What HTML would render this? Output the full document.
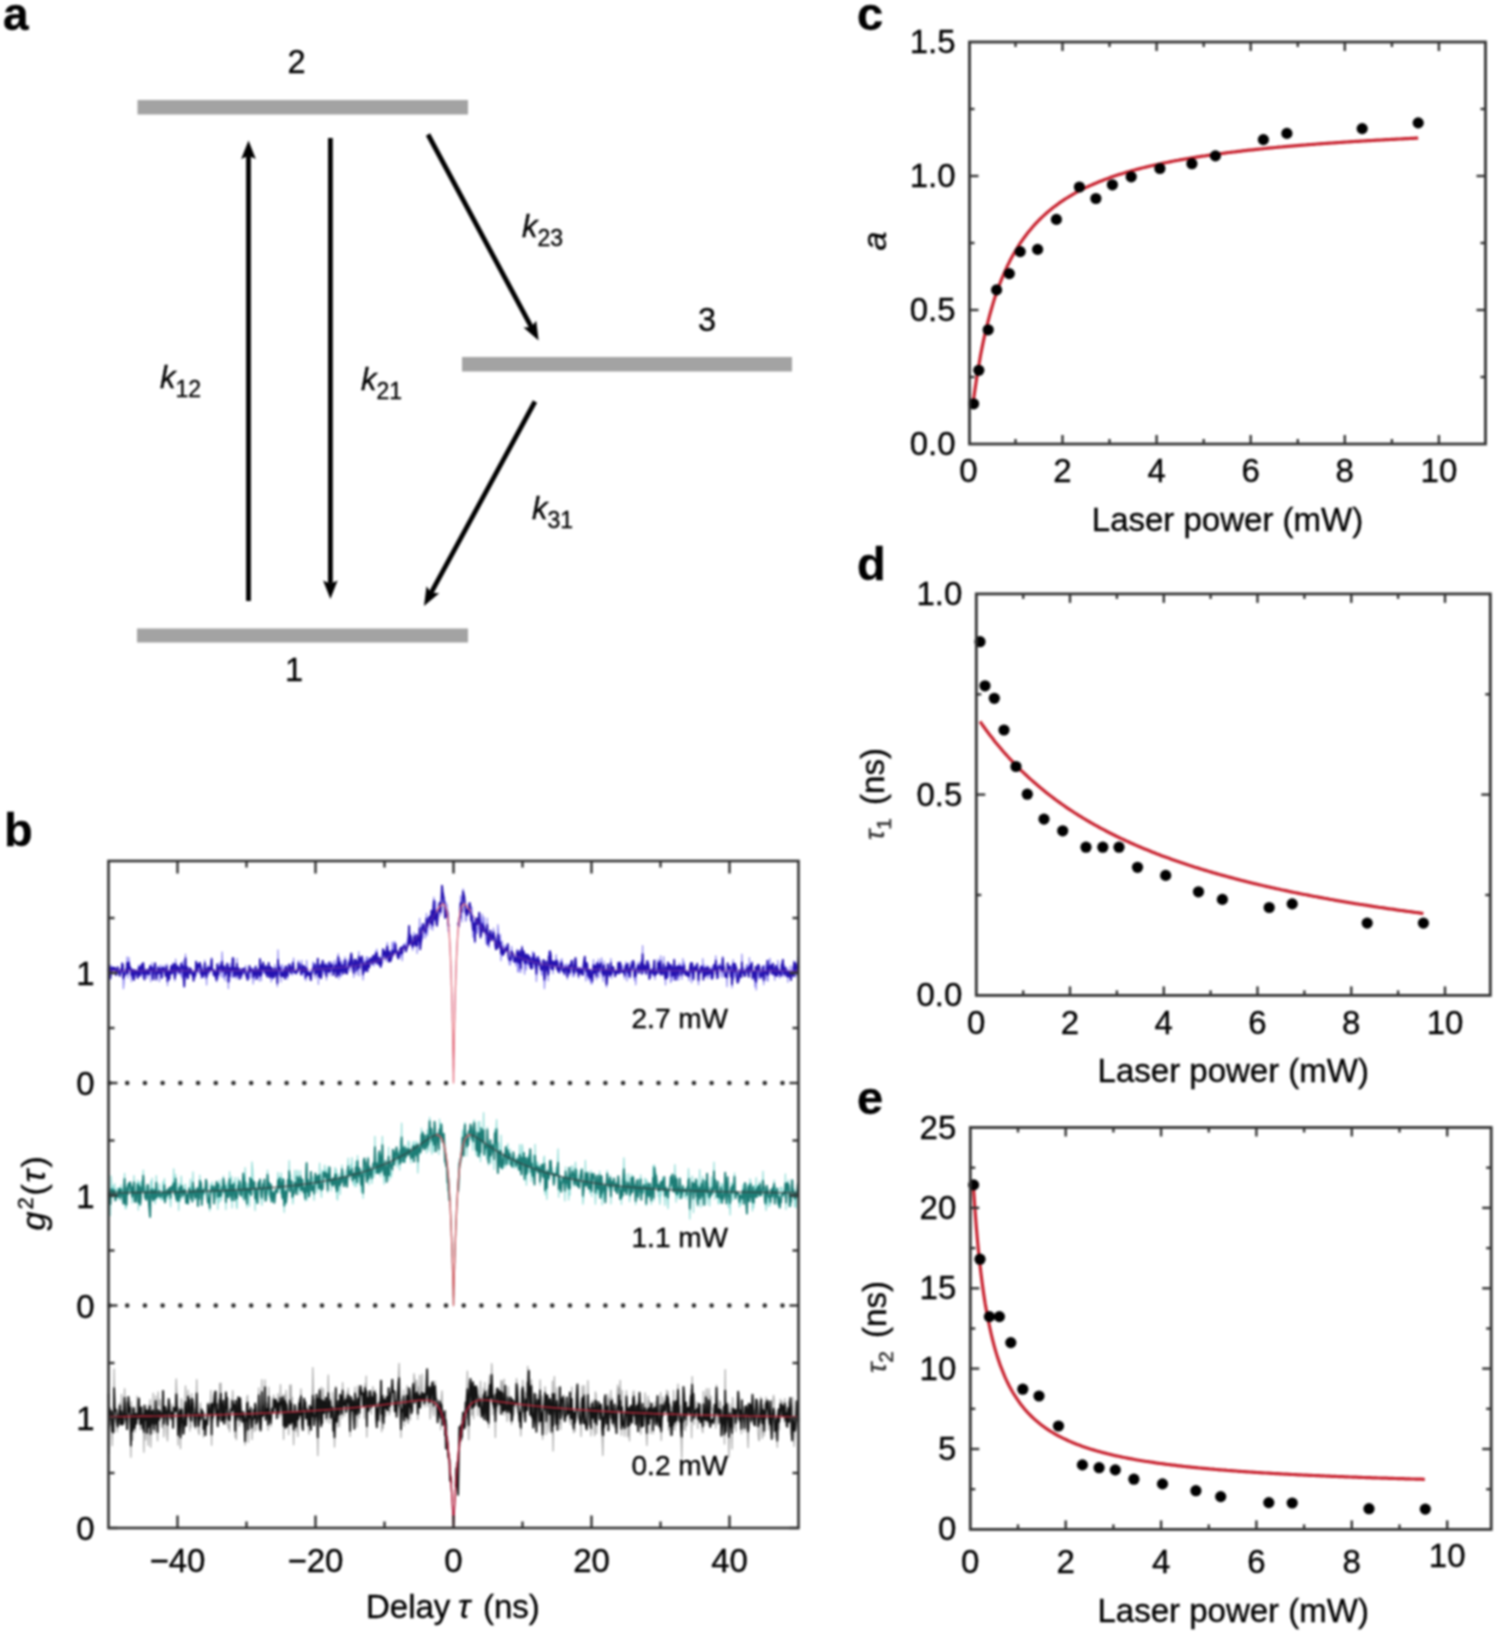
<!DOCTYPE html>
<html><head><meta charset="utf-8"><title>Figure</title>
<style>html,body{margin:0;padding:0;background:#fff;} text{stroke:#000;stroke-width:0.35px;} svg{display:block;} #w{filter:blur(1px);width:1500px;height:1634px;}</style></head>
<body><div id="w"><svg width="1500" height="1634" viewBox="0 0 1500 1634" font-family="'Liberation Sans', Arial, Helvetica, sans-serif">
<rect width="1500" height="1634" fill="#fff"/>
<text x="3" y="29.5" font-size="46" font-weight="bold" fill="#000">a</text>
<rect x="137.5" y="100" width="330.5" height="14.5" fill="#a3a3a3"/>
<rect x="462" y="357" width="330" height="14.5" fill="#a3a3a3"/>
<rect x="137" y="628.5" width="331" height="14" fill="#a3a3a3"/>
<text x="296.5" y="72.5" font-size="32.5" text-anchor="middle" fill="#000">2</text>
<text x="707" y="330.5" font-size="32.5" text-anchor="middle" fill="#000">3</text>
<text x="294" y="681" font-size="32.5" text-anchor="middle" fill="#000">1</text>
<line x1="248.5" y1="601.0" x2="248.5" y2="155.7" stroke="#000" stroke-width="4.8"/>
<polygon points="248.5,140.5 255.8,159.0 248.5,155.7 241.2,159.0" fill="#000"/>
<line x1="330.4" y1="138.0" x2="330.4" y2="583.8" stroke="#000" stroke-width="4.8"/>
<polygon points="330.4,599.0 323.1,580.5 330.4,583.8 337.6,580.5" fill="#000"/>
<line x1="428.0" y1="134.5" x2="531.4" y2="327.1" stroke="#000" stroke-width="4.8"/>
<polygon points="538.6,340.5 523.5,327.6 531.4,327.1 536.2,320.8" fill="#000"/>
<line x1="535.0" y1="401.5" x2="431.2" y2="592.7" stroke="#000" stroke-width="4.8"/>
<polygon points="424.0,606.0 426.5,586.3 431.2,592.7 439.2,593.2" fill="#000"/>
<text x="160" y="388" font-size="31" fill="#000"><tspan font-style="italic">k</tspan><tspan font-size="23" dy="9">12</tspan></text>
<text x="361" y="390" font-size="31" fill="#000"><tspan font-style="italic">k</tspan><tspan font-size="23" dy="9">21</tspan></text>
<text x="522" y="237" font-size="31" fill="#000"><tspan font-style="italic">k</tspan><tspan font-size="23" dy="9">23</tspan></text>
<text x="532" y="519" font-size="31" fill="#000"><tspan font-style="italic">k</tspan><tspan font-size="23" dy="9">31</tspan></text>
<text x="4" y="845.5" font-size="47" font-weight="bold" fill="#000">b</text>
<polyline points="108.5,968.5 109.1,965.4 109.7,968.6 110.4,979.4 111.0,964.8 111.6,967.9 112.2,974.3 112.8,967.0 113.5,968.4 114.1,968.9 114.7,970.6 115.3,967.2 116.0,975.7 116.6,971.9 117.2,974.0 117.8,966.8 118.4,970.5 119.1,972.7 119.7,976.0 120.3,972.5 120.9,970.7 121.5,972.6 122.2,962.3 122.8,964.2 123.4,988.7 124.0,983.3 124.6,971.9 125.3,973.6 125.9,969.4 126.5,969.4 127.1,956.8 127.8,978.1 128.4,973.3 129.0,957.3 129.6,966.5 130.2,966.4 130.9,974.2 131.5,981.7 132.1,969.7 132.7,970.1 133.3,978.9 134.0,975.3 134.6,971.3 135.2,977.0 135.8,971.4 136.4,970.2 137.1,970.6 137.7,974.1 138.3,966.9 138.9,964.9 139.6,968.7 140.2,976.2 140.8,966.0 141.4,974.1 142.0,965.0 142.7,977.9 143.3,964.8 143.9,970.9 144.5,979.0 145.1,972.9 145.8,970.4 146.4,969.0 147.0,977.3 147.6,978.1 148.2,969.5 148.9,973.9 149.5,969.2 150.1,965.8 150.7,981.7 151.3,969.1 152.0,962.7 152.6,972.8 153.2,976.1 153.8,965.8 154.5,969.1 155.1,964.9 155.7,973.1 156.3,980.6 156.9,971.5 157.6,973.7 158.2,965.7 158.8,969.5 159.4,981.6 160.0,978.7 160.7,965.0 161.3,966.3 161.9,975.0 162.5,970.8 163.1,967.8 163.8,967.7 164.4,965.0 165.0,969.1 165.6,971.4 166.3,972.5 166.9,963.8 167.5,985.6 168.1,971.7 168.7,970.6 169.4,980.2 170.0,968.6 170.6,975.1 171.2,965.1 171.8,971.6 172.5,966.4 173.1,962.7 173.7,968.3 174.3,976.6 174.9,980.8 175.6,959.2 176.2,971.5 176.8,975.3 177.4,969.8 178.1,972.0 178.7,965.2 179.3,970.6 179.9,970.7 180.5,975.5 181.2,967.7 181.8,977.6 182.4,966.4 183.0,960.7 183.6,980.8 184.3,987.1 184.9,966.7 185.5,954.0 186.1,977.4 186.7,979.0 187.4,966.9 188.0,976.3 188.6,974.1 189.2,973.1 189.9,967.3 190.5,973.4 191.1,968.9 191.7,971.9 192.3,976.3 193.0,972.9 193.6,977.0 194.2,970.7 194.8,978.2 195.4,978.0 196.1,961.1 196.7,971.1 197.3,971.1 197.9,967.4 198.5,973.5 199.2,972.3 199.8,967.9 200.4,968.9 201.0,978.4 201.7,965.3 202.3,974.7 202.9,977.7 203.5,976.7 204.1,973.3 204.8,960.0 205.4,978.5 206.0,969.7 206.6,984.9 207.2,970.8 207.9,964.8 208.5,972.3 209.1,974.9 209.7,969.2 210.3,966.1 211.0,966.4 211.6,957.7 212.2,969.4 212.8,974.6 213.4,971.6 214.1,971.2 214.7,970.0 215.3,970.9 215.9,969.6 216.6,981.8 217.2,965.2 217.8,974.5 218.4,978.5 219.0,966.5 219.7,962.0 220.3,967.5 220.9,969.7 221.5,976.9 222.1,951.8 222.8,964.9 223.4,978.2 224.0,975.9 224.6,970.1 225.2,981.0 225.9,969.6 226.5,973.7 227.1,962.6 227.7,964.3 228.4,988.6 229.0,970.4 229.6,981.4 230.2,963.4 230.8,969.6 231.5,967.1 232.1,977.7 232.7,958.6 233.3,957.3 233.9,977.7 234.6,968.2 235.2,975.1 235.8,970.8 236.4,979.0 237.0,958.3 237.7,977.1 238.3,972.6 238.9,967.3 239.5,974.9 240.2,972.2 240.8,974.4 241.4,971.5 242.0,978.4 242.6,973.5 243.3,972.0 243.9,972.8 244.5,970.3 245.1,972.6 245.7,965.6 246.4,972.8 247.0,971.5 247.6,975.0 248.2,974.1 248.8,979.0 249.5,967.2 250.1,978.1 250.7,975.5 251.3,968.2 252.0,967.9 252.6,973.2 253.2,983.9 253.8,967.8 254.4,968.9 255.1,979.9 255.7,965.5 256.3,975.2 256.9,978.0 257.5,969.9 258.2,971.7 258.8,969.2 259.4,981.1 260.0,958.5 260.6,974.5 261.3,980.7 261.9,966.4 262.5,972.8 263.1,968.3 263.8,972.7 264.4,970.9 265.0,968.9 265.6,975.4 266.2,966.0 266.9,973.6 267.5,976.2 268.1,969.9 268.7,967.5 269.3,971.9 270.0,976.1 270.6,966.3 271.2,982.0 271.8,977.2 272.4,970.1 273.1,979.4 273.7,970.2 274.3,970.7 274.9,964.4 275.5,976.4 276.2,974.5 276.8,968.1 277.4,986.6 278.0,949.8 278.7,974.9 279.3,975.1 279.9,964.6 280.5,970.5 281.1,982.0 281.8,966.1 282.4,964.6 283.0,973.2 283.6,972.1 284.2,967.0 284.9,976.2 285.5,967.3 286.1,968.9 286.7,974.6 287.3,979.4 288.0,971.6 288.6,975.9 289.2,963.5 289.8,969.2 290.5,964.9 291.1,969.2 291.7,968.3 292.3,975.2 292.9,965.6 293.6,958.2 294.2,972.1 294.8,973.9 295.4,971.0 296.0,973.2 296.7,974.6 297.3,969.0 297.9,971.8 298.5,960.4 299.1,969.9 299.8,967.7 300.4,963.5 301.0,971.8 301.6,960.3 302.3,974.0 302.9,975.1 303.5,972.2 304.1,970.5 304.7,979.0 305.4,969.9 306.0,980.7 306.6,960.4 307.2,970.2 307.8,973.9 308.5,975.6 309.1,972.1 309.7,971.0 310.3,976.5 310.9,975.6 311.6,970.7 312.2,972.9 312.8,963.2 313.4,961.8 314.1,969.3 314.7,966.2 315.3,978.2 315.9,965.0 316.5,969.5 317.2,966.0 317.8,958.6 318.4,984.3 319.0,967.4 319.6,976.4 320.3,965.1 320.9,977.8 321.5,972.3 322.1,967.6 322.7,964.8 323.4,968.4 324.0,974.1 324.6,972.5 325.2,962.9 325.9,968.8 326.5,979.9 327.1,963.0 327.7,965.8 328.3,962.8 329.0,970.8 329.6,963.0 330.2,975.5 330.8,964.6 331.4,971.6 332.1,963.8 332.7,961.6 333.3,973.1 333.9,968.5 334.5,967.9 335.2,960.1 335.8,963.3 336.4,976.1 337.0,964.8 337.6,962.9 338.3,953.6 338.9,979.0 339.5,971.3 340.1,958.7 340.8,976.6 341.4,975.5 342.0,964.0 342.6,960.5 343.2,971.8 343.9,963.6 344.5,966.4 345.1,956.9 345.7,967.0 346.3,960.3 347.0,972.9 347.6,968.0 348.2,967.4 348.8,959.0 349.4,962.7 350.1,971.5 350.7,961.8 351.3,961.1 351.9,967.0 352.6,967.9 353.2,967.4 353.8,977.4 354.4,964.6 355.0,964.2 355.7,971.5 356.3,960.6 356.9,974.8 357.5,969.1 358.1,968.5 358.8,951.7 359.4,975.9 360.0,961.2 360.6,958.5 361.2,962.2 361.9,956.6 362.5,971.3 363.1,979.9 363.7,959.1 364.4,972.3 365.0,966.2 365.6,971.9 366.2,956.6 366.8,957.7 367.5,968.4 368.1,957.2 368.7,962.4 369.3,964.0 369.9,962.5 370.6,964.1 371.2,958.4 371.8,960.3 372.4,964.7 373.0,955.2 373.7,966.1 374.3,959.8 374.9,958.7 375.5,951.3 376.2,964.7 376.8,949.1 377.4,959.7 378.0,962.0 378.6,965.1 379.3,956.2 379.9,959.8 380.5,967.5 381.1,967.5 381.7,963.3 382.4,963.9 383.0,951.5 383.6,949.3 384.2,952.5 384.8,955.8 385.5,961.1 386.1,957.5 386.7,951.4 387.3,942.5 388.0,950.7 388.6,958.8 389.2,956.3 389.8,959.7 390.4,961.5 391.1,957.0 391.7,954.1 392.3,942.2 392.9,954.5 393.5,945.0 394.2,941.7 394.8,953.4 395.4,942.2 396.0,948.2 396.6,955.9 397.3,950.7 397.9,952.1 398.5,953.6 399.1,953.0 399.7,950.1 400.4,947.7 401.0,956.8 401.6,950.1 402.2,960.6 402.9,947.3 403.5,944.3 404.1,947.2 404.7,945.9 405.3,943.2 406.0,951.9 406.6,948.4 407.2,942.4 407.8,938.4 408.4,942.3 409.1,926.0 409.7,944.9 410.3,936.4 410.9,933.9 411.5,943.6 412.2,948.2 412.8,950.3 413.4,939.8 414.0,932.2 414.7,937.8 415.3,938.0 415.9,941.5 416.5,933.8 417.1,953.5 417.8,935.0 418.4,935.9 419.0,945.8 419.6,918.3 420.2,944.7 420.9,941.6 421.5,941.9 422.1,923.5 422.7,938.0 423.3,925.3 424.0,925.2 424.6,926.9 425.2,938.3 425.8,932.1 426.5,913.4 427.1,935.7 427.7,931.3 428.3,925.2 428.9,916.7 429.6,920.1 430.2,915.3 430.8,928.8 431.4,911.8 432.0,913.8 432.7,930.2 433.3,904.1 433.9,897.0 434.5,920.7 435.1,913.0 435.8,901.1 436.4,923.6 437.0,926.8 437.6,920.2 438.3,913.3 438.9,912.6 439.5,901.9 440.1,904.0 440.7,915.8 441.4,900.2 442.0,888.9 442.6,894.3 443.2,896.0 443.8,904.3 444.5,897.0 445.1,914.2 445.7,901.6 446.3,910.8 446.9,904.0 447.6,913.6 448.2,931.4 448.8,928.8" fill="none" stroke="#8f88f0" stroke-width="1.2" stroke-linejoin="round"/>
<polyline points="458.1,923.5 458.7,927.7 459.4,917.3 460.0,915.0 460.6,895.7 461.2,906.5 461.8,921.9 462.5,901.9 463.1,888.9 463.7,898.5 464.3,896.9 465.0,904.2 465.6,921.3 466.2,920.5 466.8,916.4 467.4,907.9 468.1,905.1 468.7,902.9 469.3,912.3 469.9,902.6 470.5,913.7 471.2,918.1 471.8,906.5 472.4,921.8 473.0,937.4 473.6,924.9 474.3,916.6 474.9,942.9 475.5,922.1 476.1,922.8 476.8,932.4 477.4,933.7 478.0,926.6 478.6,928.1 479.2,914.8 479.9,922.6 480.5,938.7 481.1,933.9 481.7,922.6 482.3,914.2 483.0,926.6 483.6,928.0 484.2,916.9 484.8,932.1 485.4,935.0 486.1,944.1 486.7,937.9 487.3,918.2 487.9,946.2 488.6,936.0 489.2,947.3 489.8,936.4 490.4,931.3 491.0,940.4 491.7,933.7 492.3,934.4 492.9,937.1 493.5,928.2 494.1,935.7 494.8,944.3 495.4,947.6 496.0,949.4 496.6,940.1 497.2,946.5 497.9,924.7 498.5,931.7 499.1,947.2 499.7,948.5 500.4,934.3 501.0,960.7 501.6,950.7 502.2,941.0 502.8,954.9 503.5,952.2 504.1,951.7 504.7,944.8 505.3,949.0 505.9,947.5 506.6,946.5 507.2,950.9 507.8,943.6 508.4,957.1 509.0,962.4 509.7,965.2 510.3,964.4 510.9,957.1 511.5,946.3 512.2,952.7 512.8,958.4 513.4,962.1 514.0,958.6 514.6,958.0 515.3,959.4 515.9,965.8 516.5,959.3 517.1,949.1 517.7,971.8 518.4,958.5 519.0,971.9 519.6,956.1 520.2,962.8 520.8,972.4 521.5,957.4 522.1,945.7 522.7,957.8 523.3,950.7 523.9,959.5 524.6,974.2 525.2,956.0 525.8,962.5 526.4,970.0 527.1,954.6 527.7,958.3 528.3,964.1 528.9,954.7 529.5,966.9 530.2,956.6 530.8,967.7 531.4,957.7 532.0,969.1 532.6,951.5 533.3,960.2 533.9,952.3 534.5,967.9 535.1,965.7 535.7,956.8 536.4,981.5 537.0,970.2 537.6,956.0 538.2,960.0 538.9,956.6 539.5,965.6 540.1,959.8 540.7,968.7 541.3,973.2 542.0,975.5 542.6,967.9 543.2,968.0 543.8,968.6 544.4,988.6 545.1,978.2 545.7,968.3 546.3,962.9 546.9,968.9 547.5,971.0 548.2,980.8 548.8,951.6 549.4,972.8 550.0,954.1 550.7,955.0 551.3,963.8 551.9,969.6 552.5,965.0 553.1,973.7 553.8,964.3 554.4,966.1 555.0,962.6 555.6,959.9 556.2,954.7 556.9,969.1 557.5,959.5 558.1,972.0 558.7,972.7 559.3,970.9 560.0,973.5 560.6,960.4 561.2,960.8 561.8,958.6 562.5,967.3 563.1,965.4 563.7,971.2 564.3,975.1 564.9,964.4 565.6,965.7 566.2,975.0 566.8,963.7 567.4,979.3 568.0,968.9 568.7,972.0 569.3,971.4 569.9,975.1 570.5,961.6 571.1,964.2 571.8,960.2 572.4,967.2 573.0,976.8 573.6,970.7 574.3,976.2 574.9,965.3 575.5,960.4 576.1,966.3 576.7,972.5 577.4,971.0 578.0,967.3 578.6,978.3 579.2,967.7 579.8,967.4 580.5,972.4 581.1,971.6 581.7,967.8 582.3,974.4 582.9,974.4 583.6,963.8 584.2,967.6 584.8,957.9 585.4,975.7 586.0,981.0 586.7,962.9 587.3,962.9 587.9,974.2 588.5,979.1 589.2,969.7 589.8,981.0 590.4,971.7 591.0,984.0 591.6,971.1 592.3,983.6 592.9,971.1 593.5,959.5 594.1,971.4 594.7,964.6 595.4,974.0 596.0,975.7 596.6,979.7 597.2,962.9 597.8,970.2 598.5,959.1 599.1,977.7 599.7,971.4 600.3,969.4 601.0,960.6 601.6,957.9 602.2,974.3 602.8,977.6 603.4,981.6 604.1,961.2 604.7,970.7 605.3,974.4 605.9,970.5 606.5,987.1 607.2,981.6 607.8,964.0 608.4,967.6 609.0,969.3 609.6,976.9 610.3,966.4 610.9,958.5 611.5,978.4 612.1,970.3 612.8,973.2 613.4,968.0 614.0,970.3 614.6,971.4 615.2,976.3 615.9,970.5 616.5,974.5 617.1,971.4 617.7,970.9 618.3,966.2 619.0,974.4 619.6,972.7 620.2,963.4 620.8,972.0 621.4,972.3 622.1,964.8 622.7,968.8 623.3,970.0 623.9,969.1 624.6,978.8 625.2,967.6 625.8,961.8 626.4,966.8 627.0,980.9 627.7,968.7 628.3,976.6 628.9,972.1 629.5,969.8 630.1,978.5 630.8,961.8 631.4,971.1 632.0,965.4 632.6,966.4 633.2,961.8 633.9,962.8 634.5,980.4 635.1,970.4 635.7,984.8 636.4,973.6 637.0,965.9 637.6,964.6 638.2,962.2 638.8,973.2 639.5,968.6 640.1,970.0 640.7,962.3 641.3,960.2 641.9,973.1 642.6,945.7 643.2,970.7 643.8,973.1 644.4,966.7 645.0,965.7 645.7,967.1 646.3,975.0 646.9,961.0 647.5,970.4 648.1,960.6 648.8,961.5 649.4,979.1 650.0,977.2 650.6,977.3 651.3,969.1 651.9,970.3 652.5,968.9 653.1,976.1 653.7,967.9 654.4,961.4 655.0,979.5 655.6,972.0 656.2,969.1 656.8,971.6 657.5,972.0 658.1,959.0 658.7,962.2 659.3,965.1 659.9,975.7 660.6,955.9 661.2,968.3 661.8,974.5 662.4,973.0 663.1,974.0 663.7,956.7 664.3,969.4 664.9,970.3 665.5,985.0 666.2,965.9 666.8,977.7 667.4,978.2 668.0,966.7 668.6,976.4 669.3,965.2 669.9,963.3 670.5,982.6 671.1,971.7 671.7,981.1 672.4,971.2 673.0,964.7 673.6,979.8 674.2,958.9 674.9,972.8 675.5,978.6 676.1,971.6 676.7,965.6 677.3,979.9 678.0,970.8 678.6,979.9 679.2,962.9 679.8,969.8 680.4,973.6 681.1,964.0 681.7,979.3 682.3,973.4 682.9,958.6 683.5,971.7 684.2,961.9 684.8,969.6 685.4,975.5 686.0,972.5 686.7,970.3 687.3,973.6 687.9,976.3 688.5,976.0 689.1,980.7 689.8,970.1 690.4,968.3 691.0,965.9 691.6,982.8 692.2,965.6 692.9,971.0 693.5,980.3 694.1,970.2 694.7,965.5 695.3,967.4 696.0,966.1 696.6,964.6 697.2,965.0 697.8,971.1 698.5,984.6 699.1,975.9 699.7,968.5 700.3,974.0 700.9,966.4 701.6,965.6 702.2,970.6 702.8,958.5 703.4,977.3 704.0,964.7 704.7,974.0 705.3,976.0 705.9,967.0 706.5,975.0 707.1,965.2 707.8,978.6 708.4,970.7 709.0,976.5 709.6,972.4 710.2,973.3 710.9,978.3 711.5,966.6 712.1,979.1 712.7,977.4 713.4,965.0 714.0,964.5 714.6,966.5 715.2,968.6 715.8,955.8 716.5,978.9 717.1,975.8 717.7,977.4 718.3,965.0 718.9,969.0 719.6,963.5 720.2,964.5 720.8,972.4 721.4,976.3 722.0,977.4 722.7,956.3 723.3,964.5 723.9,967.0 724.5,973.1 725.2,972.2 725.8,973.1 726.4,973.0 727.0,986.7 727.6,971.3 728.3,973.4 728.9,969.0 729.5,969.5 730.1,965.2 730.7,971.0 731.4,965.6 732.0,987.8 732.6,978.1 733.2,959.5 733.8,978.9 734.5,972.7 735.1,966.2 735.7,976.7 736.3,966.1 737.0,980.3 737.6,983.5 738.2,979.7 738.8,981.8 739.4,971.0 740.1,973.0 740.7,968.7 741.3,977.7 741.9,954.1 742.5,971.5 743.2,971.2 743.8,967.9 744.4,972.5 745.0,975.0 745.6,970.3 746.3,964.8 746.9,966.5 747.5,964.7 748.1,974.6 748.8,976.0 749.4,957.6 750.0,972.5 750.6,967.7 751.2,966.0 751.9,961.5 752.5,979.8 753.1,974.0 753.7,973.7 754.3,972.9 755.0,986.8 755.6,971.5 756.2,990.0 756.8,968.9 757.4,967.3 758.1,966.9 758.7,978.8 759.3,964.6 759.9,976.6 760.6,979.0 761.2,977.3 761.8,976.4 762.4,969.7 763.0,965.4 763.7,984.7 764.3,974.4 764.9,964.9 765.5,969.5 766.1,967.5 766.8,980.7 767.4,964.5 768.0,981.1 768.6,969.5 769.2,961.8 769.9,958.4 770.5,967.4 771.1,965.0 771.7,974.8 772.3,974.0 773.0,963.1 773.6,970.8 774.2,971.6 774.8,980.1 775.5,969.8 776.1,966.5 776.7,976.0 777.3,974.1 777.9,960.4 778.6,969.6 779.2,972.7 779.8,978.3 780.4,974.9 781.0,972.4 781.7,961.8 782.3,974.8 782.9,959.0 783.5,976.9 784.1,973.2 784.8,965.2 785.4,972.4 786.0,976.3 786.6,971.7 787.3,967.8 787.9,982.1 788.5,972.4 789.1,971.5 789.7,973.5 790.4,965.9 791.0,974.5 791.6,973.2 792.2,970.5 792.8,966.0 793.5,972.3 794.1,960.8 794.7,976.8 795.3,962.3 795.9,976.5 796.6,971.9 797.2,968.4 797.8,957.2 798.4,964.9" fill="none" stroke="#8f88f0" stroke-width="1.2" stroke-linejoin="round"/>
<polyline points="108.5,971.0 109.1,965.8 109.7,967.4 110.4,977.9 111.0,967.9 111.6,968.0 112.2,970.9 112.8,967.7 113.5,969.7 114.1,967.7 114.7,968.9 115.3,968.2 116.0,975.1 116.6,971.0 117.2,970.7 117.8,967.2 118.4,970.4 119.1,972.6 119.7,975.9 120.3,973.6 120.9,969.1 121.5,970.2 122.2,963.8 122.8,964.6 123.4,978.3 124.0,976.0 124.6,975.0 125.3,974.8 125.9,969.4 126.5,972.1 127.1,963.0 127.8,973.4 128.4,970.9 129.0,962.5 129.6,968.5 130.2,967.3 130.9,968.9 131.5,975.2 132.1,971.5 132.7,969.7 133.3,978.3 134.0,979.9 134.6,970.0 135.2,973.8 135.8,973.5 136.4,970.9 137.1,973.8 137.7,978.1 138.3,974.0 138.9,967.5 139.6,970.7 140.2,975.6 140.8,966.1 141.4,968.3 142.0,964.3 142.7,973.5 143.3,963.0 143.9,969.7 144.5,979.5 145.1,972.3 145.8,970.3 146.4,973.2 147.0,973.9 147.6,971.3 148.2,969.5 148.9,974.3 149.5,970.4 150.1,966.0 150.7,970.2 151.3,968.5 152.0,967.7 152.6,975.7 153.2,979.5 153.8,969.9 154.5,968.1 155.1,963.1 155.7,973.3 156.3,979.0 156.9,973.3 157.6,973.3 158.2,967.7 158.8,969.1 159.4,973.0 160.0,971.2 160.7,968.3 161.3,973.6 161.9,977.9 162.5,970.2 163.1,967.6 163.8,970.9 164.4,968.3 165.0,972.2 165.6,976.1 166.3,973.0 166.9,966.2 167.5,981.2 168.1,971.6 168.7,971.2 169.4,978.9 170.0,971.7 170.6,973.1 171.2,966.1 171.8,973.5 172.5,971.0 173.1,965.3 173.7,964.4 174.3,972.8 174.9,978.3 175.6,963.7 176.2,970.1 176.8,971.1 177.4,966.5 178.1,967.7 178.7,967.5 179.3,972.7 179.9,971.0 180.5,972.1 181.2,963.5 181.8,967.0 182.4,967.2 183.0,966.3 183.6,978.7 184.3,986.3 184.9,970.1 185.5,958.2 186.1,975.7 186.7,974.6 187.4,967.2 188.0,978.2 188.6,973.8 189.2,970.5 189.9,968.5 190.5,972.8 191.1,969.4 191.7,971.3 192.3,974.7 193.0,976.0 193.6,980.8 194.2,972.1 194.8,975.4 195.4,975.4 196.1,961.6 196.7,969.3 197.3,971.1 197.9,964.2 198.5,967.1 199.2,966.8 199.8,962.6 200.4,965.2 201.0,974.1 201.7,969.3 202.3,976.9 202.9,976.1 203.5,972.5 204.1,971.7 204.8,963.0 205.4,974.9 206.0,969.1 206.6,977.0 207.2,970.7 207.9,967.3 208.5,971.9 209.1,968.6 209.7,968.1 210.3,970.7 211.0,965.4 211.6,959.1 212.2,969.1 212.8,970.3 213.4,969.9 214.1,975.6 214.7,971.7 215.3,972.6 215.9,977.4 216.6,980.2 217.2,964.3 217.8,970.1 218.4,974.9 219.0,968.8 219.7,967.0 220.3,967.3 220.9,965.2 221.5,971.5 222.1,961.7 222.8,969.4 223.4,970.8 224.0,968.6 224.6,966.5 225.2,975.3 225.9,970.7 226.5,972.0 227.1,963.9 227.7,965.7 228.4,981.6 229.0,967.9 229.6,976.1 230.2,968.6 230.8,971.2 231.5,967.6 232.1,970.2 232.7,958.3 233.3,958.8 233.9,976.1 234.6,967.9 235.2,968.3 235.8,970.0 236.4,975.8 237.0,963.9 237.7,974.3 238.3,970.4 238.9,968.8 239.5,978.9 240.2,976.6 240.8,972.0 241.4,969.2 242.0,974.6 242.6,971.8 243.3,968.6 243.9,970.9 244.5,968.5 245.1,972.7 245.7,973.8 246.4,976.1 247.0,977.6 247.6,979.9 248.2,972.2 248.8,970.8 249.5,966.0 250.1,971.6 250.7,969.8 251.3,969.7 252.0,969.5 252.6,972.0 253.2,977.4 253.8,970.4 254.4,970.5 255.1,975.1 255.7,966.7 256.3,974.7 256.9,978.8 257.5,970.8 258.2,969.4 258.8,970.3 259.4,976.0 260.0,959.2 260.6,973.0 261.3,975.3 261.9,965.5 262.5,969.5 263.1,962.5 263.8,965.9 264.4,970.3 265.0,971.3 265.6,973.1 266.2,966.1 266.9,973.4 267.5,976.8 268.1,970.1 268.7,962.9 269.3,971.9 270.0,977.5 270.6,967.0 271.2,976.3 271.8,971.3 272.4,968.5 273.1,977.6 273.7,974.9 274.3,976.9 274.9,968.1 275.5,972.0 276.2,974.3 276.8,970.6 277.4,983.2 278.0,960.0 278.7,970.0 279.3,968.5 279.9,967.7 280.5,970.8 281.1,976.2 281.8,972.9 282.4,972.9 283.0,976.3 283.6,973.2 284.2,970.3 284.9,978.7 285.5,971.9 286.1,966.2 286.7,970.5 287.3,976.2 288.0,970.0 288.6,968.3 289.2,964.7 289.8,971.1 290.5,967.4 291.1,973.2 291.7,970.4 292.3,967.2 292.9,962.7 293.6,968.1 294.2,972.4 294.8,971.5 295.4,972.7 296.0,972.4 296.7,972.6 297.3,969.5 297.9,970.9 298.5,962.9 299.1,967.5 299.8,967.8 300.4,968.3 301.0,974.5 301.6,965.0 302.3,971.3 302.9,972.0 303.5,969.1 304.1,965.9 304.7,971.6 305.4,968.0 306.0,977.2 306.6,968.5 307.2,972.6 307.8,975.1 308.5,974.2 309.1,972.3 309.7,972.9 310.3,978.3 310.9,980.1 311.6,973.0 312.2,972.7 312.8,969.6 313.4,968.1 314.1,967.2 314.7,964.3 315.3,974.6 315.9,969.2 316.5,972.8 317.2,968.4 317.8,958.8 318.4,976.5 319.0,972.4 319.6,976.4 320.3,964.9 320.9,978.2 321.5,976.0 322.1,963.7 322.7,960.7 323.4,965.9 324.0,970.2 324.6,968.2 325.2,965.0 325.9,972.2 326.5,976.3 327.1,965.8 327.7,967.8 328.3,968.3 329.0,972.1 329.6,962.1 330.2,971.0 330.8,965.7 331.4,966.8 332.1,964.6 332.7,968.1 333.3,975.1 333.9,971.3 334.5,970.8 335.2,965.2 335.8,966.4 336.4,976.9 337.0,971.9 337.6,965.5 338.3,957.0 338.9,975.1 339.5,970.2 340.1,962.4 340.8,971.7 341.4,969.7 342.0,965.4 342.6,966.0 343.2,973.7 343.9,969.6 344.5,966.4 345.1,960.0 345.7,972.8 346.3,968.6 347.0,973.7 347.6,968.4 348.2,968.2 348.8,962.7 349.4,962.4 350.1,966.3 350.7,956.9 351.3,953.4 351.9,958.4 352.6,966.8 353.2,969.9 353.8,973.1 354.4,960.6 355.0,959.4 355.7,965.5 356.3,960.6 356.9,970.2 357.5,965.0 358.1,966.7 358.8,956.5 359.4,967.9 360.0,960.9 360.6,959.3 361.2,957.9 361.9,956.4 362.5,968.4 363.1,974.3 363.7,963.0 364.4,969.9 365.0,965.8 365.6,970.1 366.2,961.6 366.8,964.7 367.5,971.3 368.1,960.8 368.7,964.4 369.3,967.3 369.9,960.7 370.6,958.1 371.2,959.2 371.8,961.3 372.4,963.8 373.0,956.0 373.7,962.4 374.3,961.6 374.9,956.9 375.5,954.2 376.2,962.4 376.8,952.9 377.4,961.3 378.0,961.6 378.6,964.0 379.3,957.7 379.9,959.7 380.5,966.7 381.1,964.7 381.7,958.6 382.4,958.0 383.0,949.1 383.6,953.0 384.2,955.1 384.8,951.6 385.5,958.3 386.1,956.6 386.7,948.8 387.3,946.5 388.0,957.2 388.6,961.6 389.2,951.4 389.8,952.1 390.4,961.3 391.1,959.5 391.7,957.2 392.3,950.3 392.9,955.3 393.5,953.9 394.2,951.3 394.8,949.9 395.4,944.2 396.0,951.4 396.6,953.2 397.3,951.8 397.9,957.4 398.5,958.4 399.1,955.6 399.7,950.1 400.4,948.3 401.0,953.3 401.6,947.2 402.2,953.4 402.9,948.7 403.5,948.4 404.1,945.6 404.7,946.3 405.3,947.7 406.0,951.4 406.6,948.9 407.2,946.6 407.8,946.5 408.4,940.9 409.1,926.0 409.7,944.1 410.3,940.9 410.9,936.3 411.5,942.5 412.2,945.2 412.8,946.8 413.4,942.4 414.0,936.4 414.7,939.8 415.3,944.8 415.9,945.7 416.5,934.9 417.1,945.4 417.8,936.9 418.4,937.4 419.0,940.5 419.6,928.3 420.2,949.2 420.9,942.2 421.5,939.3 422.1,926.8 422.7,928.3 423.3,923.9 424.0,929.8 424.6,929.3 425.2,932.7 425.8,931.2 426.5,918.4 427.1,926.6 427.7,924.9 428.3,924.4 428.9,918.3 429.6,916.8 430.2,918.5 430.8,923.3 431.4,910.7 432.0,915.5 432.7,925.5 433.3,909.4 433.9,900.7 434.5,917.4 435.1,919.1 435.8,910.7 436.4,923.0 437.0,925.3 437.6,918.1 438.3,911.9 438.9,907.7 439.5,903.3 440.1,906.4 440.7,912.1 441.4,900.0 442.0,885.7 442.6,891.4 443.2,894.5 443.8,901.6 444.5,905.4 445.1,917.9 445.7,910.9 446.3,916.6 446.9,910.5 447.6,913.0 448.2,923.7 448.8,926.6" fill="none" stroke="#2512b0" stroke-width="1.9" stroke-linejoin="round"/>
<polyline points="458.1,922.3 458.7,926.1 459.4,919.1 460.0,917.5 460.6,903.3 461.2,903.7 461.8,911.6 462.5,900.0 463.1,891.5 463.7,894.2 464.3,896.5 465.0,905.4 465.6,912.6 466.2,909.7 466.8,915.1 467.4,914.6 468.1,907.9 468.7,908.1 469.3,911.6 469.9,903.2 470.5,913.2 471.2,920.7 471.8,916.2 472.4,924.3 473.0,929.8 473.6,923.3 474.3,924.6 474.9,941.3 475.5,925.7 476.1,919.3 476.8,918.2 477.4,924.4 478.0,924.1 478.6,921.0 479.2,912.6 479.9,921.1 480.5,937.0 481.1,935.3 481.7,930.1 482.3,923.7 483.0,925.5 483.6,931.5 484.2,926.9 484.8,931.5 485.4,930.6 486.1,934.0 486.7,931.5 487.3,924.6 487.9,944.2 488.6,934.2 489.2,941.8 489.8,938.2 490.4,930.7 491.0,936.0 491.7,938.6 492.3,940.2 492.9,937.6 493.5,932.3 494.1,935.9 494.8,938.1 495.4,944.3 496.0,949.3 496.6,942.9 497.2,948.4 497.9,934.4 498.5,936.6 499.1,945.3 499.7,947.1 500.4,942.3 501.0,953.2 501.6,947.4 502.2,946.9 502.8,955.1 503.5,953.0 504.1,953.3 504.7,948.7 505.3,951.0 505.9,951.0 506.6,948.3 507.2,948.8 507.8,944.3 508.4,955.5 509.0,959.1 509.7,959.6 510.3,960.3 510.9,959.4 511.5,951.4 512.2,952.1 512.8,953.5 513.4,954.2 514.0,958.0 514.6,961.9 515.3,958.3 515.9,961.2 516.5,958.4 517.1,951.2 517.7,962.0 518.4,953.4 519.0,962.7 519.6,950.8 520.2,958.9 520.8,968.2 521.5,955.3 522.1,947.7 522.7,959.8 523.3,953.2 523.9,951.6 524.6,963.0 525.2,954.6 525.8,958.8 526.4,963.4 527.1,954.5 527.7,956.8 528.3,958.7 528.9,956.2 529.5,964.2 530.2,958.8 530.8,968.3 531.4,963.4 532.0,968.2 532.6,957.7 533.3,961.9 533.9,954.0 534.5,963.4 535.1,964.2 535.7,959.8 536.4,973.7 537.0,964.4 537.6,957.5 538.2,963.4 538.9,960.3 539.5,965.2 540.1,962.8 540.7,969.2 541.3,968.4 542.0,969.9 542.6,965.5 543.2,960.4 543.8,960.1 544.4,979.7 545.1,974.5 545.7,964.1 546.3,961.4 546.9,969.2 547.5,970.1 548.2,974.9 548.8,956.4 549.4,964.9 550.0,951.2 550.7,954.7 551.3,968.1 551.9,968.8 552.5,961.3 553.1,969.4 553.8,962.8 554.4,961.8 555.0,965.0 555.6,965.4 556.2,960.7 556.9,968.9 557.5,961.9 558.1,970.6 558.7,971.8 559.3,968.3 560.0,969.6 560.6,963.4 561.2,964.2 561.8,962.5 562.5,971.0 563.1,969.3 563.7,971.1 564.3,973.6 564.9,968.1 565.6,967.2 566.2,969.5 566.8,967.2 567.4,976.6 568.0,969.2 568.7,968.0 569.3,965.3 569.9,972.6 570.5,965.0 571.1,965.1 571.8,960.8 572.4,964.3 573.0,971.4 573.6,970.7 574.3,973.4 574.9,960.6 575.5,958.0 576.1,965.7 576.7,970.4 577.4,971.3 578.0,969.0 578.6,975.9 579.2,969.9 579.8,968.3 580.5,973.0 581.1,970.7 581.7,969.7 582.3,974.9 582.9,974.6 583.6,964.6 584.2,960.5 584.8,956.6 585.4,967.4 586.0,971.1 586.7,962.9 587.3,964.9 587.9,974.5 588.5,976.3 589.2,970.0 589.8,977.9 590.4,969.9 591.0,976.7 591.6,973.4 592.3,981.1 592.9,972.1 593.5,965.3 594.1,973.1 594.7,966.1 595.4,965.9 596.0,971.4 596.6,976.3 597.2,962.9 597.8,970.6 598.5,964.9 599.1,971.3 599.7,966.1 600.3,964.5 601.0,963.1 601.6,966.1 602.2,973.1 602.8,972.9 603.4,975.9 604.1,965.1 604.7,971.7 605.3,974.3 605.9,970.3 606.5,984.5 607.2,979.0 607.8,964.1 608.4,972.1 609.0,971.0 609.6,975.6 610.3,969.6 610.9,963.0 611.5,974.5 612.1,967.3 612.8,967.8 613.4,967.1 614.0,971.6 614.6,971.3 615.2,976.4 615.9,971.8 616.5,971.2 617.1,973.1 617.7,970.7 618.3,962.6 619.0,972.4 619.6,973.0 620.2,962.5 620.8,967.1 621.4,971.6 622.1,971.4 622.7,972.1 623.3,971.1 623.9,970.4 624.6,975.5 625.2,967.7 625.8,965.2 626.4,969.5 627.0,971.1 627.7,963.8 628.3,972.8 628.9,969.3 629.5,968.9 630.1,976.5 630.8,965.9 631.4,969.8 632.0,965.8 632.6,962.4 633.2,960.8 633.9,963.9 634.5,976.8 635.1,972.0 635.7,975.7 636.4,969.4 637.0,969.0 637.6,967.7 638.2,965.3 638.8,972.8 639.5,970.4 640.1,967.0 640.7,963.3 641.3,966.7 641.9,973.8 642.6,954.2 643.2,968.7 643.8,970.0 644.4,965.3 645.0,967.3 645.7,971.2 646.3,973.6 646.9,961.3 647.5,968.5 648.1,963.9 648.8,966.1 649.4,978.9 650.0,975.1 650.6,972.2 651.3,969.7 651.9,972.3 652.5,970.5 653.1,973.7 653.7,965.9 654.4,960.4 655.0,975.5 655.6,974.6 656.2,972.2 656.8,973.3 657.5,973.0 658.1,962.6 658.7,963.5 659.3,965.2 659.9,973.2 660.6,960.9 661.2,969.7 661.8,974.7 662.4,970.5 663.1,970.4 663.7,964.1 664.3,974.4 664.9,975.7 665.5,978.8 666.2,967.2 666.8,978.0 667.4,971.8 668.0,962.5 668.6,969.4 669.3,965.7 669.9,965.7 670.5,970.4 671.1,965.3 671.7,976.1 672.4,970.7 673.0,967.6 673.6,975.3 674.2,960.1 674.9,970.9 675.5,979.8 676.1,973.8 676.7,967.0 677.3,973.0 678.0,966.5 678.6,975.9 679.2,966.0 679.8,966.8 680.4,969.6 681.1,966.6 681.7,975.1 682.3,971.6 682.9,967.6 683.5,972.2 684.2,965.2 684.8,973.0 685.4,974.7 686.0,972.9 686.7,971.6 687.3,975.6 687.9,975.7 688.5,972.7 689.1,976.4 689.8,968.1 690.4,965.0 691.0,963.0 691.6,971.7 692.2,963.1 692.9,972.9 693.5,978.9 694.1,969.9 694.7,967.3 695.3,969.7 696.0,970.7 696.6,967.2 697.2,963.8 697.8,971.1 698.5,980.1 699.1,973.0 699.7,970.4 700.3,972.0 700.9,966.8 701.6,968.7 702.2,971.5 702.8,967.0 703.4,979.6 704.0,969.0 704.7,976.1 705.3,976.2 705.9,967.6 706.5,973.8 707.1,968.8 707.8,974.4 708.4,967.3 709.0,973.5 709.6,972.5 710.2,969.6 710.9,973.3 711.5,969.7 712.1,978.7 712.7,976.8 713.4,969.9 714.0,965.1 714.6,965.4 715.2,969.8 715.8,960.7 716.5,974.0 717.1,973.3 717.7,978.0 718.3,966.6 718.9,966.7 719.6,966.4 720.2,966.4 720.8,968.9 721.4,970.2 722.0,971.0 722.7,958.2 723.3,965.1 723.9,967.7 724.5,973.1 725.2,976.8 725.8,976.4 726.4,974.6 727.0,977.4 727.6,963.1 728.3,967.1 728.9,968.5 729.5,967.1 730.1,966.8 730.7,976.5 731.4,971.5 732.0,984.3 732.6,976.8 733.2,963.4 733.8,971.6 734.5,966.3 735.1,963.8 735.7,971.2 736.3,967.4 737.0,978.1 737.6,982.6 738.2,980.7 738.8,979.8 739.4,970.2 740.1,973.9 740.7,975.4 741.3,977.1 741.9,962.4 742.5,972.6 743.2,971.2 743.8,971.3 744.4,975.8 745.0,976.1 745.6,972.1 746.3,969.8 746.9,970.6 747.5,968.0 748.1,972.4 748.8,976.9 749.4,966.5 750.0,971.3 750.6,966.2 751.2,964.4 751.9,963.3 752.5,978.0 753.1,976.4 753.7,972.3 754.3,971.6 755.0,979.8 755.6,966.8 756.2,981.9 756.8,970.8 757.4,968.1 758.1,964.8 758.7,970.1 759.3,966.4 759.9,974.5 760.6,976.7 761.2,976.8 761.8,974.1 762.4,969.5 763.0,966.7 763.7,980.3 764.3,978.3 764.9,971.5 765.5,972.4 766.1,971.9 766.8,974.0 767.4,960.7 768.0,975.1 768.6,973.1 769.2,970.7 769.9,965.2 770.5,966.0 771.1,965.8 771.7,973.5 772.3,971.9 773.0,963.6 773.6,972.4 774.2,974.6 774.8,975.3 775.5,967.6 776.1,965.6 776.7,975.3 777.3,976.0 777.9,968.6 778.6,972.7 779.2,971.2 779.8,973.9 780.4,974.1 781.0,975.8 781.7,964.6 782.3,969.9 782.9,960.0 783.5,970.3 784.1,974.2 784.8,968.7 785.4,967.8 786.0,972.6 786.6,975.9 787.3,971.4 787.9,976.6 788.5,971.5 789.1,975.9 789.7,976.7 790.4,972.3 791.0,980.0 791.6,972.2 792.2,972.5 792.8,975.0 793.5,976.1 794.1,962.5 794.7,968.1 795.3,963.8 795.9,973.4 796.6,968.4 797.2,967.7 797.8,961.5 798.4,968.0" fill="none" stroke="#2512b0" stroke-width="1.9" stroke-linejoin="round"/>
<polyline points="108.5,970.8 109.4,970.8 110.2,970.8 111.1,970.8 111.9,970.8 112.8,970.8 113.7,970.8 114.5,970.8 115.4,970.8 116.3,970.8 117.1,970.8 118.0,970.8 118.8,970.8 119.7,970.8 120.6,970.8 121.4,970.8 122.3,970.8 123.2,970.8 124.0,970.8 124.9,970.8 125.8,970.8 126.6,970.8 127.5,970.8 128.3,970.8 129.2,970.8 130.1,970.8 130.9,970.8 131.8,970.8 132.6,970.8 133.5,970.8 134.4,970.8 135.2,970.8 136.1,970.8 137.0,970.8 137.8,970.8 138.7,970.8 139.6,970.8 140.4,970.8 141.3,970.8 142.1,970.8 143.0,970.8 143.9,970.8 144.7,970.8 145.6,970.8 146.4,970.8 147.3,970.8 148.2,970.8 149.0,970.8 149.9,970.8 150.8,970.8 151.6,970.8 152.5,970.8 153.3,970.8 154.2,970.8 155.1,970.8 155.9,970.8 156.8,970.8 157.7,970.8 158.5,970.8 159.4,970.8 160.2,970.8 161.1,970.8 162.0,970.8 162.8,970.8 163.7,970.8 164.6,970.8 165.4,970.8 166.3,970.8 167.1,970.8 168.0,970.8 168.9,970.8 169.7,970.8 170.6,970.8 171.5,970.8 172.3,970.8 173.2,970.8 174.1,970.8 174.9,970.8 175.8,970.8 176.6,970.8 177.5,970.8 178.4,970.8 179.2,970.8 180.1,970.8 180.9,970.8 181.8,970.8 182.7,970.8 183.5,970.8 184.4,970.8 185.3,970.8 186.1,970.8 187.0,970.8 187.8,970.8 188.7,970.8 189.6,970.8 190.4,970.8 191.3,970.8 192.2,970.8 193.0,970.8 193.9,970.8 194.8,970.8 195.6,970.8 196.5,970.8 197.3,970.8 198.2,970.8 199.1,970.8 199.9,970.8 200.8,970.8 201.6,970.8 202.5,970.8 203.4,970.8 204.2,970.7 205.1,970.7 206.0,970.7 206.8,970.7 207.7,970.7 208.5,970.7 209.4,970.7 210.3,970.7 211.1,970.7 212.0,970.7 212.9,970.7 213.7,970.7 214.6,970.7 215.4,970.7 216.3,970.7 217.2,970.7 218.0,970.7 218.9,970.7 219.8,970.7 220.6,970.7 221.5,970.7 222.3,970.7 223.2,970.7 224.1,970.7 224.9,970.7 225.8,970.7 226.7,970.7 227.5,970.7 228.4,970.7 229.2,970.7 230.1,970.7 231.0,970.7 231.8,970.7 232.7,970.7 233.6,970.7 234.4,970.7 235.3,970.7 236.1,970.7 237.0,970.7 237.9,970.7 238.7,970.7 239.6,970.7 240.5,970.6 241.3,970.6 242.2,970.6 243.0,970.6 243.9,970.6 244.8,970.6 245.6,970.6 246.5,970.6 247.4,970.6 248.2,970.6 249.1,970.6 249.9,970.6 250.8,970.6 251.7,970.6 252.5,970.6 253.4,970.6 254.3,970.6 255.1,970.6 256.0,970.6 256.9,970.5 257.7,970.5 258.6,970.5 259.4,970.5 260.3,970.5 261.2,970.5 262.0,970.5 262.9,970.5 263.8,970.5 264.6,970.5 265.5,970.5 266.3,970.5 267.2,970.5 268.1,970.4 268.9,970.4 269.8,970.4 270.6,970.4 271.5,970.4 272.4,970.4 273.2,970.4 274.1,970.4 275.0,970.4 275.8,970.4 276.7,970.3 277.5,970.3 278.4,970.3 279.3,970.3 280.1,970.3 281.0,970.3 281.9,970.3 282.7,970.2 283.6,970.2 284.4,970.2 285.3,970.2 286.2,970.2 287.0,970.2 287.9,970.2 288.8,970.1 289.6,970.1 290.5,970.1 291.4,970.1 292.2,970.1 293.1,970.0 293.9,970.0 294.8,970.0 295.7,970.0 296.5,970.0 297.4,969.9 298.2,969.9 299.1,969.9 300.0,969.9 300.8,969.8 301.7,969.8 302.6,969.8 303.4,969.8 304.3,969.7 305.1,969.7 306.0,969.7 306.9,969.6 307.7,969.6 308.6,969.6 309.5,969.6 310.3,969.5 311.2,969.5 312.0,969.4 312.9,969.4 313.8,969.4 314.6,969.3 315.5,969.3 316.4,969.3 317.2,969.2 318.1,969.2 318.9,969.1 319.8,969.1 320.7,969.0 321.5,969.0 322.4,968.9 323.3,968.9 324.1,968.8 325.0,968.8 325.9,968.7 326.7,968.7 327.6,968.6 328.4,968.6 329.3,968.5 330.2,968.5 331.0,968.4 331.9,968.3 332.8,968.3 333.6,968.2 334.5,968.1 335.3,968.0 336.2,968.0 337.1,967.9 337.9,967.8 338.8,967.7 339.6,967.7 340.5,967.6 341.4,967.5 342.2,967.4 343.1,967.3 344.0,967.2 344.8,967.1 345.7,967.0 346.6,966.9 347.4,966.8 348.3,966.7 349.1,966.6 350.0,966.5 350.9,966.4 351.7,966.3 352.6,966.1 353.4,966.0 354.3,965.9 355.2,965.8 356.0,965.6 356.9,965.5 357.8,965.3 358.6,965.2 359.5,965.1 360.4,964.9 361.2,964.7 362.1,964.6 362.9,964.4 363.8,964.2 364.7,964.1 365.5,963.9 366.4,963.7 367.2,963.5 368.1,963.3 369.0,963.1 369.8,962.9 370.7,962.7 371.6,962.5 372.4,962.3 373.3,962.0 374.1,961.8 375.0,961.6 375.9,961.3 376.7,961.1 377.6,960.8 378.5,960.5 379.3,960.3 380.2,960.0 381.1,959.7 381.9,959.4 382.8,959.1 383.6,958.8 384.5,958.5 385.4,958.1 386.2,957.8 387.1,957.5 387.9,957.1 388.8,956.7 389.7,956.4 390.5,956.0 391.4,955.6 392.3,955.2 393.1,954.8 394.0,954.3 394.9,953.9 395.7,953.4 396.6,953.0 397.4,952.5 398.3,952.0 399.2,951.5 400.0,951.0 400.9,950.5 401.8,949.9 402.6,949.4 403.5,948.8 404.3,948.2 405.2,947.6 406.1,947.0 406.9,946.4 407.8,945.7 408.6,945.0 409.5,944.4 410.4,943.7 411.2,942.9 412.1,942.2 413.0,941.4 413.8,940.6 414.7,939.8 415.6,939.0 416.4,938.2 417.3,937.3 418.1,936.4 419.0,935.5 419.9,934.5 420.7,933.6 421.6,932.6 422.4,931.6 423.3,930.5 424.2,929.5 425.0,928.4 425.9,927.2 426.8,926.1 427.6,924.9 428.5,923.7 429.4,922.4 430.2,921.2 431.1,919.9 431.9,918.6 432.8,917.2 432.9,917.1 432.9,917.0 433.0,916.9 433.1,916.8 433.1,916.7 433.2,916.6 433.3,916.5 433.4,916.4 433.4,916.2 433.5,916.1 433.6,916.0 433.6,915.9 433.7,915.9 433.7,915.8 433.8,915.7 433.8,915.6 433.9,915.5 434.0,915.4 434.0,915.3 434.1,915.2 434.2,915.0 434.2,914.9 434.3,914.8 434.4,914.7 434.5,914.6 434.5,914.5 434.6,914.4 434.7,914.3 434.7,914.2 434.8,914.1 434.9,913.9 434.9,913.8 435.0,913.7 435.1,913.6 435.1,913.5 435.2,913.4 435.3,913.3 435.4,913.2 435.4,913.1 435.4,913.1 435.5,912.9 435.6,912.8 435.6,912.7 435.7,912.6 435.8,912.5 435.8,912.4 435.9,912.3 436.0,912.2 436.0,912.1 436.1,912.0 436.2,911.8 436.2,911.7 436.3,911.6 436.4,911.5 436.5,911.4 436.5,911.3 436.6,911.2 436.7,911.1 436.7,911.0 436.8,910.9 436.9,910.8 436.9,910.7 437.0,910.5 437.1,910.4 437.1,910.4 437.1,910.3 437.2,910.2 437.3,910.1 437.4,910.0 437.4,909.9 437.5,909.8 437.6,909.7 437.6,909.6 437.7,909.5 437.8,909.4 437.8,909.3 437.9,909.2 438.0,909.1 438.0,909.0 438.1,908.9 438.2,908.8 438.3,908.7 438.3,908.6 438.4,908.5 438.5,908.4 438.5,908.3 438.6,908.2 438.7,908.1 438.7,908.0 438.8,907.9 438.8,907.8 438.9,907.8 438.9,907.7 439.0,907.6 439.1,907.5 439.1,907.4 439.2,907.3 439.3,907.2 439.4,907.1 439.4,907.0 439.5,906.9 439.6,906.8 439.6,906.7 439.7,906.6 439.8,906.6 439.8,906.5 439.9,906.4 440.0,906.3 440.0,906.2 440.1,906.1 440.2,906.0 440.3,906.0 440.3,905.9 440.4,905.8 440.5,905.7 440.5,905.7 440.6,905.6 440.6,905.6 440.7,905.5 440.7,905.4 440.8,905.4 440.9,905.3 440.9,905.2 441.0,905.2 441.1,905.1 441.1,905.0 441.2,905.0 441.3,904.9 441.4,904.8 441.4,904.8 441.5,904.7 441.6,904.7 441.6,904.6 441.7,904.6 441.8,904.5 441.8,904.5 441.9,904.4 442.0,904.4 442.0,904.4 442.1,904.3 442.2,904.3 442.3,904.2 442.3,904.2 442.3,904.2 442.4,904.2 442.5,904.2 442.5,904.1 442.6,904.1 442.7,904.1 442.7,904.1 442.8,904.1 442.9,904.1 442.9,904.1 443.0,904.1 443.1,904.1 443.1,904.1 443.2,904.1 443.3,904.1 443.4,904.1 443.4,904.1 443.5,904.1 443.6,904.2 443.6,904.2 443.7,904.2 443.8,904.3 443.8,904.3 443.9,904.3 444.0,904.4 444.0,904.4 444.0,904.4 444.1,904.5 444.2,904.6 444.3,904.6 444.3,904.7 444.4,904.8 444.5,904.9 444.5,904.9 444.6,905.0 444.7,905.1 444.7,905.2 444.8,905.4 444.9,905.5 444.9,905.6 445.0,905.7 445.1,905.9 445.2,906.0 445.2,906.1 445.3,906.3 445.4,906.5 445.4,906.6 445.5,906.8 445.6,907.0 445.6,907.2 445.7,907.4 445.7,907.5 445.8,907.6 445.8,907.8 445.9,908.0 446.0,908.3 446.0,908.5 446.1,908.8 446.2,909.0 446.3,909.3 446.3,909.6 446.4,909.9 446.5,910.2 446.5,910.5 446.6,910.8 446.7,911.1 446.7,911.5 446.8,911.8 446.9,912.2 446.9,912.6 447.0,913.0 447.1,913.4 447.2,913.8 447.2,914.2 447.3,914.7 447.4,915.1 447.4,915.6 447.5,915.8 447.5,916.1 447.6,916.6 447.6,917.1 447.7,917.6 447.8,918.2 447.8,918.7 447.9,919.3 448.0,919.9 448.0,920.5 448.1,921.2 448.2,921.8 448.3,922.5 448.3,923.2 448.4,923.9 448.5,924.6 448.5,925.4 448.6,926.2 448.7,926.9 448.7,927.8 448.8,928.6 448.9,929.5 448.9,930.3 449.0,931.3 449.1,932.2 449.2,933.1 449.2,933.6 449.2,934.1 449.3,935.1 449.4,936.2 449.4,937.2 449.5,938.3 449.6,939.5 449.6,940.6 449.7,941.8 449.8,943.0 449.8,944.3 449.9,945.5 450.0,946.9 450.1,948.2 450.1,949.6 450.2,951.0 450.3,952.5 450.3,954.0 450.4,955.5 450.5,957.1 450.5,958.7 450.6,960.3 450.7,962.0 450.7,963.7 450.8,965.5 450.9,967.4 450.9,968.3 450.9,969.2 451.0,971.1 451.1,973.1 451.2,975.1 451.2,977.2 451.3,979.3 451.4,981.5 451.4,983.7 451.5,986.0 451.6,988.3 451.6,990.7 451.7,993.2 451.8,995.7 451.8,998.3 451.9,1000.9 452.0,1003.6 452.1,1006.4 452.1,1009.2 452.2,1012.1 452.3,1015.1 452.3,1018.2 452.4,1021.3 452.5,1024.5 452.5,1027.8 452.6,1031.1 452.6,1032.9 452.7,1034.6 452.7,1038.1 452.8,1041.7 452.9,1045.4 452.9,1049.2 453.0,1053.1 453.1,1057.1 453.2,1061.1 453.2,1065.3 453.3,1069.6 453.4,1073.9 453.4,1078.4 453.5,1083.0 453.6,1078.4 453.6,1073.9 453.7,1069.6 453.8,1065.3 453.8,1061.1 453.9,1057.1 454.0,1053.1 454.1,1049.2 454.1,1045.4 454.2,1041.7 454.3,1038.1 454.3,1034.6 454.4,1032.9 454.4,1031.1 454.5,1027.8 454.5,1024.5 454.6,1021.3 454.7,1018.2 454.7,1015.1 454.8,1012.1 454.9,1009.2 454.9,1006.4 455.0,1003.6 455.1,1000.9 455.2,998.3 455.2,995.7 455.3,993.2 455.4,990.7 455.4,988.3 455.5,986.0 455.6,983.7 455.6,981.5 455.7,979.3 455.8,977.2 455.8,975.1 455.9,973.1 456.0,971.1 456.1,969.2 456.1,968.3 456.1,967.4 456.2,965.5 456.3,963.7 456.3,962.0 456.4,960.3 456.5,958.7 456.5,957.1 456.6,955.5 456.7,954.0 456.7,952.5 456.8,951.0 456.9,949.6 456.9,948.2 457.0,946.9 457.1,945.5 457.2,944.3 457.2,943.0 457.3,941.8 457.4,940.6 457.4,939.5 457.5,938.3 457.6,937.2 457.6,936.2 457.7,935.1 457.8,934.1 457.8,933.6 457.8,933.1 457.9,932.2 458.0,931.3 458.1,930.3 458.1,929.5 458.2,928.6 458.3,927.8 458.3,926.9 458.4,926.2 458.5,925.4 458.5,924.6 458.6,923.9 458.7,923.2 458.7,922.5 458.8,921.8 458.9,921.2 459.0,920.5 459.0,919.9 459.1,919.3 459.2,918.7 459.2,918.2 459.3,917.6 459.4,917.1 459.4,916.6 459.5,916.1 459.5,915.8 459.6,915.6 459.6,915.1 459.7,914.7 459.8,914.2 459.8,913.8 459.9,913.4 460.0,913.0 460.1,912.6 460.1,912.2 460.2,911.8 460.3,911.5 460.3,911.1 460.4,910.8 460.5,910.5 460.5,910.2 460.6,909.9 460.7,909.6 460.7,909.3 460.8,909.0 460.9,908.8 461.0,908.5 461.0,908.3 461.1,908.0 461.2,907.8 461.2,907.6 461.3,907.5 461.3,907.4 461.4,907.2 461.4,907.0 461.5,906.8 461.6,906.6 461.6,906.5 461.7,906.3 461.8,906.1 461.8,906.0 461.9,905.9 462.0,905.7 462.1,905.6 462.1,905.5 462.2,905.4 462.3,905.2 462.3,905.1 462.4,905.0 462.5,904.9 462.5,904.9 462.6,904.8 462.7,904.7 462.7,904.6 462.8,904.6 462.9,904.5 463.0,904.4 463.0,904.4 463.0,904.4 463.1,904.3 463.2,904.3 463.2,904.3 463.3,904.2 463.4,904.2 463.4,904.2 463.5,904.1 463.6,904.1 463.6,904.1 463.7,904.1 463.8,904.1 463.9,904.1 463.9,904.1 464.0,904.1 464.1,904.1 464.1,904.1 464.2,904.1 464.3,904.1 464.3,904.1 464.4,904.1 464.5,904.1 464.5,904.2 464.6,904.2 464.7,904.2 464.7,904.2 464.7,904.2 464.8,904.3 464.9,904.3 465.0,904.4 465.0,904.4 465.1,904.4 465.2,904.5 465.2,904.5 465.3,904.6 465.4,904.6 465.4,904.7 465.5,904.7 465.6,904.8 465.6,904.8 465.7,904.9 465.8,905.0 465.9,905.0 465.9,905.1 466.0,905.2 466.1,905.2 466.1,905.3 466.2,905.4 466.3,905.4 466.3,905.5 466.4,905.6 466.4,905.6 466.5,905.7 466.5,905.7 466.6,905.8 466.7,905.9 466.7,906.0 466.8,906.0 466.9,906.1 467.0,906.2 467.0,906.3 467.1,906.4 467.2,906.5 467.2,906.6 467.3,906.6 467.4,906.7 467.4,906.8 467.5,906.9 467.6,907.0 467.6,907.1 467.7,907.2 467.8,907.3 467.9,907.4 467.9,907.5 468.0,907.6 468.1,907.7 468.1,907.8 468.2,907.8 468.2,907.9 468.3,908.0 468.3,908.1 468.4,908.2 468.5,908.3 468.5,908.4 468.6,908.5 468.7,908.6 468.7,908.7 468.8,908.8 468.9,908.9 469.0,909.0 469.0,909.1 469.1,909.2 469.2,909.3 469.2,909.4 469.3,909.5 469.4,909.6 469.4,909.7 469.5,909.8 469.6,909.9 469.6,910.0 469.7,910.1 469.8,910.2 469.9,910.3 469.9,910.4 469.9,910.4 470.0,910.5 470.1,910.7 470.1,910.8 470.2,910.9 470.3,911.0 470.3,911.1 470.4,911.2 470.5,911.3 470.5,911.4 470.6,911.5 470.7,911.6 470.8,911.7 470.8,911.8 470.9,912.0 471.0,912.1 471.0,912.2 471.1,912.3 471.2,912.4 471.2,912.5 471.3,912.6 471.4,912.7 471.4,912.8 471.5,912.9 471.6,913.1 471.6,913.1 471.6,913.2 471.7,913.3 471.8,913.4 471.9,913.5 471.9,913.6 472.0,913.7 472.1,913.8 472.1,913.9 472.2,914.1 472.3,914.2 472.3,914.3 472.4,914.4 472.5,914.5 472.5,914.6 472.6,914.7 472.7,914.8 472.8,914.9 472.8,915.0 472.9,915.2 473.0,915.3 473.0,915.4 473.1,915.5 473.2,915.6 473.2,915.7 473.3,915.8 473.3,915.9 473.4,915.9 473.4,916.0 473.5,916.1 473.6,916.2 473.6,916.4 473.7,916.5 473.8,916.6 473.9,916.7 473.9,916.8 474.0,916.9 474.1,917.0 474.1,917.1 474.2,917.2 475.1,918.6 475.9,919.9 476.8,921.2 477.6,922.4 478.5,923.7 479.4,924.9 480.2,926.1 481.1,927.2 482.0,928.4 482.8,929.5 483.7,930.5 484.6,931.6 485.4,932.6 486.3,933.6 487.1,934.5 488.0,935.5 488.9,936.4 489.7,937.3 490.6,938.2 491.4,939.0 492.3,939.8 493.2,940.6 494.0,941.4 494.9,942.2 495.8,942.9 496.6,943.7 497.5,944.4 498.4,945.0 499.2,945.7 500.1,946.4 500.9,947.0 501.8,947.6 502.7,948.2 503.5,948.8 504.4,949.4 505.2,949.9 506.1,950.5 507.0,951.0 507.8,951.5 508.7,952.0 509.6,952.5 510.4,953.0 511.3,953.4 512.1,953.9 513.0,954.3 513.9,954.8 514.7,955.2 515.6,955.6 516.5,956.0 517.3,956.4 518.2,956.7 519.0,957.1 519.9,957.5 520.8,957.8 521.6,958.1 522.5,958.5 523.4,958.8 524.2,959.1 525.1,959.4 526.0,959.7 526.8,960.0 527.7,960.3 528.5,960.5 529.4,960.8 530.3,961.1 531.1,961.3 532.0,961.6 532.9,961.8 533.7,962.0 534.6,962.3 535.4,962.5 536.3,962.7 537.2,962.9 538.0,963.1 538.9,963.3 539.8,963.5 540.6,963.7 541.5,963.9 542.3,964.1 543.2,964.2 544.1,964.4 544.9,964.6 545.8,964.7 546.6,964.9 547.5,965.1 548.4,965.2 549.2,965.3 550.1,965.5 551.0,965.6 551.8,965.8 552.7,965.9 553.5,966.0 554.4,966.1 555.3,966.3 556.1,966.4 557.0,966.5 557.9,966.6 558.7,966.7 559.6,966.8 560.5,966.9 561.3,967.0 562.2,967.1 563.0,967.2 563.9,967.3 564.8,967.4 565.6,967.5 566.5,967.6 567.4,967.7 568.2,967.7 569.1,967.8 569.9,967.9 570.8,968.0 571.7,968.0 572.5,968.1 573.4,968.2 574.2,968.3 575.1,968.3 576.0,968.4 576.8,968.5 577.7,968.5 578.6,968.6 579.4,968.6 580.3,968.7 581.1,968.7 582.0,968.8 582.9,968.8 583.7,968.9 584.6,968.9 585.5,969.0 586.3,969.0 587.2,969.1 588.0,969.1 588.9,969.2 589.8,969.2 590.6,969.3 591.5,969.3 592.4,969.3 593.2,969.4 594.1,969.4 595.0,969.4 595.8,969.5 596.7,969.5 597.5,969.6 598.4,969.6 599.3,969.6 600.1,969.6 601.0,969.7 601.9,969.7 602.7,969.7 603.6,969.8 604.4,969.8 605.3,969.8 606.2,969.8 607.0,969.9 607.9,969.9 608.8,969.9 609.6,969.9 610.5,970.0 611.3,970.0 612.2,970.0 613.1,970.0 613.9,970.0 614.8,970.1 615.6,970.1 616.5,970.1 617.4,970.1 618.2,970.1 619.1,970.2 620.0,970.2 620.8,970.2 621.7,970.2 622.5,970.2 623.4,970.2 624.3,970.2 625.1,970.3 626.0,970.3 626.9,970.3 627.7,970.3 628.6,970.3 629.5,970.3 630.3,970.3 631.2,970.4 632.0,970.4 632.9,970.4 633.8,970.4 634.6,970.4 635.5,970.4 636.4,970.4 637.2,970.4 638.1,970.4 638.9,970.4 639.8,970.5 640.7,970.5 641.5,970.5 642.4,970.5 643.2,970.5 644.1,970.5 645.0,970.5 645.8,970.5 646.7,970.5 647.6,970.5 648.4,970.5 649.3,970.5 650.1,970.5 651.0,970.6 651.9,970.6 652.7,970.6 653.6,970.6 654.5,970.6 655.3,970.6 656.2,970.6 657.0,970.6 657.9,970.6 658.8,970.6 659.6,970.6 660.5,970.6 661.4,970.6 662.2,970.6 663.1,970.6 664.0,970.6 664.8,970.6 665.7,970.6 666.5,970.6 667.4,970.7 668.3,970.7 669.1,970.7 670.0,970.7 670.9,970.7 671.7,970.7 672.6,970.7 673.4,970.7 674.3,970.7 675.2,970.7 676.0,970.7 676.9,970.7 677.8,970.7 678.6,970.7 679.5,970.7 680.3,970.7 681.2,970.7 682.1,970.7 682.9,970.7 683.8,970.7 684.6,970.7 685.5,970.7 686.4,970.7 687.2,970.7 688.1,970.7 689.0,970.7 689.8,970.7 690.7,970.7 691.5,970.7 692.4,970.7 693.3,970.7 694.1,970.7 695.0,970.7 695.9,970.7 696.7,970.7 697.6,970.7 698.5,970.7 699.3,970.7 700.2,970.7 701.0,970.7 701.9,970.7 702.8,970.7 703.6,970.8 704.5,970.8 705.4,970.8 706.2,970.8 707.1,970.8 707.9,970.8 708.8,970.8 709.7,970.8 710.5,970.8 711.4,970.8 712.2,970.8 713.1,970.8 714.0,970.8 714.8,970.8 715.7,970.8 716.6,970.8 717.4,970.8 718.3,970.8 719.2,970.8 720.0,970.8 720.9,970.8 721.7,970.8 722.6,970.8 723.5,970.8 724.3,970.8 725.2,970.8 726.0,970.8 726.9,970.8 727.8,970.8 728.6,970.8 729.5,970.8 730.4,970.8 731.2,970.8 732.1,970.8 733.0,970.8 733.8,970.8 734.7,970.8 735.5,970.8 736.4,970.8 737.3,970.8 738.1,970.8 739.0,970.8 739.9,970.8 740.7,970.8 741.6,970.8 742.4,970.8 743.3,970.8 744.2,970.8 745.0,970.8 745.9,970.8 746.8,970.8 747.6,970.8 748.5,970.8 749.3,970.8 750.2,970.8 751.1,970.8 751.9,970.8 752.8,970.8 753.7,970.8 754.5,970.8 755.4,970.8 756.2,970.8 757.1,970.8 758.0,970.8 758.8,970.8 759.7,970.8 760.5,970.8 761.4,970.8 762.3,970.8 763.1,970.8 764.0,970.8 764.9,970.8 765.7,970.8 766.6,970.8 767.5,970.8 768.3,970.8 769.2,970.8 770.0,970.8 770.9,970.8 771.8,970.8 772.6,970.8 773.5,970.8 774.4,970.8 775.2,970.8 776.1,970.8 776.9,970.8 777.8,970.8 778.7,970.8 779.5,970.8 780.4,970.8 781.2,970.8 782.1,970.8 783.0,970.8 783.8,970.8 784.7,970.8 785.6,970.8 786.4,970.8 787.3,970.8 788.2,970.8 789.0,970.8 789.9,970.8 790.7,970.8 791.6,970.8 792.5,970.8 793.3,970.8 794.2,970.8 795.0,970.8 795.9,970.8 796.8,970.8 797.6,970.8 798.5,970.8" fill="none" stroke="#b050a0" stroke-width="1.0" stroke-opacity="0.6" stroke-linejoin="round"/>
<polyline points="436.3,911.6 436.4,911.5 436.5,911.4 436.5,911.3 436.6,911.2 436.7,911.1 436.7,911.0 436.8,910.9 436.9,910.8 436.9,910.7 437.0,910.5 437.1,910.4 437.1,910.4 437.1,910.3 437.2,910.2 437.3,910.1 437.4,910.0 437.4,909.9 437.5,909.8 437.6,909.7 437.6,909.6 437.7,909.5 437.8,909.4 437.8,909.3 437.9,909.2 438.0,909.1 438.0,909.0 438.1,908.9 438.2,908.8 438.3,908.7 438.3,908.6 438.4,908.5 438.5,908.4 438.5,908.3 438.6,908.2 438.7,908.1 438.7,908.0 438.8,907.9 438.8,907.8 438.9,907.8 438.9,907.7 439.0,907.6 439.1,907.5 439.1,907.4 439.2,907.3 439.3,907.2 439.4,907.1 439.4,907.0 439.5,906.9 439.6,906.8 439.6,906.7 439.7,906.6 439.8,906.6 439.8,906.5 439.9,906.4 440.0,906.3 440.0,906.2 440.1,906.1 440.2,906.0 440.3,906.0 440.3,905.9 440.4,905.8 440.5,905.7 440.5,905.7 440.6,905.6 440.6,905.6 440.7,905.5 440.7,905.4 440.8,905.4 440.9,905.3 440.9,905.2 441.0,905.2 441.1,905.1 441.1,905.0 441.2,905.0 441.3,904.9 441.4,904.8 441.4,904.8 441.5,904.7 441.6,904.7 441.6,904.6 441.7,904.6 441.8,904.5 441.8,904.5 441.9,904.4 442.0,904.4 442.0,904.4 442.1,904.3 442.2,904.3 442.3,904.2 442.3,904.2 442.3,904.2 442.4,904.2 442.5,904.2 442.5,904.1 442.6,904.1 442.7,904.1 442.7,904.1 442.8,904.1 442.9,904.1 442.9,904.1 443.0,904.1 443.1,904.1 443.1,904.1 443.2,904.1 443.3,904.1 443.4,904.1 443.4,904.1 443.5,904.1 443.6,904.2 443.6,904.2 443.7,904.2 443.8,904.3 443.8,904.3 443.9,904.3 444.0,904.4 444.0,904.4 444.0,904.4 444.1,904.5 444.2,904.6 444.3,904.6 444.3,904.7 444.4,904.8 444.5,904.9 444.5,904.9 444.6,905.0 444.7,905.1 444.7,905.2 444.8,905.4 444.9,905.5 444.9,905.6 445.0,905.7 445.1,905.9 445.2,906.0 445.2,906.1 445.3,906.3 445.4,906.5 445.4,906.6 445.5,906.8 445.6,907.0 445.6,907.2 445.7,907.4 445.7,907.5 445.8,907.6 445.8,907.8 445.9,908.0 446.0,908.3 446.0,908.5 446.1,908.8 446.2,909.0 446.3,909.3 446.3,909.6 446.4,909.9 446.5,910.2 446.5,910.5 446.6,910.8 446.7,911.1 446.7,911.5 446.8,911.8 446.9,912.2 446.9,912.6 447.0,913.0 447.1,913.4 447.2,913.8 447.2,914.2 447.3,914.7 447.4,915.1 447.4,915.6 447.5,915.8 447.5,916.1 447.6,916.6 447.6,917.1 447.7,917.6 447.8,918.2 447.8,918.7 447.9,919.3 448.0,919.9 448.0,920.5 448.1,921.2 448.2,921.8 448.3,922.5 448.3,923.2 448.4,923.9 448.5,924.6 448.5,925.4 448.6,926.2 448.7,926.9 448.7,927.8 448.8,928.6 448.9,929.5 448.9,930.3 449.0,931.3 449.1,932.2 449.2,933.1 449.2,933.6 449.2,934.1 449.3,935.1 449.4,936.2 449.4,937.2 449.5,938.3 449.6,939.5 449.6,940.6 449.7,941.8 449.8,943.0 449.8,944.3 449.9,945.5 450.0,946.9 450.1,948.2 450.1,949.6 450.2,951.0 450.3,952.5 450.3,954.0 450.4,955.5 450.5,957.1 450.5,958.7 450.6,960.3 450.7,962.0 450.7,963.7 450.8,965.5 450.9,967.4 450.9,968.3 450.9,969.2 451.0,971.1 451.1,973.1 451.2,975.1 451.2,977.2 451.3,979.3 451.4,981.5 451.4,983.7 451.5,986.0 451.6,988.3 451.6,990.7 451.7,993.2 451.8,995.7 451.8,998.3 451.9,1000.9 452.0,1003.6 452.1,1006.4 452.1,1009.2 452.2,1012.1 452.3,1015.1 452.3,1018.2 452.4,1021.3 452.5,1024.5 452.5,1027.8 452.6,1031.1 452.6,1032.9 452.7,1034.6 452.7,1038.1 452.8,1041.7 452.9,1045.4 452.9,1049.2 453.0,1053.1 453.1,1057.1 453.2,1061.1 453.2,1065.3 453.3,1069.6 453.4,1073.9 453.4,1078.4 453.5,1083.0 453.6,1078.4 453.6,1073.9 453.7,1069.6 453.8,1065.3 453.8,1061.1 453.9,1057.1 454.0,1053.1 454.1,1049.2 454.1,1045.4 454.2,1041.7 454.3,1038.1 454.3,1034.6 454.4,1032.9 454.4,1031.1 454.5,1027.8 454.5,1024.5 454.6,1021.3 454.7,1018.2 454.7,1015.1 454.8,1012.1 454.9,1009.2 454.9,1006.4 455.0,1003.6 455.1,1000.9 455.2,998.3 455.2,995.7 455.3,993.2 455.4,990.7 455.4,988.3 455.5,986.0 455.6,983.7 455.6,981.5 455.7,979.3 455.8,977.2 455.8,975.1 455.9,973.1 456.0,971.1 456.1,969.2 456.1,968.3 456.1,967.4 456.2,965.5 456.3,963.7 456.3,962.0 456.4,960.3 456.5,958.7 456.5,957.1 456.6,955.5 456.7,954.0 456.7,952.5 456.8,951.0 456.9,949.6 456.9,948.2 457.0,946.9 457.1,945.5 457.2,944.3 457.2,943.0 457.3,941.8 457.4,940.6 457.4,939.5 457.5,938.3 457.6,937.2 457.6,936.2 457.7,935.1 457.8,934.1 457.8,933.6 457.8,933.1 457.9,932.2 458.0,931.3 458.1,930.3 458.1,929.5 458.2,928.6 458.3,927.8 458.3,926.9 458.4,926.2 458.5,925.4 458.5,924.6 458.6,923.9 458.7,923.2 458.7,922.5 458.8,921.8 458.9,921.2 459.0,920.5 459.0,919.9 459.1,919.3 459.2,918.7 459.2,918.2 459.3,917.6 459.4,917.1 459.4,916.6 459.5,916.1 459.5,915.8 459.6,915.6 459.6,915.1 459.7,914.7 459.8,914.2 459.8,913.8 459.9,913.4 460.0,913.0 460.1,912.6 460.1,912.2 460.2,911.8 460.3,911.5 460.3,911.1 460.4,910.8 460.5,910.5 460.5,910.2 460.6,909.9 460.7,909.6 460.7,909.3 460.8,909.0 460.9,908.8 461.0,908.5 461.0,908.3 461.1,908.0 461.2,907.8 461.2,907.6 461.3,907.5 461.3,907.4 461.4,907.2 461.4,907.0 461.5,906.8 461.6,906.6 461.6,906.5 461.7,906.3 461.8,906.1 461.8,906.0 461.9,905.9 462.0,905.7 462.1,905.6 462.1,905.5 462.2,905.4 462.3,905.2 462.3,905.1 462.4,905.0 462.5,904.9 462.5,904.9 462.6,904.8 462.7,904.7 462.7,904.6 462.8,904.6 462.9,904.5 463.0,904.4 463.0,904.4 463.0,904.4 463.1,904.3 463.2,904.3 463.2,904.3 463.3,904.2 463.4,904.2 463.4,904.2 463.5,904.1 463.6,904.1 463.6,904.1 463.7,904.1 463.8,904.1 463.9,904.1 463.9,904.1 464.0,904.1 464.1,904.1 464.1,904.1 464.2,904.1 464.3,904.1 464.3,904.1 464.4,904.1 464.5,904.1 464.5,904.2 464.6,904.2 464.7,904.2 464.7,904.2 464.7,904.2 464.8,904.3 464.9,904.3 465.0,904.4 465.0,904.4 465.1,904.4 465.2,904.5 465.2,904.5 465.3,904.6 465.4,904.6 465.4,904.7 465.5,904.7 465.6,904.8 465.6,904.8 465.7,904.9 465.8,905.0 465.9,905.0 465.9,905.1 466.0,905.2 466.1,905.2 466.1,905.3 466.2,905.4 466.3,905.4 466.3,905.5 466.4,905.6 466.4,905.6 466.5,905.7 466.5,905.7 466.6,905.8 466.7,905.9 466.7,906.0 466.8,906.0 466.9,906.1 467.0,906.2 467.0,906.3 467.1,906.4 467.2,906.5 467.2,906.6 467.3,906.6 467.4,906.7 467.4,906.8 467.5,906.9 467.6,907.0 467.6,907.1 467.7,907.2 467.8,907.3 467.9,907.4 467.9,907.5 468.0,907.6 468.1,907.7 468.1,907.8 468.2,907.8 468.2,907.9 468.3,908.0 468.3,908.1 468.4,908.2 468.5,908.3 468.5,908.4 468.6,908.5 468.7,908.6 468.7,908.7 468.8,908.8 468.9,908.9 469.0,909.0 469.0,909.1 469.1,909.2 469.2,909.3 469.2,909.4 469.3,909.5 469.4,909.6 469.4,909.7 469.5,909.8 469.6,909.9 469.6,910.0 469.7,910.1 469.8,910.2 469.9,910.3 469.9,910.4 469.9,910.4 470.0,910.5 470.1,910.7 470.1,910.8 470.2,910.9 470.3,911.0 470.3,911.1 470.4,911.2 470.5,911.3 470.5,911.4 470.6,911.5 470.7,911.6" fill="none" stroke="#e87884" stroke-width="1.3" stroke-linejoin="round"/>
<polyline points="108.5,1191.0 109.1,1197.7 109.7,1196.6 110.4,1215.6 111.0,1175.9 111.6,1182.0 112.2,1195.8 112.8,1185.5 113.5,1190.1 114.1,1197.9 114.7,1183.6 115.3,1195.6 116.0,1195.8 116.6,1200.1 117.2,1188.4 117.8,1193.6 118.4,1187.6 119.1,1198.4 119.7,1191.5 120.3,1201.0 120.9,1184.8 121.5,1190.9 122.2,1189.5 122.8,1188.8 123.4,1202.1 124.0,1185.3 124.6,1173.3 125.3,1208.0 125.9,1208.8 126.5,1206.7 127.1,1184.7 127.8,1191.4 128.4,1182.5 129.0,1185.8 129.6,1190.6 130.2,1189.9 130.9,1194.2 131.5,1184.4 132.1,1203.1 132.7,1196.5 133.3,1190.3 134.0,1175.6 134.6,1199.7 135.2,1202.6 135.8,1197.8 136.4,1183.4 137.1,1194.7 137.7,1180.1 138.3,1210.1 138.9,1181.9 139.6,1182.8 140.2,1205.8 140.8,1191.0 141.4,1181.0 142.0,1191.6 142.7,1183.0 143.3,1170.1 143.9,1189.8 144.5,1195.0 145.1,1199.6 145.8,1186.3 146.4,1194.2 147.0,1194.0 147.6,1193.3 148.2,1186.2 148.9,1202.4 149.5,1206.7 150.1,1215.2 150.7,1181.1 151.3,1191.6 152.0,1178.1 152.6,1192.4 153.2,1199.3 153.8,1187.8 154.5,1193.0 155.1,1204.0 155.7,1200.6 156.3,1175.6 156.9,1188.9 157.6,1188.3 158.2,1194.8 158.8,1198.7 159.4,1183.8 160.0,1193.2 160.7,1199.3 161.3,1193.4 161.9,1200.7 162.5,1190.3 163.1,1181.5 163.8,1200.0 164.4,1178.7 165.0,1198.4 165.6,1190.6 166.3,1199.9 166.9,1194.1 167.5,1191.6 168.1,1196.1 168.7,1198.6 169.4,1198.4 170.0,1199.7 170.6,1206.8 171.2,1194.4 171.8,1188.2 172.5,1183.4 173.1,1185.9 173.7,1168.8 174.3,1188.9 174.9,1196.2 175.6,1174.3 176.2,1201.7 176.8,1182.8 177.4,1200.8 178.1,1188.5 178.7,1210.3 179.3,1183.3 179.9,1193.3 180.5,1200.9 181.2,1176.0 181.8,1184.6 182.4,1191.3 183.0,1198.7 183.6,1192.1 184.3,1193.2 184.9,1184.9 185.5,1184.2 186.1,1197.9 186.7,1196.8 187.4,1196.6 188.0,1204.3 188.6,1197.2 189.2,1192.5 189.9,1185.1 190.5,1179.1 191.1,1199.2 191.7,1186.3 192.3,1195.7 193.0,1171.9 193.6,1191.9 194.2,1186.7 194.8,1200.3 195.4,1199.1 196.1,1189.5 196.7,1195.0 197.3,1188.0 197.9,1206.1 198.5,1185.1 199.2,1199.8 199.8,1175.0 200.4,1194.0 201.0,1180.9 201.7,1204.4 202.3,1187.2 202.9,1199.6 203.5,1195.8 204.1,1190.9 204.8,1194.1 205.4,1188.6 206.0,1184.0 206.6,1184.9 207.2,1191.9 207.9,1203.9 208.5,1198.6 209.1,1192.9 209.7,1211.0 210.3,1183.9 211.0,1193.2 211.6,1193.3 212.2,1181.9 212.8,1184.6 213.4,1188.8 214.1,1200.3 214.7,1187.9 215.3,1187.5 215.9,1199.1 216.6,1180.9 217.2,1185.9 217.8,1209.3 218.4,1189.5 219.0,1202.6 219.7,1179.9 220.3,1183.0 220.9,1201.0 221.5,1198.9 222.1,1189.6 222.8,1192.8 223.4,1176.0 224.0,1183.4 224.6,1193.1 225.2,1184.9 225.9,1209.6 226.5,1187.4 227.1,1182.1 227.7,1192.0 228.4,1197.0 229.0,1184.9 229.6,1171.7 230.2,1188.2 230.8,1200.8 231.5,1176.4 232.1,1207.9 232.7,1185.3 233.3,1195.6 233.9,1181.2 234.6,1198.0 235.2,1177.4 235.8,1187.1 236.4,1206.3 237.0,1208.6 237.7,1192.8 238.3,1177.5 238.9,1188.6 239.5,1189.1 240.2,1191.9 240.8,1182.7 241.4,1186.1 242.0,1186.9 242.6,1198.9 243.3,1178.2 243.9,1176.5 244.5,1201.8 245.1,1167.5 245.7,1182.5 246.4,1194.0 247.0,1207.4 247.6,1183.0 248.2,1184.0 248.8,1194.9 249.5,1206.2 250.1,1178.4 250.7,1194.7 251.3,1193.6 252.0,1161.9 252.6,1168.7 253.2,1179.9 253.8,1193.3 254.4,1182.7 255.1,1210.6 255.7,1187.8 256.3,1196.0 256.9,1201.0 257.5,1203.8 258.2,1183.6 258.8,1187.7 259.4,1187.0 260.0,1180.5 260.6,1196.5 261.3,1200.2 261.9,1205.3 262.5,1191.5 263.1,1181.0 263.8,1189.7 264.4,1182.1 265.0,1199.4 265.6,1192.6 266.2,1195.4 266.9,1199.9 267.5,1170.2 268.1,1179.8 268.7,1195.2 269.3,1195.1 270.0,1188.3 270.6,1201.5 271.2,1183.5 271.8,1200.0 272.4,1191.1 273.1,1197.3 273.7,1192.1 274.3,1200.2 274.9,1202.4 275.5,1196.6 276.2,1193.8 276.8,1190.0 277.4,1186.5 278.0,1172.4 278.7,1179.2 279.3,1189.4 279.9,1179.9 280.5,1193.5 281.1,1172.9 281.8,1181.4 282.4,1199.7 283.0,1179.3 283.6,1178.7 284.2,1212.3 284.9,1193.6 285.5,1190.9 286.1,1204.9 286.7,1196.5 287.3,1195.3 288.0,1181.2 288.6,1183.1 289.2,1160.6 289.8,1189.7 290.5,1174.7 291.1,1185.0 291.7,1183.1 292.3,1196.8 292.9,1204.0 293.6,1192.9 294.2,1178.1 294.8,1170.0 295.4,1179.4 296.0,1180.4 296.7,1193.3 297.3,1170.2 297.9,1172.0 298.5,1190.1 299.1,1185.3 299.8,1194.4 300.4,1170.5 301.0,1180.7 301.6,1185.5 302.3,1180.5 302.9,1180.1 303.5,1188.3 304.1,1196.3 304.7,1196.6 305.4,1201.0 306.0,1179.5 306.6,1162.3 307.2,1200.3 307.8,1182.4 308.5,1179.6 309.1,1193.1 309.7,1181.5 310.3,1194.1 310.9,1171.5 311.6,1189.0 312.2,1182.1 312.8,1176.3 313.4,1187.1 314.1,1200.3 314.7,1187.9 315.3,1175.1 315.9,1183.3 316.5,1180.2 317.2,1192.9 317.8,1180.8 318.4,1175.0 319.0,1181.7 319.6,1163.2 320.3,1183.9 320.9,1191.9 321.5,1197.5 322.1,1170.2 322.7,1182.0 323.4,1171.3 324.0,1176.7 324.6,1165.1 325.2,1168.5 325.9,1184.6 326.5,1178.0 327.1,1169.9 327.7,1192.7 328.3,1166.1 329.0,1168.3 329.6,1170.4 330.2,1182.0 330.8,1176.9 331.4,1190.9 332.1,1179.1 332.7,1185.4 333.3,1178.6 333.9,1184.2 334.5,1176.4 335.2,1167.3 335.8,1191.9 336.4,1169.6 337.0,1198.5 337.6,1200.0 338.3,1179.6 338.9,1178.2 339.5,1173.7 340.1,1194.4 340.8,1178.4 341.4,1176.4 342.0,1165.0 342.6,1178.5 343.2,1172.0 343.9,1186.9 344.5,1178.9 345.1,1181.3 345.7,1169.6 346.3,1186.5 347.0,1184.8 347.6,1170.5 348.2,1158.1 348.8,1172.1 349.4,1172.7 350.1,1179.1 350.7,1164.5 351.3,1169.8 351.9,1157.7 352.6,1171.6 353.2,1184.4 353.8,1180.4 354.4,1184.4 355.0,1186.9 355.7,1161.3 356.3,1165.8 356.9,1186.3 357.5,1155.5 358.1,1170.9 358.8,1182.9 359.4,1169.1 360.0,1173.6 360.6,1180.5 361.2,1192.3 361.9,1171.9 362.5,1169.1 363.1,1198.2 363.7,1166.1 364.4,1165.2 365.0,1176.1 365.6,1170.0 366.2,1173.8 366.8,1179.3 367.5,1174.2 368.1,1156.5 368.7,1185.0 369.3,1167.5 369.9,1167.8 370.6,1176.8 371.2,1173.8 371.8,1183.5 372.4,1177.6 373.0,1168.5 373.7,1165.0 374.3,1177.5 374.9,1136.3 375.5,1173.6 376.2,1166.2 376.8,1169.6 377.4,1171.2 378.0,1153.2 378.6,1171.5 379.3,1152.4 379.9,1154.1 380.5,1176.7 381.1,1154.7 381.7,1172.1 382.4,1136.4 383.0,1168.8 383.6,1174.4 384.2,1184.3 384.8,1177.6 385.5,1169.9 386.1,1174.0 386.7,1176.2 387.3,1170.3 388.0,1164.8 388.6,1147.1 389.2,1180.1 389.8,1167.7 390.4,1171.6 391.1,1177.3 391.7,1174.4 392.3,1170.3 392.9,1152.8 393.5,1162.1 394.2,1165.5 394.8,1153.0 395.4,1156.2 396.0,1161.3 396.6,1154.4 397.3,1167.1 397.9,1151.2 398.5,1152.6 399.1,1161.7 399.7,1170.1 400.4,1140.3 401.0,1155.3 401.6,1123.0 402.2,1162.7 402.9,1146.1 403.5,1159.6 404.1,1151.8 404.7,1145.2 405.3,1162.6 406.0,1154.6 406.6,1151.4 407.2,1151.6 407.8,1145.9 408.4,1140.9 409.1,1142.6 409.7,1148.4 410.3,1154.8 410.9,1163.0 411.5,1158.3 412.2,1155.6 412.8,1141.9 413.4,1153.0 414.0,1162.3 414.7,1141.3 415.3,1156.7 415.9,1155.9 416.5,1149.5 417.1,1141.3 417.8,1173.0 418.4,1158.3 419.0,1143.4 419.6,1149.0 420.2,1154.2 420.9,1150.1 421.5,1128.0 422.1,1148.3 422.7,1134.7 423.3,1133.4 424.0,1147.0 424.6,1136.4 425.2,1146.1 425.8,1147.5 426.5,1152.9 427.1,1129.8 427.7,1143.8 428.3,1145.2 428.9,1151.3 429.6,1117.4 430.2,1129.2 430.8,1138.8 431.4,1144.9 432.0,1154.1 432.7,1132.9 433.3,1132.6 433.9,1151.9 434.5,1122.1 435.1,1126.4 435.8,1146.2 436.4,1141.5 437.0,1140.0 437.6,1133.3 438.3,1137.1 438.9,1154.5 439.5,1119.2 440.1,1133.1 440.7,1123.0 441.4,1124.1 442.0,1142.0 442.6,1137.2 443.2,1134.6 443.8,1136.4 444.5,1149.5 445.1,1157.5 445.7,1154.0 446.3,1167.3 446.9,1169.7 447.6,1190.7 448.2,1176.0 448.8,1195.1 449.4,1199.9" fill="none" stroke="#90dcd6" stroke-width="1.2" stroke-linejoin="round"/>
<polyline points="458.1,1192.6 458.7,1177.9 459.4,1158.3 460.0,1167.5 460.6,1163.2 461.2,1148.6 461.8,1145.2 462.5,1130.2 463.1,1138.8 463.7,1143.3 464.3,1126.1 465.0,1122.4 465.6,1143.9 466.2,1135.7 466.8,1156.0 467.4,1140.3 468.1,1145.9 468.7,1137.9 469.3,1140.8 469.9,1137.0 470.5,1136.3 471.2,1129.5 471.8,1132.6 472.4,1141.9 473.0,1150.5 473.6,1121.7 474.3,1119.9 474.9,1141.7 475.5,1130.4 476.1,1154.7 476.8,1155.5 477.4,1141.1 478.0,1121.6 478.6,1150.7 479.2,1148.7 479.9,1121.4 480.5,1161.6 481.1,1133.2 481.7,1135.4 482.3,1143.7 483.0,1139.7 483.6,1112.7 484.2,1155.4 484.8,1146.7 485.4,1146.2 486.1,1151.7 486.7,1159.5 487.3,1127.0 487.9,1142.8 488.6,1165.3 489.2,1153.9 489.8,1142.0 490.4,1142.5 491.0,1163.3 491.7,1148.8 492.3,1145.3 492.9,1144.2 493.5,1144.6 494.1,1169.5 494.8,1129.4 495.4,1147.8 496.0,1130.7 496.6,1119.5 497.2,1153.0 497.9,1165.2 498.5,1142.6 499.1,1154.4 499.7,1157.7 500.4,1164.4 501.0,1135.1 501.6,1158.7 502.2,1169.4 502.8,1159.4 503.5,1167.4 504.1,1153.5 504.7,1160.1 505.3,1167.3 505.9,1149.8 506.6,1163.5 507.2,1149.1 507.8,1143.7 508.4,1161.5 509.0,1164.8 509.7,1156.1 510.3,1149.0 510.9,1158.9 511.5,1157.6 512.2,1159.7 512.8,1156.4 513.4,1153.4 514.0,1167.9 514.6,1165.8 515.3,1160.5 515.9,1168.3 516.5,1160.1 517.1,1156.1 517.7,1162.3 518.4,1168.7 519.0,1170.8 519.6,1144.5 520.2,1153.9 520.8,1175.2 521.5,1172.6 522.1,1144.3 522.7,1148.4 523.3,1163.2 523.9,1152.6 524.6,1180.6 525.2,1165.3 525.8,1157.8 526.4,1185.2 527.1,1174.2 527.7,1158.1 528.3,1154.7 528.9,1172.9 529.5,1164.0 530.2,1150.6 530.8,1171.4 531.4,1181.5 532.0,1168.6 532.6,1172.2 533.3,1154.9 533.9,1166.9 534.5,1177.1 535.1,1144.3 535.7,1174.4 536.4,1164.6 537.0,1162.7 537.6,1161.8 538.2,1168.3 538.9,1164.3 539.5,1171.2 540.1,1185.3 540.7,1173.2 541.3,1173.2 542.0,1173.1 542.6,1170.1 543.2,1178.1 543.8,1158.4 544.4,1156.1 545.1,1194.7 545.7,1172.4 546.3,1179.9 546.9,1199.3 547.5,1168.9 548.2,1179.5 548.8,1177.2 549.4,1180.2 550.0,1162.7 550.7,1161.4 551.3,1171.3 551.9,1167.3 552.5,1175.6 553.1,1173.2 553.8,1182.3 554.4,1174.6 555.0,1182.3 555.6,1171.5 556.2,1167.1 556.9,1172.5 557.5,1163.8 558.1,1148.9 558.7,1197.2 559.3,1176.1 560.0,1182.1 560.6,1181.1 561.2,1190.3 561.8,1176.3 562.5,1179.6 563.1,1183.4 563.7,1179.8 564.3,1183.3 564.9,1200.9 565.6,1166.9 566.2,1180.9 566.8,1187.4 567.4,1175.1 568.0,1184.8 568.7,1200.0 569.3,1169.7 569.9,1195.3 570.5,1180.9 571.1,1177.7 571.8,1165.6 572.4,1167.4 573.0,1177.6 573.6,1187.0 574.3,1183.7 574.9,1168.9 575.5,1162.1 576.1,1174.5 576.7,1186.4 577.4,1170.0 578.0,1184.0 578.6,1184.4 579.2,1183.2 579.8,1174.8 580.5,1178.0 581.1,1171.0 581.7,1168.2 582.3,1176.0 582.9,1204.1 583.6,1198.0 584.2,1179.8 584.8,1182.1 585.4,1160.4 586.0,1182.0 586.7,1183.3 587.3,1172.6 587.9,1171.6 588.5,1184.4 589.2,1177.6 589.8,1193.4 590.4,1191.6 591.0,1170.4 591.6,1196.4 592.3,1173.7 592.9,1176.2 593.5,1175.4 594.1,1174.1 594.7,1177.6 595.4,1204.1 596.0,1193.1 596.6,1189.2 597.2,1174.5 597.8,1194.5 598.5,1190.5 599.1,1187.2 599.7,1171.0 600.3,1197.9 601.0,1197.1 601.6,1177.9 602.2,1204.8 602.8,1181.0 603.4,1188.7 604.1,1199.7 604.7,1188.5 605.3,1194.3 605.9,1183.0 606.5,1181.1 607.2,1170.3 607.8,1185.0 608.4,1183.9 609.0,1190.6 609.6,1185.3 610.3,1175.0 610.9,1203.8 611.5,1178.9 612.1,1190.5 612.8,1184.7 613.4,1182.3 614.0,1177.3 614.6,1183.3 615.2,1189.5 615.9,1182.8 616.5,1185.7 617.1,1187.9 617.7,1184.0 618.3,1177.6 619.0,1184.8 619.6,1184.7 620.2,1198.6 620.8,1187.5 621.4,1204.3 622.1,1179.5 622.7,1195.5 623.3,1174.1 623.9,1157.8 624.6,1190.5 625.2,1173.9 625.8,1182.9 626.4,1192.2 627.0,1195.0 627.7,1181.6 628.3,1173.6 628.9,1183.7 629.5,1201.6 630.1,1197.2 630.8,1189.4 631.4,1174.3 632.0,1184.6 632.6,1184.3 633.2,1175.8 633.9,1189.5 634.5,1188.4 635.1,1189.3 635.7,1204.7 636.4,1183.2 637.0,1183.8 637.6,1178.5 638.2,1199.2 638.8,1195.7 639.5,1179.0 640.1,1184.9 640.7,1174.9 641.3,1196.3 641.9,1186.2 642.6,1194.6 643.2,1185.3 643.8,1192.9 644.4,1183.2 645.0,1178.0 645.7,1182.0 646.3,1205.7 646.9,1179.5 647.5,1184.3 648.1,1198.5 648.8,1197.1 649.4,1188.6 650.0,1183.2 650.6,1193.0 651.3,1204.3 651.9,1186.1 652.5,1187.3 653.1,1165.6 653.7,1201.2 654.4,1164.9 655.0,1172.4 655.6,1186.2 656.2,1173.3 656.8,1188.2 657.5,1179.9 658.1,1196.2 658.7,1188.5 659.3,1198.9 659.9,1204.3 660.6,1191.9 661.2,1195.7 661.8,1184.0 662.4,1177.4 663.1,1191.1 663.7,1189.0 664.3,1187.8 664.9,1205.5 665.5,1187.1 666.2,1189.6 666.8,1190.1 667.4,1200.2 668.0,1208.6 668.6,1192.2 669.3,1186.8 669.9,1177.1 670.5,1179.2 671.1,1176.1 671.7,1186.4 672.4,1179.0 673.0,1192.0 673.6,1184.1 674.2,1181.2 674.9,1164.6 675.5,1187.8 676.1,1202.2 676.7,1177.1 677.3,1197.7 678.0,1190.8 678.6,1193.1 679.2,1198.9 679.8,1177.7 680.4,1184.7 681.1,1196.2 681.7,1189.7 682.3,1194.5 682.9,1184.6 683.5,1194.1 684.2,1197.8 684.8,1196.6 685.4,1194.7 686.0,1187.8 686.7,1199.3 687.3,1191.5 687.9,1186.5 688.5,1168.6 689.1,1182.6 689.8,1218.9 690.4,1195.6 691.0,1194.5 691.6,1187.8 692.2,1176.0 692.9,1183.8 693.5,1212.6 694.1,1188.0 694.7,1189.9 695.3,1187.0 696.0,1178.1 696.6,1201.3 697.2,1180.6 697.8,1206.6 698.5,1190.5 699.1,1187.5 699.7,1169.5 700.3,1197.7 700.9,1207.1 701.6,1184.6 702.2,1197.4 702.8,1176.4 703.4,1197.9 704.0,1199.5 704.7,1179.5 705.3,1190.4 705.9,1181.8 706.5,1204.8 707.1,1175.7 707.8,1196.9 708.4,1183.6 709.0,1200.8 709.6,1206.0 710.2,1193.8 710.9,1189.8 711.5,1176.6 712.1,1188.1 712.7,1184.7 713.4,1185.3 714.0,1162.2 714.6,1199.2 715.2,1179.7 715.8,1192.9 716.5,1189.1 717.1,1196.7 717.7,1180.6 718.3,1203.4 718.9,1204.1 719.6,1193.6 720.2,1202.5 720.8,1185.0 721.4,1183.0 722.0,1198.8 722.7,1184.3 723.3,1197.9 723.9,1192.1 724.5,1191.7 725.2,1174.1 725.8,1191.8 726.4,1200.4 727.0,1200.4 727.6,1180.5 728.3,1207.5 728.9,1196.3 729.5,1195.4 730.1,1214.9 730.7,1196.3 731.4,1182.5 732.0,1189.7 732.6,1200.4 733.2,1185.4 733.8,1187.1 734.5,1172.9 735.1,1198.9 735.7,1195.6 736.3,1191.6 737.0,1193.3 737.6,1191.2 738.2,1193.0 738.8,1198.6 739.4,1207.1 740.1,1197.3 740.7,1205.2 741.3,1202.0 741.9,1197.2 742.5,1187.4 743.2,1184.1 743.8,1201.9 744.4,1189.3 745.0,1184.7 745.6,1192.7 746.3,1207.7 746.9,1212.6 747.5,1184.9 748.1,1183.8 748.8,1189.8 749.4,1202.3 750.0,1178.8 750.6,1181.0 751.2,1192.9 751.9,1194.6 752.5,1210.9 753.1,1185.4 753.7,1207.7 754.3,1186.1 755.0,1185.7 755.6,1191.7 756.2,1177.7 756.8,1195.6 757.4,1187.0 758.1,1185.1 758.7,1190.3 759.3,1196.5 759.9,1181.1 760.6,1188.6 761.2,1194.4 761.8,1194.2 762.4,1191.4 763.0,1171.2 763.7,1191.7 764.3,1194.9 764.9,1202.7 765.5,1204.1 766.1,1210.5 766.8,1190.5 767.4,1192.4 768.0,1202.4 768.6,1206.7 769.2,1195.8 769.9,1197.7 770.5,1205.3 771.1,1189.9 771.7,1191.4 772.3,1193.3 773.0,1185.6 773.6,1198.9 774.2,1180.1 774.8,1202.3 775.5,1188.0 776.1,1186.9 776.7,1195.3 777.3,1189.6 777.9,1204.9 778.6,1207.0 779.2,1194.8 779.8,1199.7 780.4,1187.4 781.0,1192.6 781.7,1187.1 782.3,1189.9 782.9,1191.0 783.5,1192.1 784.1,1196.4 784.8,1197.3 785.4,1173.9 786.0,1209.5 786.6,1194.7 787.3,1183.6 787.9,1189.1 788.5,1179.8 789.1,1187.8 789.7,1204.8 790.4,1196.1 791.0,1206.2 791.6,1183.8 792.2,1179.5 792.8,1197.2 793.5,1188.0 794.1,1196.9 794.7,1206.6 795.3,1197.3 795.9,1208.0 796.6,1198.5 797.2,1191.2 797.8,1186.3 798.4,1181.0" fill="none" stroke="#90dcd6" stroke-width="1.2" stroke-linejoin="round"/>
<polyline points="108.5,1193.8 109.1,1196.2 109.7,1193.5 110.4,1204.0 111.0,1189.2 111.6,1196.6 112.2,1194.8 112.8,1189.5 113.5,1193.8 114.1,1193.1 114.7,1190.4 115.3,1200.5 116.0,1194.7 116.6,1196.8 117.2,1194.6 117.8,1196.8 118.4,1190.5 119.1,1195.7 119.7,1188.8 120.3,1198.3 120.9,1189.3 121.5,1193.3 122.2,1195.0 122.8,1197.0 123.4,1203.7 124.0,1187.0 124.6,1178.9 125.3,1202.0 125.9,1204.6 126.5,1204.7 127.1,1187.7 127.8,1194.4 128.4,1185.4 129.0,1183.5 129.6,1186.1 130.2,1182.2 130.9,1191.9 131.5,1187.3 132.1,1196.7 132.7,1193.5 133.3,1188.2 134.0,1182.3 134.6,1200.6 135.2,1202.0 135.8,1201.2 136.4,1192.1 137.1,1194.5 137.7,1184.3 138.3,1202.4 138.9,1187.3 139.6,1186.2 140.2,1204.6 140.8,1199.0 141.4,1188.3 142.0,1191.1 142.7,1183.2 143.3,1175.7 143.9,1189.3 144.5,1192.1 145.1,1197.6 145.8,1192.1 146.4,1199.9 147.0,1195.3 147.6,1184.6 148.2,1186.8 148.9,1203.2 149.5,1209.9 150.1,1216.9 150.7,1190.3 151.3,1192.8 152.0,1189.1 152.6,1198.6 153.2,1200.5 153.8,1190.9 154.5,1190.3 155.1,1198.8 155.7,1198.3 156.3,1182.8 156.9,1196.8 157.6,1196.0 158.2,1194.3 158.8,1195.0 159.4,1191.0 160.0,1196.5 160.7,1196.9 161.3,1194.7 161.9,1194.0 162.5,1192.6 163.1,1194.3 163.8,1198.5 164.4,1185.2 165.0,1202.4 165.6,1193.0 166.3,1196.5 166.9,1192.5 167.5,1189.6 168.1,1194.5 168.7,1194.1 169.4,1187.8 170.0,1191.6 170.6,1197.8 171.2,1187.0 171.8,1187.0 172.5,1186.0 173.1,1190.4 173.7,1183.1 174.3,1191.8 174.9,1194.6 175.6,1178.6 176.2,1198.5 176.8,1191.6 177.4,1200.6 178.1,1192.8 178.7,1200.9 179.3,1187.6 179.9,1194.4 180.5,1197.3 181.2,1185.6 181.8,1186.3 182.4,1190.2 183.0,1195.6 183.6,1190.5 184.3,1193.5 184.9,1189.8 185.5,1193.7 186.1,1203.0 186.7,1197.1 187.4,1194.3 188.0,1203.5 188.6,1197.0 189.2,1188.4 189.9,1190.4 190.5,1191.3 191.1,1198.3 191.7,1192.6 192.3,1201.6 193.0,1182.6 193.6,1192.9 194.2,1189.8 194.8,1196.5 195.4,1197.8 196.1,1194.5 196.7,1189.9 197.3,1188.2 197.9,1206.0 198.5,1189.2 199.2,1198.5 199.8,1180.6 200.4,1189.9 201.0,1183.3 201.7,1204.9 202.3,1193.4 202.9,1190.3 203.5,1193.4 204.1,1190.1 204.8,1189.2 205.4,1186.9 206.0,1179.8 206.6,1182.6 207.2,1194.7 207.9,1202.2 208.5,1199.7 209.1,1198.4 209.7,1207.9 210.3,1191.3 211.0,1191.6 211.6,1187.3 212.2,1186.2 212.8,1186.9 213.4,1191.6 214.1,1203.5 214.7,1191.7 215.3,1186.4 215.9,1190.9 216.6,1182.0 217.2,1183.4 217.8,1196.7 218.4,1184.6 219.0,1196.6 219.7,1191.5 220.3,1192.3 220.9,1196.1 221.5,1192.9 222.1,1187.1 222.8,1187.8 223.4,1178.8 224.0,1182.9 224.6,1192.1 225.2,1186.4 225.9,1202.0 226.5,1192.1 227.1,1190.0 227.7,1194.2 228.4,1197.6 229.0,1187.8 229.6,1179.3 230.2,1192.4 230.8,1196.6 231.5,1185.1 232.1,1200.1 232.7,1185.3 233.3,1190.8 233.9,1183.8 234.6,1200.3 235.2,1190.6 235.8,1192.6 236.4,1196.0 237.0,1198.3 237.7,1191.8 238.3,1185.8 238.9,1185.4 239.5,1181.1 240.2,1194.5 240.8,1191.8 241.4,1196.0 242.0,1191.2 242.6,1185.6 243.3,1173.5 243.9,1178.1 244.5,1199.0 245.1,1182.2 245.7,1188.1 246.4,1193.1 247.0,1203.7 247.6,1188.7 248.2,1189.1 248.8,1191.3 249.5,1192.5 250.1,1177.9 250.7,1192.3 251.3,1195.2 252.0,1179.7 252.6,1183.6 253.2,1184.3 253.8,1188.6 254.4,1182.0 255.1,1198.3 255.7,1188.4 256.3,1198.0 256.9,1200.9 257.5,1203.1 258.2,1184.3 258.8,1182.0 259.4,1188.2 260.0,1179.4 260.6,1189.0 261.3,1195.3 261.9,1197.7 262.5,1190.0 263.1,1184.2 263.8,1189.0 264.4,1179.4 265.0,1194.7 265.6,1200.9 266.2,1195.2 266.9,1191.1 267.5,1174.6 268.1,1181.6 268.7,1188.9 269.3,1182.9 270.0,1186.5 270.6,1197.7 271.2,1185.2 271.8,1201.6 272.4,1195.4 273.1,1192.9 273.7,1192.8 274.3,1202.9 274.9,1196.9 275.5,1189.6 276.2,1190.3 276.8,1191.3 277.4,1192.2 278.0,1180.2 278.7,1181.8 279.3,1187.9 279.9,1178.2 280.5,1186.2 281.1,1182.8 281.8,1190.9 282.4,1197.7 283.0,1179.3 283.6,1180.7 284.2,1205.6 284.9,1192.5 285.5,1191.8 286.1,1202.4 286.7,1196.1 287.3,1190.1 288.0,1179.6 288.6,1184.4 289.2,1171.1 289.8,1191.4 290.5,1180.7 291.1,1181.0 291.7,1181.9 292.3,1196.9 292.9,1196.2 293.6,1193.2 294.2,1193.0 294.8,1182.4 295.4,1183.1 296.0,1185.4 296.7,1194.4 297.3,1176.6 297.9,1179.2 298.5,1187.1 299.1,1179.3 299.8,1186.0 300.4,1176.5 301.0,1190.3 301.6,1188.1 302.3,1179.4 302.9,1188.7 303.5,1192.3 304.1,1187.5 304.7,1188.5 305.4,1198.7 306.0,1178.8 306.6,1163.3 307.2,1191.6 307.8,1179.6 308.5,1185.2 309.1,1196.4 309.7,1183.6 310.3,1184.3 310.9,1171.9 311.6,1190.5 312.2,1188.8 312.8,1186.0 313.4,1189.0 314.1,1193.7 314.7,1186.2 315.3,1173.5 315.9,1176.3 316.5,1178.4 317.2,1183.4 317.8,1176.1 318.4,1178.1 319.0,1188.4 319.6,1174.7 320.3,1185.0 320.9,1187.0 321.5,1190.1 322.1,1184.0 322.7,1188.7 323.4,1172.6 324.0,1176.5 324.6,1172.1 325.2,1173.0 325.9,1178.1 326.5,1173.7 327.1,1174.0 327.7,1190.3 328.3,1179.0 329.0,1174.4 329.6,1167.4 330.2,1181.2 330.8,1179.7 331.4,1184.2 332.1,1180.1 332.7,1185.7 333.3,1178.2 333.9,1184.2 334.5,1183.2 335.2,1174.4 335.8,1187.6 336.4,1174.5 337.0,1191.1 337.6,1189.8 338.3,1180.8 338.9,1181.2 339.5,1177.4 340.1,1185.5 340.8,1178.5 341.4,1182.4 342.0,1169.3 342.6,1177.4 343.2,1176.5 343.9,1186.2 344.5,1179.4 345.1,1182.6 345.7,1176.8 346.3,1183.6 347.0,1186.7 347.6,1176.9 348.2,1166.4 348.8,1174.6 349.4,1171.0 350.1,1174.6 350.7,1171.9 351.3,1175.1 351.9,1169.0 352.6,1180.6 353.2,1178.3 353.8,1173.5 354.4,1176.2 355.0,1178.2 355.7,1167.4 356.3,1172.8 356.9,1182.2 357.5,1160.9 358.1,1171.0 358.8,1176.2 359.4,1168.1 360.0,1171.0 360.6,1176.9 361.2,1184.8 361.9,1174.5 362.5,1179.2 363.1,1193.0 363.7,1160.8 364.4,1158.4 365.0,1164.1 365.6,1162.1 366.2,1174.3 366.8,1182.0 367.5,1173.6 368.1,1158.8 368.7,1178.6 369.3,1166.8 369.9,1169.1 370.6,1175.0 371.2,1171.3 371.8,1178.2 372.4,1170.0 373.0,1165.3 373.7,1162.6 374.3,1165.4 374.9,1147.2 375.5,1166.4 376.2,1163.3 376.8,1172.8 377.4,1167.5 378.0,1163.4 378.6,1173.4 379.3,1151.2 379.9,1155.7 380.5,1171.8 381.1,1157.5 381.7,1169.3 382.4,1145.1 383.0,1165.0 383.6,1171.7 384.2,1175.2 384.8,1168.3 385.5,1161.2 386.1,1170.9 386.7,1181.9 387.3,1174.1 388.0,1164.5 388.6,1156.7 389.2,1175.3 389.8,1162.3 390.4,1164.4 391.1,1164.4 391.7,1167.0 392.3,1169.6 392.9,1149.6 393.5,1153.0 394.2,1164.6 394.8,1158.4 395.4,1152.9 396.0,1149.8 396.6,1147.3 397.3,1157.7 397.9,1153.7 398.5,1158.9 399.1,1156.9 399.7,1164.0 400.4,1150.1 401.0,1161.9 401.6,1137.4 402.2,1155.5 402.9,1148.3 403.5,1160.8 404.1,1162.0 404.7,1147.2 405.3,1154.3 406.0,1157.1 406.6,1152.2 407.2,1148.6 407.8,1153.1 408.4,1154.9 409.1,1149.3 409.7,1149.4 410.3,1152.1 410.9,1158.3 411.5,1157.4 412.2,1153.5 412.8,1146.4 413.4,1156.4 414.0,1161.4 414.7,1145.8 415.3,1153.6 415.9,1154.6 416.5,1150.9 417.1,1144.4 417.8,1161.4 418.4,1151.0 419.0,1147.2 419.6,1148.4 420.2,1152.4 420.9,1151.2 421.5,1134.8 422.1,1146.7 422.7,1132.5 423.3,1139.8 424.0,1149.3 424.6,1135.5 425.2,1144.8 425.8,1145.1 426.5,1148.3 427.1,1135.1 427.7,1145.2 428.3,1143.6 428.9,1141.6 429.6,1121.2 430.2,1132.4 430.8,1134.3 431.4,1128.8 432.0,1140.8 432.7,1136.1 433.3,1136.9 433.9,1144.6 434.5,1121.7 435.1,1129.1 435.8,1151.4 436.4,1144.4 437.0,1136.7 437.6,1133.7 438.3,1134.1 438.9,1149.1 439.5,1129.6 440.1,1135.4 440.7,1128.6 441.4,1124.5 442.0,1137.0 442.6,1141.8 443.2,1136.8 443.8,1133.6 444.5,1147.2 445.1,1161.5 445.7,1163.0 446.3,1166.4 446.9,1165.4 447.6,1182.5 448.2,1176.9 448.8,1191.9 449.4,1200.9" fill="none" stroke="#1d7d76" stroke-width="1.9" stroke-linejoin="round"/>
<polyline points="458.1,1191.2 458.7,1181.5 459.4,1163.2 460.0,1164.1 460.6,1160.9 461.2,1158.0 461.8,1152.5 462.5,1137.8 463.1,1148.4 463.7,1155.6 464.3,1135.5 465.0,1124.8 465.6,1141.3 466.2,1134.4 466.8,1146.9 467.4,1144.3 468.1,1144.9 468.7,1131.5 469.3,1133.7 469.9,1129.6 470.5,1124.5 471.2,1128.3 471.8,1138.2 472.4,1138.2 473.0,1141.3 473.6,1126.4 474.3,1122.9 474.9,1134.3 475.5,1132.3 476.1,1149.1 476.8,1150.6 477.4,1143.2 478.0,1133.0 478.6,1156.6 479.2,1153.5 479.9,1132.6 480.5,1152.3 481.1,1128.2 481.7,1132.6 482.3,1141.4 483.0,1141.4 483.6,1130.0 484.2,1154.6 484.8,1147.4 485.4,1145.4 486.1,1147.5 486.7,1147.8 487.3,1129.6 487.9,1150.2 488.6,1162.7 489.2,1152.8 489.8,1145.5 490.4,1140.1 491.0,1155.6 491.7,1150.9 492.3,1145.2 492.9,1147.6 493.5,1148.9 494.1,1159.1 494.8,1133.3 495.4,1142.7 496.0,1133.5 496.6,1129.2 497.2,1155.7 497.9,1173.0 498.5,1158.2 499.1,1152.3 499.7,1150.9 500.4,1166.9 501.0,1151.2 501.6,1157.1 502.2,1168.2 502.8,1161.7 503.5,1164.4 504.1,1154.7 504.7,1155.0 505.3,1153.0 505.9,1146.9 506.6,1164.2 507.2,1156.1 507.8,1150.2 508.4,1156.0 509.0,1158.8 509.7,1153.8 510.3,1156.2 510.9,1164.6 511.5,1164.2 512.2,1166.8 512.8,1160.6 513.4,1152.3 514.0,1158.9 514.6,1159.5 515.3,1160.9 515.9,1165.7 516.5,1161.8 517.1,1160.4 517.7,1159.0 518.4,1164.2 519.0,1169.6 519.6,1154.7 520.2,1157.1 520.8,1169.6 521.5,1174.4 522.1,1157.9 522.7,1159.3 523.3,1162.4 523.9,1152.9 524.6,1178.9 525.2,1169.0 525.8,1157.9 526.4,1174.1 527.1,1170.9 527.7,1162.1 528.3,1158.2 528.9,1166.6 529.5,1161.0 530.2,1149.3 530.8,1163.6 531.4,1172.0 532.0,1163.6 532.6,1175.7 533.3,1169.0 533.9,1176.7 534.5,1184.5 535.1,1155.8 535.7,1170.7 536.4,1166.7 537.0,1166.4 537.6,1167.8 538.2,1172.3 538.9,1167.3 539.5,1169.1 540.1,1181.6 540.7,1174.1 541.3,1166.3 542.0,1164.6 542.6,1166.9 543.2,1176.8 543.8,1169.5 544.4,1163.6 545.1,1190.4 545.7,1174.0 546.3,1172.2 546.9,1188.0 547.5,1171.2 548.2,1178.3 548.8,1177.9 549.4,1174.9 550.0,1161.0 550.7,1160.7 551.3,1169.7 551.9,1173.6 552.5,1173.7 553.1,1173.4 553.8,1184.7 554.4,1174.5 555.0,1174.1 555.6,1173.7 556.2,1175.1 556.9,1174.5 557.5,1168.9 558.1,1162.6 558.7,1189.3 559.3,1175.7 560.0,1182.1 560.6,1186.6 561.2,1191.8 561.8,1182.5 562.5,1182.2 563.1,1177.4 563.7,1178.9 564.3,1182.0 564.9,1190.8 565.6,1171.4 566.2,1179.1 566.8,1183.0 567.4,1178.1 568.0,1185.9 568.7,1188.8 569.3,1167.8 569.9,1188.2 570.5,1178.1 571.1,1177.3 571.8,1173.3 572.4,1171.3 573.0,1173.4 573.6,1179.1 574.3,1184.4 574.9,1177.4 575.5,1169.1 576.1,1175.5 576.7,1185.1 577.4,1179.7 578.0,1185.9 578.6,1185.7 579.2,1187.8 579.8,1180.4 580.5,1176.7 581.1,1172.0 581.7,1169.7 582.3,1177.7 582.9,1195.8 583.6,1189.3 584.2,1183.0 584.8,1185.6 585.4,1172.6 586.0,1185.0 586.7,1185.5 587.3,1174.9 587.9,1173.2 588.5,1188.6 589.2,1184.1 589.8,1188.5 590.4,1187.8 591.0,1173.8 591.6,1191.1 592.3,1182.4 592.9,1176.7 593.5,1173.8 594.1,1176.1 594.7,1176.9 595.4,1192.7 596.0,1187.4 596.6,1187.3 597.2,1175.6 597.8,1188.5 598.5,1188.8 599.1,1183.6 599.7,1175.3 600.3,1197.8 601.0,1194.9 601.6,1176.1 602.2,1192.8 602.8,1186.3 603.4,1189.9 604.1,1186.3 604.7,1185.7 605.3,1202.4 605.9,1192.0 606.5,1183.1 607.2,1173.7 607.8,1180.4 608.4,1181.8 609.0,1186.6 609.6,1182.8 610.3,1177.8 610.9,1196.2 611.5,1182.0 612.1,1186.9 612.8,1181.9 613.4,1183.7 614.0,1178.8 614.6,1183.2 615.2,1190.6 615.9,1184.2 616.5,1190.7 617.1,1193.4 617.7,1183.5 618.3,1176.3 619.0,1186.4 619.6,1190.9 620.2,1199.0 620.8,1190.7 621.4,1197.9 622.1,1186.8 622.7,1195.4 623.3,1178.0 623.9,1169.3 624.6,1191.0 625.2,1181.4 625.8,1189.9 626.4,1194.3 627.0,1190.5 627.7,1183.4 628.3,1182.5 628.9,1184.8 629.5,1189.2 630.1,1195.2 630.8,1192.6 631.4,1177.9 632.0,1192.4 632.6,1191.1 633.2,1177.3 633.9,1184.9 634.5,1185.6 635.1,1190.0 635.7,1201.1 636.4,1185.0 637.0,1180.8 637.6,1180.3 638.2,1196.8 638.8,1191.4 639.5,1186.6 640.1,1190.8 640.7,1179.5 641.3,1199.7 641.9,1190.9 642.6,1192.4 643.2,1186.8 643.8,1185.1 644.4,1184.9 645.0,1188.8 645.7,1187.8 646.3,1203.6 646.9,1185.9 647.5,1183.4 648.1,1191.3 648.8,1196.0 649.4,1193.0 650.0,1183.6 650.6,1194.9 651.3,1200.5 651.9,1188.5 652.5,1191.1 653.1,1178.0 653.7,1197.7 654.4,1167.7 655.0,1174.1 655.6,1187.0 656.2,1175.9 656.8,1186.1 657.5,1184.5 658.1,1190.9 658.7,1185.2 659.3,1189.5 659.9,1190.6 660.6,1182.2 661.2,1187.7 661.8,1182.9 662.4,1181.1 663.1,1189.9 663.7,1181.6 664.3,1176.9 664.9,1195.8 665.5,1191.5 666.2,1187.7 666.8,1189.9 667.4,1196.4 668.0,1197.6 668.6,1190.6 669.3,1190.3 669.9,1185.7 670.5,1184.6 671.1,1176.8 671.7,1183.1 672.4,1174.5 673.0,1187.1 673.6,1191.6 674.2,1184.0 674.9,1175.6 675.5,1190.4 676.1,1193.7 676.7,1179.1 677.3,1194.3 678.0,1188.1 678.6,1187.7 679.2,1191.8 679.8,1178.7 680.4,1186.8 681.1,1198.2 681.7,1193.5 682.3,1192.9 682.9,1186.5 683.5,1190.0 684.2,1191.1 684.8,1190.3 685.4,1189.6 686.0,1190.1 686.7,1195.0 687.3,1187.0 687.9,1188.6 688.5,1180.3 689.1,1178.9 689.8,1208.8 690.4,1199.3 691.0,1189.3 691.6,1188.6 692.2,1182.5 692.9,1188.4 693.5,1198.5 694.1,1183.5 694.7,1192.0 695.3,1186.9 696.0,1179.7 696.6,1196.3 697.2,1185.7 697.8,1204.5 698.5,1191.1 699.1,1188.5 699.7,1187.4 700.3,1198.6 700.9,1195.5 701.6,1184.0 702.2,1195.2 702.8,1180.2 703.4,1194.7 704.0,1204.9 704.7,1189.5 705.3,1187.9 705.9,1181.5 706.5,1191.8 707.1,1173.8 707.8,1192.8 708.4,1187.7 709.0,1195.0 709.6,1197.7 710.2,1193.2 710.9,1195.5 711.5,1188.1 712.1,1193.7 712.7,1190.2 713.4,1186.6 714.0,1171.4 714.6,1189.1 715.2,1179.9 715.8,1188.8 716.5,1189.1 717.1,1197.2 717.7,1181.8 718.3,1190.6 718.9,1196.6 719.6,1196.4 720.2,1198.4 720.8,1187.5 721.4,1189.3 722.0,1203.0 722.7,1195.0 723.3,1198.9 723.9,1195.8 724.5,1190.4 725.2,1172.8 725.8,1193.5 726.4,1203.4 727.0,1194.6 727.6,1177.3 728.3,1194.1 728.9,1195.3 729.5,1198.9 730.1,1203.1 730.7,1190.6 731.4,1187.1 732.0,1190.4 732.6,1192.8 733.2,1184.8 733.8,1187.9 734.5,1176.8 735.1,1194.6 735.7,1198.2 736.3,1192.1 737.0,1193.9 737.6,1193.4 738.2,1193.2 738.8,1195.6 739.4,1202.0 740.1,1195.3 740.7,1195.9 741.3,1198.0 741.9,1198.3 742.5,1192.0 743.2,1190.2 743.8,1203.8 744.4,1190.7 745.0,1183.0 745.6,1187.4 746.3,1201.8 746.9,1213.5 747.5,1197.5 748.1,1189.7 748.8,1186.7 749.4,1201.1 750.0,1186.4 750.6,1183.9 751.2,1197.1 751.9,1197.1 752.5,1202.0 753.1,1187.2 753.7,1202.6 754.3,1191.4 755.0,1194.6 755.6,1196.9 756.2,1189.1 756.8,1197.1 757.4,1189.9 758.1,1186.7 758.7,1191.9 759.3,1195.4 759.9,1184.1 760.6,1195.0 761.2,1195.3 761.8,1190.2 762.4,1189.4 763.0,1180.8 763.7,1187.4 764.3,1187.0 764.9,1200.5 765.5,1203.5 766.1,1199.3 766.8,1185.7 767.4,1189.3 768.0,1190.5 768.6,1197.0 769.2,1195.1 769.9,1196.4 770.5,1202.0 771.1,1189.5 771.7,1194.1 772.3,1196.3 773.0,1187.6 773.6,1193.1 774.2,1183.8 774.8,1203.6 775.5,1192.3 776.1,1191.2 776.7,1196.8 777.3,1188.7 777.9,1200.9 778.6,1204.0 779.2,1197.1 779.8,1207.6 780.4,1201.4 781.0,1202.5 781.7,1195.1 782.3,1194.0 782.9,1195.1 783.5,1192.9 784.1,1192.2 784.8,1193.5 785.4,1183.5 786.0,1202.5 786.6,1188.1 787.3,1183.0 787.9,1189.9 788.5,1184.6 789.1,1192.3 789.7,1206.3 790.4,1199.3 791.0,1201.8 791.6,1188.9 792.2,1180.1 792.8,1190.9 793.5,1190.0 794.1,1195.4 794.7,1198.8 795.3,1193.1 795.9,1197.6 796.6,1191.8 797.2,1190.4 797.8,1184.0 798.4,1183.6" fill="none" stroke="#1d7d76" stroke-width="1.9" stroke-linejoin="round"/>
<polyline points="108.5,1192.8 109.4,1192.8 110.2,1192.8 111.1,1192.7 111.9,1192.7 112.8,1192.7 113.7,1192.7 114.5,1192.7 115.4,1192.7 116.3,1192.7 117.1,1192.7 118.0,1192.7 118.8,1192.7 119.7,1192.7 120.6,1192.7 121.4,1192.7 122.3,1192.6 123.2,1192.6 124.0,1192.6 124.9,1192.6 125.8,1192.6 126.6,1192.6 127.5,1192.6 128.3,1192.6 129.2,1192.6 130.1,1192.6 130.9,1192.6 131.8,1192.6 132.6,1192.5 133.5,1192.5 134.4,1192.5 135.2,1192.5 136.1,1192.5 137.0,1192.5 137.8,1192.5 138.7,1192.5 139.6,1192.5 140.4,1192.5 141.3,1192.4 142.1,1192.4 143.0,1192.4 143.9,1192.4 144.7,1192.4 145.6,1192.4 146.4,1192.4 147.3,1192.4 148.2,1192.4 149.0,1192.3 149.9,1192.3 150.8,1192.3 151.6,1192.3 152.5,1192.3 153.3,1192.3 154.2,1192.3 155.1,1192.3 155.9,1192.2 156.8,1192.2 157.7,1192.2 158.5,1192.2 159.4,1192.2 160.2,1192.2 161.1,1192.2 162.0,1192.1 162.8,1192.1 163.7,1192.1 164.6,1192.1 165.4,1192.1 166.3,1192.1 167.1,1192.1 168.0,1192.0 168.9,1192.0 169.7,1192.0 170.6,1192.0 171.5,1192.0 172.3,1192.0 173.2,1191.9 174.1,1191.9 174.9,1191.9 175.8,1191.9 176.6,1191.9 177.5,1191.8 178.4,1191.8 179.2,1191.8 180.1,1191.8 180.9,1191.8 181.8,1191.8 182.7,1191.7 183.5,1191.7 184.4,1191.7 185.3,1191.7 186.1,1191.7 187.0,1191.6 187.8,1191.6 188.7,1191.6 189.6,1191.6 190.4,1191.6 191.3,1191.5 192.2,1191.5 193.0,1191.5 193.9,1191.5 194.8,1191.4 195.6,1191.4 196.5,1191.4 197.3,1191.4 198.2,1191.3 199.1,1191.3 199.9,1191.3 200.8,1191.3 201.6,1191.2 202.5,1191.2 203.4,1191.2 204.2,1191.2 205.1,1191.1 206.0,1191.1 206.8,1191.1 207.7,1191.1 208.5,1191.0 209.4,1191.0 210.3,1191.0 211.1,1190.9 212.0,1190.9 212.9,1190.9 213.7,1190.8 214.6,1190.8 215.4,1190.8 216.3,1190.8 217.2,1190.7 218.0,1190.7 218.9,1190.7 219.8,1190.6 220.6,1190.6 221.5,1190.6 222.3,1190.5 223.2,1190.5 224.1,1190.5 224.9,1190.4 225.8,1190.4 226.7,1190.3 227.5,1190.3 228.4,1190.3 229.2,1190.2 230.1,1190.2 231.0,1190.2 231.8,1190.1 232.7,1190.1 233.6,1190.0 234.4,1190.0 235.3,1189.9 236.1,1189.9 237.0,1189.9 237.9,1189.8 238.7,1189.8 239.6,1189.7 240.5,1189.7 241.3,1189.6 242.2,1189.6 243.0,1189.5 243.9,1189.5 244.8,1189.5 245.6,1189.4 246.5,1189.4 247.4,1189.3 248.2,1189.3 249.1,1189.2 249.9,1189.2 250.8,1189.1 251.7,1189.0 252.5,1189.0 253.4,1188.9 254.3,1188.9 255.1,1188.8 256.0,1188.8 256.9,1188.7 257.7,1188.7 258.6,1188.6 259.4,1188.5 260.3,1188.5 261.2,1188.4 262.0,1188.4 262.9,1188.3 263.8,1188.2 264.6,1188.2 265.5,1188.1 266.3,1188.0 267.2,1188.0 268.1,1187.9 268.9,1187.8 269.8,1187.8 270.6,1187.7 271.5,1187.6 272.4,1187.6 273.2,1187.5 274.1,1187.4 275.0,1187.3 275.8,1187.3 276.7,1187.2 277.5,1187.1 278.4,1187.0 279.3,1187.0 280.1,1186.9 281.0,1186.8 281.9,1186.7 282.7,1186.6 283.6,1186.6 284.4,1186.5 285.3,1186.4 286.2,1186.3 287.0,1186.2 287.9,1186.1 288.8,1186.0 289.6,1185.9 290.5,1185.8 291.4,1185.7 292.2,1185.7 293.1,1185.6 293.9,1185.5 294.8,1185.4 295.7,1185.3 296.5,1185.2 297.4,1185.1 298.2,1185.0 299.1,1184.8 300.0,1184.7 300.8,1184.6 301.7,1184.5 302.6,1184.4 303.4,1184.3 304.3,1184.2 305.1,1184.1 306.0,1184.0 306.9,1183.8 307.7,1183.7 308.6,1183.6 309.5,1183.5 310.3,1183.4 311.2,1183.2 312.0,1183.1 312.9,1183.0 313.8,1182.8 314.6,1182.7 315.5,1182.6 316.4,1182.4 317.2,1182.3 318.1,1182.2 318.9,1182.0 319.8,1181.9 320.7,1181.7 321.5,1181.6 322.4,1181.5 323.3,1181.3 324.1,1181.2 325.0,1181.0 325.9,1180.8 326.7,1180.7 327.6,1180.5 328.4,1180.4 329.3,1180.2 330.2,1180.0 331.0,1179.9 331.9,1179.7 332.8,1179.5 333.6,1179.4 334.5,1179.2 335.3,1179.0 336.2,1178.8 337.1,1178.6 337.9,1178.5 338.8,1178.3 339.6,1178.1 340.5,1177.9 341.4,1177.7 342.2,1177.5 343.1,1177.3 344.0,1177.1 344.8,1176.9 345.7,1176.7 346.6,1176.5 347.4,1176.3 348.3,1176.1 349.1,1175.8 350.0,1175.6 350.9,1175.4 351.7,1175.2 352.6,1175.0 353.4,1174.7 354.3,1174.5 355.2,1174.3 356.0,1174.0 356.9,1173.8 357.8,1173.5 358.6,1173.3 359.5,1173.0 360.4,1172.8 361.2,1172.5 362.1,1172.2 362.9,1172.0 363.8,1171.7 364.7,1171.4 365.5,1171.2 366.4,1170.9 367.2,1170.6 368.1,1170.3 369.0,1170.0 369.8,1169.7 370.7,1169.4 371.6,1169.1 372.4,1168.8 373.3,1168.5 374.1,1168.2 375.0,1167.9 375.9,1167.6 376.7,1167.3 377.6,1166.9 378.5,1166.6 379.3,1166.3 380.2,1165.9 381.1,1165.6 381.9,1165.2 382.8,1164.9 383.6,1164.5 384.5,1164.2 385.4,1163.8 386.2,1163.4 387.1,1163.1 387.9,1162.7 388.8,1162.3 389.7,1161.9 390.5,1161.5 391.4,1161.1 392.3,1160.7 393.1,1160.3 394.0,1159.9 394.9,1159.4 395.7,1159.0 396.6,1158.6 397.4,1158.2 398.3,1157.7 399.2,1157.3 400.0,1156.8 400.9,1156.4 401.8,1155.9 402.6,1155.4 403.5,1154.9 404.3,1154.5 405.2,1154.0 406.1,1153.5 406.9,1153.0 407.8,1152.5 408.6,1152.0 409.5,1151.4 410.4,1150.9 411.2,1150.4 412.1,1149.8 413.0,1149.3 413.8,1148.8 414.7,1148.2 415.6,1147.6 416.4,1147.1 417.3,1146.5 418.1,1145.9 419.0,1145.3 419.9,1144.7 420.7,1144.1 421.6,1143.5 422.4,1142.9 423.3,1142.3 424.2,1141.7 425.0,1141.1 425.9,1140.5 426.8,1139.9 427.6,1139.3 428.5,1138.7 429.4,1138.2 430.2,1137.6 431.1,1137.1 431.9,1136.6 432.8,1136.1 432.9,1136.1 432.9,1136.1 433.0,1136.0 433.1,1136.0 433.1,1136.0 433.2,1135.9 433.3,1135.9 433.4,1135.9 433.4,1135.8 433.5,1135.8 433.6,1135.8 433.6,1135.8 433.7,1135.7 433.7,1135.7 433.8,1135.7 433.8,1135.7 433.9,1135.6 434.0,1135.6 434.0,1135.6 434.1,1135.6 434.2,1135.5 434.2,1135.5 434.3,1135.5 434.4,1135.5 434.5,1135.4 434.5,1135.4 434.6,1135.4 434.7,1135.4 434.7,1135.3 434.8,1135.3 434.9,1135.3 434.9,1135.3 435.0,1135.3 435.1,1135.2 435.1,1135.2 435.2,1135.2 435.3,1135.2 435.4,1135.2 435.4,1135.2 435.4,1135.2 435.5,1135.1 435.6,1135.1 435.6,1135.1 435.7,1135.1 435.8,1135.1 435.8,1135.1 435.9,1135.1 436.0,1135.0 436.0,1135.0 436.1,1135.0 436.2,1135.0 436.2,1135.0 436.3,1135.0 436.4,1135.0 436.5,1135.0 436.5,1135.0 436.6,1135.0 436.7,1135.0 436.7,1135.0 436.8,1135.0 436.9,1135.0 436.9,1135.0 437.0,1135.0 437.1,1135.0 437.1,1135.0 437.1,1135.0 437.2,1135.0 437.3,1135.0 437.4,1135.0 437.4,1135.0 437.5,1135.0 437.6,1135.0 437.6,1135.1 437.7,1135.1 437.8,1135.1 437.8,1135.1 437.9,1135.1 438.0,1135.1 438.0,1135.2 438.1,1135.2 438.2,1135.2 438.3,1135.2 438.3,1135.2 438.4,1135.3 438.5,1135.3 438.5,1135.3 438.6,1135.4 438.7,1135.4 438.7,1135.4 438.8,1135.5 438.8,1135.5 438.9,1135.5 438.9,1135.5 439.0,1135.6 439.1,1135.6 439.1,1135.7 439.2,1135.7 439.3,1135.7 439.4,1135.8 439.4,1135.8 439.5,1135.9 439.6,1135.9 439.6,1136.0 439.7,1136.1 439.8,1136.1 439.8,1136.2 439.9,1136.2 440.0,1136.3 440.0,1136.4 440.1,1136.4 440.2,1136.5 440.3,1136.6 440.3,1136.7 440.4,1136.7 440.5,1136.8 440.5,1136.9 440.6,1136.9 440.6,1137.0 440.7,1137.1 440.7,1137.2 440.8,1137.3 440.9,1137.3 440.9,1137.4 441.0,1137.5 441.1,1137.6 441.1,1137.7 441.2,1137.9 441.3,1138.0 441.4,1138.1 441.4,1138.2 441.5,1138.3 441.6,1138.4 441.6,1138.6 441.7,1138.7 441.8,1138.8 441.8,1139.0 441.9,1139.1 442.0,1139.2 442.0,1139.4 442.1,1139.5 442.2,1139.7 442.3,1139.8 442.3,1139.9 442.3,1140.0 442.4,1140.1 442.5,1140.3 442.5,1140.5 442.6,1140.6 442.7,1140.8 442.7,1141.0 442.8,1141.2 442.9,1141.4 442.9,1141.6 443.0,1141.8 443.1,1142.0 443.1,1142.2 443.2,1142.4 443.3,1142.6 443.4,1142.8 443.4,1143.0 443.5,1143.3 443.6,1143.5 443.6,1143.7 443.7,1144.0 443.8,1144.2 443.8,1144.5 443.9,1144.7 444.0,1145.0 444.0,1145.1 444.0,1145.2 444.1,1145.5 444.2,1145.8 444.3,1146.1 444.3,1146.4 444.4,1146.7 444.5,1147.0 444.5,1147.3 444.6,1147.6 444.7,1147.9 444.7,1148.2 444.8,1148.6 444.9,1148.9 444.9,1149.2 445.0,1149.6 445.1,1149.9 445.2,1150.3 445.2,1150.7 445.3,1151.1 445.4,1151.5 445.4,1151.8 445.5,1152.2 445.6,1152.7 445.6,1153.1 445.7,1153.5 445.7,1153.7 445.8,1153.9 445.8,1154.4 445.9,1154.8 446.0,1155.3 446.0,1155.7 446.1,1156.2 446.2,1156.7 446.3,1157.2 446.3,1157.7 446.4,1158.2 446.5,1158.7 446.5,1159.2 446.6,1159.8 446.7,1160.3 446.7,1160.9 446.8,1161.5 446.9,1162.0 446.9,1162.6 447.0,1163.2 447.1,1163.8 447.2,1164.5 447.2,1165.1 447.3,1165.7 447.4,1166.4 447.4,1167.1 447.5,1167.4 447.5,1167.7 447.6,1168.4 447.6,1169.1 447.7,1169.9 447.8,1170.6 447.8,1171.3 447.9,1172.1 448.0,1172.9 448.0,1173.6 448.1,1174.4 448.2,1175.3 448.3,1176.1 448.3,1176.9 448.4,1177.8 448.5,1178.6 448.5,1179.5 448.6,1180.4 448.7,1181.3 448.7,1182.3 448.8,1183.2 448.9,1184.2 448.9,1185.2 449.0,1186.2 449.1,1187.2 449.2,1188.2 449.2,1188.7 449.2,1189.3 449.3,1190.3 449.4,1191.4 449.4,1192.5 449.5,1193.7 449.6,1194.8 449.6,1196.0 449.7,1197.2 449.8,1198.4 449.8,1199.6 449.9,1200.8 450.0,1202.1 450.1,1203.4 450.1,1204.7 450.2,1206.1 450.3,1207.4 450.3,1208.8 450.4,1210.2 450.5,1211.6 450.5,1213.1 450.6,1214.6 450.7,1216.1 450.7,1217.6 450.8,1219.2 450.9,1220.7 450.9,1221.6 450.9,1222.4 451.0,1224.0 451.1,1225.7 451.2,1227.4 451.2,1229.1 451.3,1230.8 451.4,1232.6 451.4,1234.4 451.5,1236.3 451.6,1238.1 451.6,1240.0 451.7,1242.0 451.8,1243.9 451.8,1245.9 451.9,1248.0 452.0,1250.0 452.1,1252.2 452.1,1254.3 452.2,1256.5 452.3,1258.7 452.3,1260.9 452.4,1263.2 452.5,1265.5 452.5,1267.9 452.6,1270.3 452.6,1271.5 452.7,1272.8 452.7,1275.3 452.8,1277.8 452.9,1280.3 452.9,1283.0 453.0,1285.6 453.1,1288.3 453.2,1291.1 453.2,1293.9 453.3,1296.7 453.4,1299.6 453.4,1302.5 453.5,1305.5 453.6,1302.5 453.6,1299.6 453.7,1296.7 453.8,1293.9 453.8,1291.1 453.9,1288.3 454.0,1285.6 454.1,1283.0 454.1,1280.3 454.2,1277.8 454.3,1275.3 454.3,1272.8 454.4,1271.5 454.4,1270.3 454.5,1267.9 454.5,1265.5 454.6,1263.2 454.7,1260.9 454.7,1258.7 454.8,1256.5 454.9,1254.3 454.9,1252.2 455.0,1250.0 455.1,1248.0 455.2,1245.9 455.2,1243.9 455.3,1242.0 455.4,1240.0 455.4,1238.1 455.5,1236.3 455.6,1234.4 455.6,1232.6 455.7,1230.8 455.8,1229.1 455.8,1227.4 455.9,1225.7 456.0,1224.0 456.1,1222.4 456.1,1221.6 456.1,1220.7 456.2,1219.2 456.3,1217.6 456.3,1216.1 456.4,1214.6 456.5,1213.1 456.5,1211.6 456.6,1210.2 456.7,1208.8 456.7,1207.4 456.8,1206.1 456.9,1204.7 456.9,1203.4 457.0,1202.1 457.1,1200.8 457.2,1199.6 457.2,1198.4 457.3,1197.2 457.4,1196.0 457.4,1194.8 457.5,1193.7 457.6,1192.5 457.6,1191.4 457.7,1190.3 457.8,1189.3 457.8,1188.7 457.8,1188.2 457.9,1187.2 458.0,1186.2 458.1,1185.2 458.1,1184.2 458.2,1183.2 458.3,1182.3 458.3,1181.3 458.4,1180.4 458.5,1179.5 458.5,1178.6 458.6,1177.8 458.7,1176.9 458.7,1176.1 458.8,1175.3 458.9,1174.4 459.0,1173.6 459.0,1172.9 459.1,1172.1 459.2,1171.3 459.2,1170.6 459.3,1169.9 459.4,1169.1 459.4,1168.4 459.5,1167.7 459.5,1167.4 459.6,1167.1 459.6,1166.4 459.7,1165.7 459.8,1165.1 459.8,1164.5 459.9,1163.8 460.0,1163.2 460.1,1162.6 460.1,1162.0 460.2,1161.5 460.3,1160.9 460.3,1160.3 460.4,1159.8 460.5,1159.2 460.5,1158.7 460.6,1158.2 460.7,1157.7 460.7,1157.2 460.8,1156.7 460.9,1156.2 461.0,1155.7 461.0,1155.3 461.1,1154.8 461.2,1154.4 461.2,1153.9 461.3,1153.7 461.3,1153.5 461.4,1153.1 461.4,1152.7 461.5,1152.2 461.6,1151.8 461.6,1151.5 461.7,1151.1 461.8,1150.7 461.8,1150.3 461.9,1149.9 462.0,1149.6 462.1,1149.2 462.1,1148.9 462.2,1148.6 462.3,1148.2 462.3,1147.9 462.4,1147.6 462.5,1147.3 462.5,1147.0 462.6,1146.7 462.7,1146.4 462.7,1146.1 462.8,1145.8 462.9,1145.5 463.0,1145.2 463.0,1145.1 463.0,1145.0 463.1,1144.7 463.2,1144.5 463.2,1144.2 463.3,1144.0 463.4,1143.7 463.4,1143.5 463.5,1143.3 463.6,1143.0 463.6,1142.8 463.7,1142.6 463.8,1142.4 463.9,1142.2 463.9,1142.0 464.0,1141.8 464.1,1141.6 464.1,1141.4 464.2,1141.2 464.3,1141.0 464.3,1140.8 464.4,1140.6 464.5,1140.5 464.5,1140.3 464.6,1140.1 464.7,1140.0 464.7,1139.9 464.7,1139.8 464.8,1139.7 464.9,1139.5 465.0,1139.4 465.0,1139.2 465.1,1139.1 465.2,1139.0 465.2,1138.8 465.3,1138.7 465.4,1138.6 465.4,1138.4 465.5,1138.3 465.6,1138.2 465.6,1138.1 465.7,1138.0 465.8,1137.9 465.9,1137.7 465.9,1137.6 466.0,1137.5 466.1,1137.4 466.1,1137.3 466.2,1137.3 466.3,1137.2 466.3,1137.1 466.4,1137.0 466.4,1136.9 466.5,1136.9 466.5,1136.8 466.6,1136.7 466.7,1136.7 466.7,1136.6 466.8,1136.5 466.9,1136.4 467.0,1136.4 467.0,1136.3 467.1,1136.2 467.2,1136.2 467.2,1136.1 467.3,1136.1 467.4,1136.0 467.4,1135.9 467.5,1135.9 467.6,1135.8 467.6,1135.8 467.7,1135.7 467.8,1135.7 467.9,1135.7 467.9,1135.6 468.0,1135.6 468.1,1135.5 468.1,1135.5 468.2,1135.5 468.2,1135.5 468.3,1135.4 468.3,1135.4 468.4,1135.4 468.5,1135.3 468.5,1135.3 468.6,1135.3 468.7,1135.2 468.7,1135.2 468.8,1135.2 468.9,1135.2 469.0,1135.2 469.0,1135.1 469.1,1135.1 469.2,1135.1 469.2,1135.1 469.3,1135.1 469.4,1135.1 469.4,1135.0 469.5,1135.0 469.6,1135.0 469.6,1135.0 469.7,1135.0 469.8,1135.0 469.9,1135.0 469.9,1135.0 469.9,1135.0 470.0,1135.0 470.1,1135.0 470.1,1135.0 470.2,1135.0 470.3,1135.0 470.3,1135.0 470.4,1135.0 470.5,1135.0 470.5,1135.0 470.6,1135.0 470.7,1135.0 470.8,1135.0 470.8,1135.0 470.9,1135.0 471.0,1135.0 471.0,1135.0 471.1,1135.1 471.2,1135.1 471.2,1135.1 471.3,1135.1 471.4,1135.1 471.4,1135.1 471.5,1135.1 471.6,1135.2 471.6,1135.2 471.6,1135.2 471.7,1135.2 471.8,1135.2 471.9,1135.2 471.9,1135.2 472.0,1135.3 472.1,1135.3 472.1,1135.3 472.2,1135.3 472.3,1135.3 472.3,1135.4 472.4,1135.4 472.5,1135.4 472.5,1135.4 472.6,1135.5 472.7,1135.5 472.8,1135.5 472.8,1135.5 472.9,1135.6 473.0,1135.6 473.0,1135.6 473.1,1135.6 473.2,1135.7 473.2,1135.7 473.3,1135.7 473.3,1135.7 473.4,1135.8 473.4,1135.8 473.5,1135.8 473.6,1135.8 473.6,1135.9 473.7,1135.9 473.8,1135.9 473.9,1136.0 473.9,1136.0 474.0,1136.0 474.1,1136.1 474.1,1136.1 474.2,1136.1 475.1,1136.6 475.9,1137.1 476.8,1137.6 477.6,1138.2 478.5,1138.7 479.4,1139.3 480.2,1139.9 481.1,1140.5 482.0,1141.1 482.8,1141.7 483.7,1142.3 484.6,1142.9 485.4,1143.5 486.3,1144.1 487.1,1144.7 488.0,1145.3 488.9,1145.9 489.7,1146.5 490.6,1147.1 491.4,1147.6 492.3,1148.2 493.2,1148.8 494.0,1149.3 494.9,1149.8 495.8,1150.4 496.6,1150.9 497.5,1151.4 498.4,1152.0 499.2,1152.5 500.1,1153.0 500.9,1153.5 501.8,1154.0 502.7,1154.5 503.5,1154.9 504.4,1155.4 505.2,1155.9 506.1,1156.4 507.0,1156.8 507.8,1157.3 508.7,1157.7 509.6,1158.2 510.4,1158.6 511.3,1159.0 512.1,1159.4 513.0,1159.9 513.9,1160.3 514.7,1160.7 515.6,1161.1 516.5,1161.5 517.3,1161.9 518.2,1162.3 519.0,1162.7 519.9,1163.1 520.8,1163.4 521.6,1163.8 522.5,1164.2 523.4,1164.5 524.2,1164.9 525.1,1165.2 526.0,1165.6 526.8,1165.9 527.7,1166.3 528.5,1166.6 529.4,1166.9 530.3,1167.3 531.1,1167.6 532.0,1167.9 532.9,1168.2 533.7,1168.5 534.6,1168.8 535.4,1169.1 536.3,1169.4 537.2,1169.7 538.0,1170.0 538.9,1170.3 539.8,1170.6 540.6,1170.9 541.5,1171.2 542.3,1171.4 543.2,1171.7 544.1,1172.0 544.9,1172.2 545.8,1172.5 546.6,1172.8 547.5,1173.0 548.4,1173.3 549.2,1173.5 550.1,1173.8 551.0,1174.0 551.8,1174.3 552.7,1174.5 553.5,1174.7 554.4,1175.0 555.3,1175.2 556.1,1175.4 557.0,1175.6 557.9,1175.8 558.7,1176.1 559.6,1176.3 560.5,1176.5 561.3,1176.7 562.2,1176.9 563.0,1177.1 563.9,1177.3 564.8,1177.5 565.6,1177.7 566.5,1177.9 567.4,1178.1 568.2,1178.3 569.1,1178.5 569.9,1178.6 570.8,1178.8 571.7,1179.0 572.5,1179.2 573.4,1179.4 574.2,1179.5 575.1,1179.7 576.0,1179.9 576.8,1180.0 577.7,1180.2 578.6,1180.4 579.4,1180.5 580.3,1180.7 581.1,1180.8 582.0,1181.0 582.9,1181.2 583.7,1181.3 584.6,1181.5 585.5,1181.6 586.3,1181.7 587.2,1181.9 588.0,1182.0 588.9,1182.2 589.8,1182.3 590.6,1182.4 591.5,1182.6 592.4,1182.7 593.2,1182.8 594.1,1183.0 595.0,1183.1 595.8,1183.2 596.7,1183.4 597.5,1183.5 598.4,1183.6 599.3,1183.7 600.1,1183.8 601.0,1184.0 601.9,1184.1 602.7,1184.2 603.6,1184.3 604.4,1184.4 605.3,1184.5 606.2,1184.6 607.0,1184.7 607.9,1184.8 608.8,1185.0 609.6,1185.1 610.5,1185.2 611.3,1185.3 612.2,1185.4 613.1,1185.5 613.9,1185.6 614.8,1185.7 615.6,1185.7 616.5,1185.8 617.4,1185.9 618.2,1186.0 619.1,1186.1 620.0,1186.2 620.8,1186.3 621.7,1186.4 622.5,1186.5 623.4,1186.6 624.3,1186.6 625.1,1186.7 626.0,1186.8 626.9,1186.9 627.7,1187.0 628.6,1187.0 629.5,1187.1 630.3,1187.2 631.2,1187.3 632.0,1187.3 632.9,1187.4 633.8,1187.5 634.6,1187.6 635.5,1187.6 636.4,1187.7 637.2,1187.8 638.1,1187.8 638.9,1187.9 639.8,1188.0 640.7,1188.0 641.5,1188.1 642.4,1188.2 643.2,1188.2 644.1,1188.3 645.0,1188.4 645.8,1188.4 646.7,1188.5 647.6,1188.5 648.4,1188.6 649.3,1188.7 650.1,1188.7 651.0,1188.8 651.9,1188.8 652.7,1188.9 653.6,1188.9 654.5,1189.0 655.3,1189.0 656.2,1189.1 657.0,1189.2 657.9,1189.2 658.8,1189.3 659.6,1189.3 660.5,1189.4 661.4,1189.4 662.2,1189.5 663.1,1189.5 664.0,1189.5 664.8,1189.6 665.7,1189.6 666.5,1189.7 667.4,1189.7 668.3,1189.8 669.1,1189.8 670.0,1189.9 670.9,1189.9 671.7,1189.9 672.6,1190.0 673.4,1190.0 674.3,1190.1 675.2,1190.1 676.0,1190.2 676.9,1190.2 677.8,1190.2 678.6,1190.3 679.5,1190.3 680.3,1190.3 681.2,1190.4 682.1,1190.4 682.9,1190.5 683.8,1190.5 684.6,1190.5 685.5,1190.6 686.4,1190.6 687.2,1190.6 688.1,1190.7 689.0,1190.7 689.8,1190.7 690.7,1190.8 691.5,1190.8 692.4,1190.8 693.3,1190.8 694.1,1190.9 695.0,1190.9 695.9,1190.9 696.7,1191.0 697.6,1191.0 698.5,1191.0 699.3,1191.1 700.2,1191.1 701.0,1191.1 701.9,1191.1 702.8,1191.2 703.6,1191.2 704.5,1191.2 705.4,1191.2 706.2,1191.3 707.1,1191.3 707.9,1191.3 708.8,1191.3 709.7,1191.4 710.5,1191.4 711.4,1191.4 712.2,1191.4 713.1,1191.5 714.0,1191.5 714.8,1191.5 715.7,1191.5 716.6,1191.6 717.4,1191.6 718.3,1191.6 719.2,1191.6 720.0,1191.6 720.9,1191.7 721.7,1191.7 722.6,1191.7 723.5,1191.7 724.3,1191.7 725.2,1191.8 726.0,1191.8 726.9,1191.8 727.8,1191.8 728.6,1191.8 729.5,1191.8 730.4,1191.9 731.2,1191.9 732.1,1191.9 733.0,1191.9 733.8,1191.9 734.7,1192.0 735.5,1192.0 736.4,1192.0 737.3,1192.0 738.1,1192.0 739.0,1192.0 739.9,1192.1 740.7,1192.1 741.6,1192.1 742.4,1192.1 743.3,1192.1 744.2,1192.1 745.0,1192.1 745.9,1192.2 746.8,1192.2 747.6,1192.2 748.5,1192.2 749.3,1192.2 750.2,1192.2 751.1,1192.2 751.9,1192.3 752.8,1192.3 753.7,1192.3 754.5,1192.3 755.4,1192.3 756.2,1192.3 757.1,1192.3 758.0,1192.3 758.8,1192.4 759.7,1192.4 760.5,1192.4 761.4,1192.4 762.3,1192.4 763.1,1192.4 764.0,1192.4 764.9,1192.4 765.7,1192.4 766.6,1192.5 767.5,1192.5 768.3,1192.5 769.2,1192.5 770.0,1192.5 770.9,1192.5 771.8,1192.5 772.6,1192.5 773.5,1192.5 774.4,1192.5 775.2,1192.6 776.1,1192.6 776.9,1192.6 777.8,1192.6 778.7,1192.6 779.5,1192.6 780.4,1192.6 781.2,1192.6 782.1,1192.6 783.0,1192.6 783.8,1192.6 784.7,1192.6 785.6,1192.7 786.4,1192.7 787.3,1192.7 788.2,1192.7 789.0,1192.7 789.9,1192.7 790.7,1192.7 791.6,1192.7 792.5,1192.7 793.3,1192.7 794.2,1192.7 795.0,1192.7 795.9,1192.7 796.8,1192.8 797.6,1192.8 798.5,1192.8" fill="none" stroke="#3a3a3a" stroke-width="1.3" stroke-opacity="0.8" stroke-linejoin="round"/>
<polyline points="436.3,1135.0 436.4,1135.0 436.5,1135.0 436.5,1135.0 436.6,1135.0 436.7,1135.0 436.7,1135.0 436.8,1135.0 436.9,1135.0 436.9,1135.0 437.0,1135.0 437.1,1135.0 437.1,1135.0 437.1,1135.0 437.2,1135.0 437.3,1135.0 437.4,1135.0 437.4,1135.0 437.5,1135.0 437.6,1135.0 437.6,1135.1 437.7,1135.1 437.8,1135.1 437.8,1135.1 437.9,1135.1 438.0,1135.1 438.0,1135.2 438.1,1135.2 438.2,1135.2 438.3,1135.2 438.3,1135.2 438.4,1135.3 438.5,1135.3 438.5,1135.3 438.6,1135.4 438.7,1135.4 438.7,1135.4 438.8,1135.5 438.8,1135.5 438.9,1135.5 438.9,1135.5 439.0,1135.6 439.1,1135.6 439.1,1135.7 439.2,1135.7 439.3,1135.7 439.4,1135.8 439.4,1135.8 439.5,1135.9 439.6,1135.9 439.6,1136.0 439.7,1136.1 439.8,1136.1 439.8,1136.2 439.9,1136.2 440.0,1136.3 440.0,1136.4 440.1,1136.4 440.2,1136.5 440.3,1136.6 440.3,1136.7 440.4,1136.7 440.5,1136.8 440.5,1136.9 440.6,1136.9 440.6,1137.0 440.7,1137.1 440.7,1137.2 440.8,1137.3 440.9,1137.3 440.9,1137.4 441.0,1137.5 441.1,1137.6 441.1,1137.7 441.2,1137.9 441.3,1138.0 441.4,1138.1 441.4,1138.2 441.5,1138.3 441.6,1138.4 441.6,1138.6 441.7,1138.7 441.8,1138.8 441.8,1139.0 441.9,1139.1 442.0,1139.2 442.0,1139.4 442.1,1139.5 442.2,1139.7 442.3,1139.8 442.3,1139.9 442.3,1140.0 442.4,1140.1 442.5,1140.3 442.5,1140.5 442.6,1140.6 442.7,1140.8 442.7,1141.0 442.8,1141.2 442.9,1141.4 442.9,1141.6 443.0,1141.8 443.1,1142.0 443.1,1142.2 443.2,1142.4 443.3,1142.6 443.4,1142.8 443.4,1143.0 443.5,1143.3 443.6,1143.5 443.6,1143.7 443.7,1144.0 443.8,1144.2 443.8,1144.5 443.9,1144.7 444.0,1145.0 444.0,1145.1 444.0,1145.2 444.1,1145.5 444.2,1145.8 444.3,1146.1 444.3,1146.4 444.4,1146.7 444.5,1147.0 444.5,1147.3 444.6,1147.6 444.7,1147.9 444.7,1148.2 444.8,1148.6 444.9,1148.9 444.9,1149.2 445.0,1149.6 445.1,1149.9 445.2,1150.3 445.2,1150.7 445.3,1151.1 445.4,1151.5 445.4,1151.8 445.5,1152.2 445.6,1152.7 445.6,1153.1 445.7,1153.5 445.7,1153.7 445.8,1153.9 445.8,1154.4 445.9,1154.8 446.0,1155.3 446.0,1155.7 446.1,1156.2 446.2,1156.7 446.3,1157.2 446.3,1157.7 446.4,1158.2 446.5,1158.7 446.5,1159.2 446.6,1159.8 446.7,1160.3 446.7,1160.9 446.8,1161.5 446.9,1162.0 446.9,1162.6 447.0,1163.2 447.1,1163.8 447.2,1164.5 447.2,1165.1 447.3,1165.7 447.4,1166.4 447.4,1167.1 447.5,1167.4 447.5,1167.7 447.6,1168.4 447.6,1169.1 447.7,1169.9 447.8,1170.6 447.8,1171.3 447.9,1172.1 448.0,1172.9 448.0,1173.6 448.1,1174.4 448.2,1175.3 448.3,1176.1 448.3,1176.9 448.4,1177.8 448.5,1178.6 448.5,1179.5 448.6,1180.4 448.7,1181.3 448.7,1182.3 448.8,1183.2 448.9,1184.2 448.9,1185.2 449.0,1186.2 449.1,1187.2 449.2,1188.2 449.2,1188.7 449.2,1189.3 449.3,1190.3 449.4,1191.4 449.4,1192.5 449.5,1193.7 449.6,1194.8 449.6,1196.0 449.7,1197.2 449.8,1198.4 449.8,1199.6 449.9,1200.8 450.0,1202.1 450.1,1203.4 450.1,1204.7 450.2,1206.1 450.3,1207.4 450.3,1208.8 450.4,1210.2 450.5,1211.6 450.5,1213.1 450.6,1214.6 450.7,1216.1 450.7,1217.6 450.8,1219.2 450.9,1220.7 450.9,1221.6 450.9,1222.4 451.0,1224.0 451.1,1225.7 451.2,1227.4 451.2,1229.1 451.3,1230.8 451.4,1232.6 451.4,1234.4 451.5,1236.3 451.6,1238.1 451.6,1240.0 451.7,1242.0 451.8,1243.9 451.8,1245.9 451.9,1248.0 452.0,1250.0 452.1,1252.2 452.1,1254.3 452.2,1256.5 452.3,1258.7 452.3,1260.9 452.4,1263.2 452.5,1265.5 452.5,1267.9 452.6,1270.3 452.6,1271.5 452.7,1272.8 452.7,1275.3 452.8,1277.8 452.9,1280.3 452.9,1283.0 453.0,1285.6 453.1,1288.3 453.2,1291.1 453.2,1293.9 453.3,1296.7 453.4,1299.6 453.4,1302.5 453.5,1305.5 453.6,1302.5 453.6,1299.6 453.7,1296.7 453.8,1293.9 453.8,1291.1 453.9,1288.3 454.0,1285.6 454.1,1283.0 454.1,1280.3 454.2,1277.8 454.3,1275.3 454.3,1272.8 454.4,1271.5 454.4,1270.3 454.5,1267.9 454.5,1265.5 454.6,1263.2 454.7,1260.9 454.7,1258.7 454.8,1256.5 454.9,1254.3 454.9,1252.2 455.0,1250.0 455.1,1248.0 455.2,1245.9 455.2,1243.9 455.3,1242.0 455.4,1240.0 455.4,1238.1 455.5,1236.3 455.6,1234.4 455.6,1232.6 455.7,1230.8 455.8,1229.1 455.8,1227.4 455.9,1225.7 456.0,1224.0 456.1,1222.4 456.1,1221.6 456.1,1220.7 456.2,1219.2 456.3,1217.6 456.3,1216.1 456.4,1214.6 456.5,1213.1 456.5,1211.6 456.6,1210.2 456.7,1208.8 456.7,1207.4 456.8,1206.1 456.9,1204.7 456.9,1203.4 457.0,1202.1 457.1,1200.8 457.2,1199.6 457.2,1198.4 457.3,1197.2 457.4,1196.0 457.4,1194.8 457.5,1193.7 457.6,1192.5 457.6,1191.4 457.7,1190.3 457.8,1189.3 457.8,1188.7 457.8,1188.2 457.9,1187.2 458.0,1186.2 458.1,1185.2 458.1,1184.2 458.2,1183.2 458.3,1182.3 458.3,1181.3 458.4,1180.4 458.5,1179.5 458.5,1178.6 458.6,1177.8 458.7,1176.9 458.7,1176.1 458.8,1175.3 458.9,1174.4 459.0,1173.6 459.0,1172.9 459.1,1172.1 459.2,1171.3 459.2,1170.6 459.3,1169.9 459.4,1169.1 459.4,1168.4 459.5,1167.7 459.5,1167.4 459.6,1167.1 459.6,1166.4 459.7,1165.7 459.8,1165.1 459.8,1164.5 459.9,1163.8 460.0,1163.2 460.1,1162.6 460.1,1162.0 460.2,1161.5 460.3,1160.9 460.3,1160.3 460.4,1159.8 460.5,1159.2 460.5,1158.7 460.6,1158.2 460.7,1157.7 460.7,1157.2 460.8,1156.7 460.9,1156.2 461.0,1155.7 461.0,1155.3 461.1,1154.8 461.2,1154.4 461.2,1153.9 461.3,1153.7 461.3,1153.5 461.4,1153.1 461.4,1152.7 461.5,1152.2 461.6,1151.8 461.6,1151.5 461.7,1151.1 461.8,1150.7 461.8,1150.3 461.9,1149.9 462.0,1149.6 462.1,1149.2 462.1,1148.9 462.2,1148.6 462.3,1148.2 462.3,1147.9 462.4,1147.6 462.5,1147.3 462.5,1147.0 462.6,1146.7 462.7,1146.4 462.7,1146.1 462.8,1145.8 462.9,1145.5 463.0,1145.2 463.0,1145.1 463.0,1145.0 463.1,1144.7 463.2,1144.5 463.2,1144.2 463.3,1144.0 463.4,1143.7 463.4,1143.5 463.5,1143.3 463.6,1143.0 463.6,1142.8 463.7,1142.6 463.8,1142.4 463.9,1142.2 463.9,1142.0 464.0,1141.8 464.1,1141.6 464.1,1141.4 464.2,1141.2 464.3,1141.0 464.3,1140.8 464.4,1140.6 464.5,1140.5 464.5,1140.3 464.6,1140.1 464.7,1140.0 464.7,1139.9 464.7,1139.8 464.8,1139.7 464.9,1139.5 465.0,1139.4 465.0,1139.2 465.1,1139.1 465.2,1139.0 465.2,1138.8 465.3,1138.7 465.4,1138.6 465.4,1138.4 465.5,1138.3 465.6,1138.2 465.6,1138.1 465.7,1138.0 465.8,1137.9 465.9,1137.7 465.9,1137.6 466.0,1137.5 466.1,1137.4 466.1,1137.3 466.2,1137.3 466.3,1137.2 466.3,1137.1 466.4,1137.0 466.4,1136.9 466.5,1136.9 466.5,1136.8 466.6,1136.7 466.7,1136.7 466.7,1136.6 466.8,1136.5 466.9,1136.4 467.0,1136.4 467.0,1136.3 467.1,1136.2 467.2,1136.2 467.2,1136.1 467.3,1136.1 467.4,1136.0 467.4,1135.9 467.5,1135.9 467.6,1135.8 467.6,1135.8 467.7,1135.7 467.8,1135.7 467.9,1135.7 467.9,1135.6 468.0,1135.6 468.1,1135.5 468.1,1135.5 468.2,1135.5 468.2,1135.5 468.3,1135.4 468.3,1135.4 468.4,1135.4 468.5,1135.3 468.5,1135.3 468.6,1135.3 468.7,1135.2 468.7,1135.2 468.8,1135.2 468.9,1135.2 469.0,1135.2 469.0,1135.1 469.1,1135.1 469.2,1135.1 469.2,1135.1 469.3,1135.1 469.4,1135.1 469.4,1135.0 469.5,1135.0 469.6,1135.0 469.6,1135.0 469.7,1135.0 469.8,1135.0 469.9,1135.0 469.9,1135.0 469.9,1135.0 470.0,1135.0 470.1,1135.0 470.1,1135.0 470.2,1135.0 470.3,1135.0 470.3,1135.0 470.4,1135.0 470.5,1135.0 470.5,1135.0 470.6,1135.0 470.7,1135.0" fill="none" stroke="#e06a70" stroke-width="1.3" stroke-linejoin="round"/>
<polyline points="108.5,1387.4 109.1,1453.5 109.7,1410.7 110.4,1424.9 111.0,1423.2 111.6,1419.8 112.2,1445.7 112.8,1420.0 113.5,1429.1 114.1,1368.9 114.7,1413.4 115.3,1421.7 116.0,1420.7 116.6,1426.2 117.2,1431.8 117.8,1422.2 118.4,1409.7 119.1,1420.0 119.7,1402.8 120.3,1419.5 120.9,1416.2 121.5,1394.3 122.2,1408.7 122.8,1423.8 123.4,1419.2 124.0,1408.8 124.6,1388.7 125.3,1420.4 125.9,1420.0 126.5,1402.1 127.1,1429.3 127.8,1420.7 128.4,1403.8 129.0,1408.1 129.6,1415.2 130.2,1406.8 130.9,1457.2 131.5,1401.7 132.1,1430.3 132.7,1440.5 133.3,1412.4 134.0,1406.3 134.6,1422.8 135.2,1431.9 135.8,1416.0 136.4,1417.1 137.1,1396.1 137.7,1405.6 138.3,1413.6 138.9,1400.3 139.6,1419.3 140.2,1429.7 140.8,1407.9 141.4,1407.9 142.0,1419.4 142.7,1427.6 143.3,1413.0 143.9,1452.2 144.5,1406.3 145.1,1409.2 145.8,1439.9 146.4,1415.4 147.0,1430.1 147.6,1405.3 148.2,1445.5 148.9,1429.4 149.5,1406.0 150.1,1399.5 150.7,1447.3 151.3,1423.3 152.0,1411.4 152.6,1424.9 153.2,1393.2 153.8,1433.3 154.5,1411.0 155.1,1431.2 155.7,1395.8 156.3,1416.4 156.9,1421.4 157.6,1440.8 158.2,1391.8 158.8,1405.2 159.4,1405.2 160.0,1399.6 160.7,1411.0 161.3,1425.2 161.9,1427.5 162.5,1427.5 163.1,1396.2 163.8,1437.0 164.4,1424.5 165.0,1420.6 165.6,1412.7 166.3,1407.6 166.9,1433.9 167.5,1440.9 168.1,1415.9 168.7,1398.3 169.4,1404.9 170.0,1412.7 170.6,1420.4 171.2,1411.6 171.8,1419.3 172.5,1404.0 173.1,1427.3 173.7,1413.8 174.3,1417.4 174.9,1407.9 175.6,1412.5 176.2,1378.9 176.8,1394.1 177.4,1394.1 178.1,1445.2 178.7,1420.6 179.3,1424.5 179.9,1408.0 180.5,1448.6 181.2,1398.7 181.8,1400.2 182.4,1434.4 183.0,1429.7 183.6,1427.2 184.3,1414.9 184.9,1406.3 185.5,1385.9 186.1,1418.4 186.7,1404.4 187.4,1413.2 188.0,1390.0 188.6,1404.7 189.2,1395.7 189.9,1431.0 190.5,1418.2 191.1,1427.2 191.7,1393.6 192.3,1405.9 193.0,1419.8 193.6,1421.9 194.2,1408.3 194.8,1425.5 195.4,1428.8 196.1,1408.3 196.7,1379.6 197.3,1418.8 197.9,1423.3 198.5,1432.2 199.2,1434.6 199.8,1407.6 200.4,1402.9 201.0,1415.1 201.7,1410.4 202.3,1413.5 202.9,1413.1 203.5,1437.2 204.1,1421.7 204.8,1413.5 205.4,1426.4 206.0,1422.0 206.6,1426.9 207.2,1419.9 207.9,1402.7 208.5,1420.9 209.1,1417.2 209.7,1403.2 210.3,1405.6 211.0,1390.4 211.6,1445.2 212.2,1402.5 212.8,1421.9 213.4,1412.9 214.1,1402.7 214.7,1399.1 215.3,1399.7 215.9,1412.6 216.6,1391.4 217.2,1418.9 217.8,1416.8 218.4,1403.1 219.0,1422.7 219.7,1383.3 220.3,1399.9 220.9,1383.1 221.5,1415.0 222.1,1420.2 222.8,1412.2 223.4,1403.9 224.0,1423.1 224.6,1409.0 225.2,1414.8 225.9,1391.1 226.5,1424.1 227.1,1399.3 227.7,1423.8 228.4,1428.4 229.0,1424.8 229.6,1431.7 230.2,1412.3 230.8,1399.4 231.5,1412.0 232.1,1405.3 232.7,1390.6 233.3,1410.4 233.9,1411.4 234.6,1418.3 235.2,1437.6 235.8,1403.2 236.4,1439.7 237.0,1404.7 237.7,1414.4 238.3,1397.7 238.9,1415.1 239.5,1426.1 240.2,1408.9 240.8,1422.2 241.4,1416.7 242.0,1413.4 242.6,1415.9 243.3,1416.7 243.9,1426.1 244.5,1416.7 245.1,1445.0 245.7,1416.2 246.4,1431.3 247.0,1397.5 247.6,1395.3 248.2,1442.2 248.8,1411.7 249.5,1415.6 250.1,1429.0 250.7,1406.0 251.3,1420.4 252.0,1439.4 252.6,1417.5 253.2,1415.8 253.8,1412.0 254.4,1431.5 255.1,1404.6 255.7,1402.8 256.3,1430.2 256.9,1423.1 257.5,1414.6 258.2,1421.7 258.8,1387.9 259.4,1410.3 260.0,1428.1 260.6,1424.8 261.3,1414.1 261.9,1379.7 262.5,1415.9 263.1,1411.4 263.8,1405.7 264.4,1413.8 265.0,1379.8 265.6,1420.9 266.2,1402.2 266.9,1410.7 267.5,1404.0 268.1,1430.2 268.7,1387.1 269.3,1414.7 270.0,1412.4 270.6,1426.6 271.2,1423.6 271.8,1404.6 272.4,1398.4 273.1,1401.8 273.7,1395.1 274.3,1402.3 274.9,1412.3 275.5,1400.4 276.2,1404.0 276.8,1414.1 277.4,1402.0 278.0,1393.7 278.7,1409.1 279.3,1417.7 279.9,1402.0 280.5,1384.6 281.1,1415.5 281.8,1413.8 282.4,1414.4 283.0,1394.4 283.6,1439.3 284.2,1406.9 284.9,1394.8 285.5,1424.2 286.1,1390.3 286.7,1404.3 287.3,1420.2 288.0,1409.1 288.6,1434.6 289.2,1420.3 289.8,1385.2 290.5,1425.1 291.1,1384.8 291.7,1413.1 292.3,1397.3 292.9,1411.2 293.6,1444.8 294.2,1420.2 294.8,1409.0 295.4,1428.6 296.0,1431.5 296.7,1406.3 297.3,1421.2 297.9,1436.5 298.5,1421.6 299.1,1398.8 299.8,1418.4 300.4,1397.7 301.0,1388.9 301.6,1410.9 302.3,1428.0 302.9,1430.5 303.5,1411.6 304.1,1398.2 304.7,1407.2 305.4,1403.1 306.0,1417.7 306.6,1406.7 307.2,1418.0 307.8,1415.8 308.5,1430.0 309.1,1434.1 309.7,1418.0 310.3,1427.2 310.9,1425.0 311.6,1400.9 312.2,1412.3 312.8,1367.7 313.4,1397.0 314.1,1420.0 314.7,1399.1 315.3,1405.3 315.9,1420.6 316.5,1394.2 317.2,1421.9 317.8,1455.6 318.4,1398.6 319.0,1419.4 319.6,1388.3 320.3,1419.8 320.9,1427.7 321.5,1387.2 322.1,1426.0 322.7,1407.0 323.4,1388.5 324.0,1408.3 324.6,1411.1 325.2,1408.4 325.9,1397.4 326.5,1421.8 327.1,1400.7 327.7,1401.2 328.3,1375.1 329.0,1414.6 329.6,1423.2 330.2,1398.6 330.8,1415.4 331.4,1405.2 332.1,1407.4 332.7,1392.0 333.3,1419.1 333.9,1410.6 334.5,1447.1 335.2,1422.4 335.8,1386.3 336.4,1419.2 337.0,1419.5 337.6,1427.1 338.3,1400.3 338.9,1406.2 339.5,1426.5 340.1,1398.9 340.8,1404.9 341.4,1397.5 342.0,1418.2 342.6,1382.7 343.2,1402.4 343.9,1410.2 344.5,1416.2 345.1,1412.0 345.7,1395.5 346.3,1412.3 347.0,1392.2 347.6,1399.5 348.2,1388.0 348.8,1395.9 349.4,1409.0 350.1,1436.5 350.7,1403.5 351.3,1396.1 351.9,1405.4 352.6,1399.4 353.2,1414.8 353.8,1413.3 354.4,1421.7 355.0,1387.2 355.7,1405.1 356.3,1414.8 356.9,1427.3 357.5,1409.6 358.1,1385.7 358.8,1400.3 359.4,1418.0 360.0,1385.7 360.6,1385.6 361.2,1392.3 361.9,1395.1 362.5,1389.5 363.1,1398.6 363.7,1395.1 364.4,1418.4 365.0,1384.1 365.6,1403.1 366.2,1376.1 366.8,1437.1 367.5,1395.8 368.1,1391.6 368.7,1411.4 369.3,1399.4 369.9,1394.9 370.6,1397.4 371.2,1414.1 371.8,1408.1 372.4,1390.5 373.0,1386.6 373.7,1404.3 374.3,1404.5 374.9,1402.6 375.5,1389.9 376.2,1421.4 376.8,1425.5 377.4,1403.5 378.0,1422.0 378.6,1414.1 379.3,1403.8 379.9,1397.8 380.5,1421.2 381.1,1392.8 381.7,1431.7 382.4,1396.6 383.0,1428.6 383.6,1424.0 384.2,1394.9 384.8,1410.7 385.5,1416.5 386.1,1411.1 386.7,1397.3 387.3,1405.1 388.0,1404.6 388.6,1388.1 389.2,1414.9 389.8,1411.1 390.4,1411.8 391.1,1386.0 391.7,1388.6 392.3,1384.1 392.9,1404.1 393.5,1405.9 394.2,1390.4 394.8,1409.3 395.4,1390.6 396.0,1392.1 396.6,1413.7 397.3,1404.3 397.9,1404.8 398.5,1376.4 399.1,1363.3 399.7,1404.2 400.4,1402.4 401.0,1437.4 401.6,1399.2 402.2,1402.5 402.9,1418.7 403.5,1390.2 404.1,1426.1 404.7,1405.4 405.3,1399.9 406.0,1421.0 406.6,1388.7 407.2,1385.6 407.8,1422.9 408.4,1423.2 409.1,1392.3 409.7,1401.9 410.3,1419.9 410.9,1405.8 411.5,1402.8 412.2,1403.3 412.8,1388.3 413.4,1395.0 414.0,1373.7 414.7,1379.7 415.3,1390.3 415.9,1384.1 416.5,1380.2 417.1,1389.7 417.8,1419.3 418.4,1387.2 419.0,1399.2 419.6,1375.4 420.2,1398.8 420.9,1392.1 421.5,1395.1 422.1,1374.2 422.7,1397.4 423.3,1404.2 424.0,1395.3 424.6,1406.9 425.2,1397.6 425.8,1400.2 426.5,1396.0 427.1,1370.6 427.7,1406.5 428.3,1399.8 428.9,1403.5 429.6,1390.2 430.2,1418.9 430.8,1411.6 431.4,1401.8 432.0,1393.0 432.7,1402.4 433.3,1409.7 433.9,1415.7 434.5,1395.0 435.1,1381.4 435.8,1399.0 436.4,1401.7 437.0,1398.6 437.6,1420.3 438.3,1411.7 438.9,1412.0 439.5,1404.8 440.1,1411.0 440.7,1429.8 441.4,1397.2 442.0,1390.9 442.6,1421.2 443.2,1414.1 443.8,1418.5 444.5,1414.3 445.1,1448.5 445.7,1410.3 446.3,1441.9 446.9,1424.1 447.6,1444.2 448.2,1455.3 448.8,1458.4 449.4,1453.7 450.1,1479.9 450.7,1482.6 451.3,1491.6" fill="none" stroke="#a8a8a8" stroke-width="1.2" stroke-linejoin="round"/>
<polyline points="455.6,1489.0 456.3,1463.7 456.9,1461.8 457.5,1488.5 458.1,1495.6 458.7,1463.7 459.4,1432.6 460.0,1446.8 460.6,1439.1 461.2,1424.2 461.8,1440.7 462.5,1422.5 463.1,1411.5 463.7,1413.4 464.3,1412.0 465.0,1424.3 465.6,1406.3 466.2,1418.4 466.8,1391.4 467.4,1371.1 468.1,1419.2 468.7,1439.7 469.3,1412.6 469.9,1399.7 470.5,1388.7 471.2,1387.6 471.8,1415.3 472.4,1415.0 473.0,1383.1 473.6,1418.8 474.3,1385.0 474.9,1404.9 475.5,1389.4 476.1,1390.1 476.8,1388.8 477.4,1388.0 478.0,1415.7 478.6,1395.8 479.2,1400.1 479.9,1395.5 480.5,1381.1 481.1,1404.3 481.7,1411.1 482.3,1411.3 483.0,1404.9 483.6,1388.5 484.2,1412.7 484.8,1382.3 485.4,1395.7 486.1,1403.7 486.7,1420.8 487.3,1396.5 487.9,1389.7 488.6,1427.6 489.2,1382.1 489.8,1375.2 490.4,1395.4 491.0,1393.1 491.7,1363.6 492.3,1381.9 492.9,1414.7 493.5,1401.2 494.1,1403.4 494.8,1403.4 495.4,1437.5 496.0,1389.6 496.6,1411.1 497.2,1398.9 497.9,1403.6 498.5,1388.2 499.1,1406.2 499.7,1413.9 500.4,1393.7 501.0,1380.4 501.6,1406.9 502.2,1381.1 502.8,1398.1 503.5,1410.4 504.1,1379.0 504.7,1414.9 505.3,1387.0 505.9,1410.1 506.6,1395.7 507.2,1421.5 507.8,1415.6 508.4,1386.6 509.0,1400.1 509.7,1402.4 510.3,1409.8 510.9,1396.4 511.5,1424.5 512.2,1420.4 512.8,1405.8 513.4,1416.2 514.0,1414.2 514.6,1404.7 515.3,1405.8 515.9,1407.2 516.5,1378.6 517.1,1388.6 517.7,1385.3 518.4,1404.5 519.0,1411.8 519.6,1426.3 520.2,1409.6 520.8,1436.0 521.5,1413.3 522.1,1392.9 522.7,1380.0 523.3,1390.0 523.9,1417.8 524.6,1397.3 525.2,1416.8 525.8,1392.5 526.4,1406.7 527.1,1392.1 527.7,1366.3 528.3,1391.3 528.9,1370.0 529.5,1402.7 530.2,1410.4 530.8,1385.3 531.4,1379.5 532.0,1414.0 532.6,1404.5 533.3,1427.4 533.9,1408.8 534.5,1392.5 535.1,1407.2 535.7,1414.6 536.4,1427.2 537.0,1400.6 537.6,1394.2 538.2,1397.3 538.9,1402.5 539.5,1425.5 540.1,1379.9 540.7,1407.3 541.3,1408.7 542.0,1395.6 542.6,1439.2 543.2,1407.7 543.8,1408.8 544.4,1401.3 545.1,1386.7 545.7,1399.9 546.3,1434.5 546.9,1412.2 547.5,1404.1 548.2,1405.0 548.8,1426.5 549.4,1432.2 550.0,1399.2 550.7,1402.3 551.3,1407.8 551.9,1433.4 552.5,1381.1 553.1,1451.0 553.8,1413.1 554.4,1376.5 555.0,1410.2 555.6,1404.4 556.2,1425.5 556.9,1387.7 557.5,1427.3 558.1,1404.3 558.7,1406.1 559.3,1423.9 560.0,1395.0 560.6,1429.4 561.2,1418.5 561.8,1408.8 562.5,1414.6 563.1,1401.5 563.7,1394.8 564.3,1413.0 564.9,1416.7 565.6,1416.4 566.2,1414.2 566.8,1396.7 567.4,1412.1 568.0,1402.8 568.7,1410.3 569.3,1421.5 569.9,1396.2 570.5,1424.5 571.1,1409.0 571.8,1387.1 572.4,1425.5 573.0,1410.1 573.6,1432.8 574.3,1416.9 574.9,1431.6 575.5,1414.8 576.1,1417.5 576.7,1407.6 577.4,1386.1 578.0,1405.4 578.6,1399.9 579.2,1410.5 579.8,1413.4 580.5,1422.2 581.1,1436.5 581.7,1408.9 582.3,1385.8 582.9,1402.9 583.6,1417.9 584.2,1385.6 584.8,1416.5 585.4,1419.3 586.0,1428.1 586.7,1424.5 587.3,1413.9 587.9,1380.7 588.5,1413.4 589.2,1425.6 589.8,1419.4 590.4,1413.8 591.0,1435.8 591.6,1408.7 592.3,1400.2 592.9,1405.9 593.5,1401.8 594.1,1429.7 594.7,1435.8 595.4,1391.8 596.0,1394.7 596.6,1433.6 597.2,1407.8 597.8,1410.6 598.5,1402.9 599.1,1407.9 599.7,1418.4 600.3,1408.2 601.0,1408.8 601.6,1411.9 602.2,1438.5 602.8,1455.4 603.4,1422.9 604.1,1435.4 604.7,1407.6 605.3,1400.8 605.9,1407.5 606.5,1416.9 607.2,1410.4 607.8,1394.3 608.4,1422.3 609.0,1398.0 609.6,1401.2 610.3,1407.8 610.9,1390.3 611.5,1422.3 612.1,1397.9 612.8,1425.4 613.4,1423.1 614.0,1427.4 614.6,1405.3 615.2,1425.7 615.9,1411.2 616.5,1428.7 617.1,1396.3 617.7,1385.1 618.3,1408.7 619.0,1388.0 619.6,1403.9 620.2,1380.3 620.8,1410.7 621.4,1435.3 622.1,1390.4 622.7,1414.1 623.3,1427.5 623.9,1422.0 624.6,1436.2 625.2,1414.9 625.8,1428.1 626.4,1390.7 627.0,1402.8 627.7,1436.8 628.3,1434.7 628.9,1420.9 629.5,1440.8 630.1,1414.2 630.8,1413.3 631.4,1424.0 632.0,1420.7 632.6,1405.4 633.2,1392.0 633.9,1390.9 634.5,1412.3 635.1,1400.3 635.7,1423.7 636.4,1406.9 637.0,1427.0 637.6,1402.3 638.2,1431.1 638.8,1427.1 639.5,1413.2 640.1,1404.9 640.7,1434.1 641.3,1421.0 641.9,1411.2 642.6,1409.8 643.2,1425.5 643.8,1411.8 644.4,1417.2 645.0,1392.8 645.7,1405.2 646.3,1432.7 646.9,1445.5 647.5,1411.9 648.1,1396.1 648.8,1410.9 649.4,1400.6 650.0,1420.5 650.6,1433.4 651.3,1402.6 651.9,1412.1 652.5,1403.6 653.1,1433.7 653.7,1411.0 654.4,1422.8 655.0,1401.9 655.6,1422.1 656.2,1422.6 656.8,1422.3 657.5,1395.3 658.1,1413.3 658.7,1424.9 659.3,1428.7 659.9,1429.0 660.6,1392.6 661.2,1440.3 661.8,1426.3 662.4,1404.6 663.1,1396.8 663.7,1416.1 664.3,1402.6 664.9,1403.0 665.5,1399.7 666.2,1413.4 666.8,1390.0 667.4,1410.9 668.0,1391.6 668.6,1429.9 669.3,1400.2 669.9,1432.1 670.5,1435.7 671.1,1406.6 671.7,1425.9 672.4,1407.3 673.0,1429.4 673.6,1390.4 674.2,1413.7 674.9,1430.2 675.5,1411.2 676.1,1400.9 676.7,1425.0 677.3,1406.2 678.0,1384.0 678.6,1401.1 679.2,1413.9 679.8,1422.0 680.4,1405.4 681.1,1435.8 681.7,1457.9 682.3,1423.5 682.9,1429.5 683.5,1388.5 684.2,1411.8 684.8,1428.1 685.4,1430.7 686.0,1406.6 686.7,1425.9 687.3,1422.3 687.9,1415.2 688.5,1412.6 689.1,1412.4 689.8,1412.2 690.4,1394.9 691.0,1389.1 691.6,1437.8 692.2,1376.5 692.9,1412.0 693.5,1395.8 694.1,1424.6 694.7,1409.1 695.3,1410.8 696.0,1412.2 696.6,1401.5 697.2,1404.7 697.8,1428.5 698.5,1415.6 699.1,1403.4 699.7,1404.0 700.3,1418.8 700.9,1418.0 701.6,1416.2 702.2,1430.0 702.8,1432.7 703.4,1391.3 704.0,1419.8 704.7,1412.7 705.3,1424.9 705.9,1395.3 706.5,1388.7 707.1,1417.3 707.8,1406.7 708.4,1425.1 709.0,1388.6 709.6,1400.8 710.2,1426.4 710.9,1396.2 711.5,1409.0 712.1,1408.3 712.7,1409.1 713.4,1424.0 714.0,1422.1 714.6,1405.3 715.2,1415.1 715.8,1428.1 716.5,1385.0 717.1,1417.4 717.7,1422.5 718.3,1424.5 718.9,1404.5 719.6,1400.4 720.2,1410.9 720.8,1402.0 721.4,1436.2 722.0,1419.9 722.7,1421.4 723.3,1414.5 723.9,1407.6 724.5,1444.1 725.2,1369.5 725.8,1427.2 726.4,1409.7 727.0,1402.8 727.6,1402.5 728.3,1411.3 728.9,1456.9 729.5,1430.6 730.1,1403.9 730.7,1428.3 731.4,1430.2 732.0,1449.0 732.6,1397.5 733.2,1407.7 733.8,1428.0 734.5,1417.1 735.1,1416.7 735.7,1431.4 736.3,1419.3 737.0,1411.7 737.6,1407.4 738.2,1397.2 738.8,1415.1 739.4,1422.2 740.1,1409.7 740.7,1424.6 741.3,1433.7 741.9,1399.1 742.5,1421.1 743.2,1413.9 743.8,1406.3 744.4,1431.7 745.0,1406.4 745.6,1409.2 746.3,1417.1 746.9,1410.0 747.5,1426.7 748.1,1447.6 748.8,1419.9 749.4,1428.9 750.0,1403.3 750.6,1412.0 751.2,1423.5 751.9,1415.2 752.5,1396.3 753.1,1399.5 753.7,1410.5 754.3,1409.7 755.0,1419.9 755.6,1417.8 756.2,1407.4 756.8,1417.7 757.4,1411.6 758.1,1432.0 758.7,1440.0 759.3,1440.5 759.9,1422.3 760.6,1396.9 761.2,1399.0 761.8,1430.4 762.4,1438.5 763.0,1404.6 763.7,1409.4 764.3,1435.8 764.9,1400.8 765.5,1413.6 766.1,1397.0 766.8,1411.2 767.4,1403.3 768.0,1411.5 768.6,1429.9 769.2,1419.5 769.9,1425.9 770.5,1404.2 771.1,1430.5 771.7,1438.3 772.3,1406.4 773.0,1399.7 773.6,1395.4 774.2,1400.5 774.8,1438.0 775.5,1426.3 776.1,1424.2 776.7,1416.6 777.3,1447.3 777.9,1416.4 778.6,1412.3 779.2,1430.0 779.8,1414.6 780.4,1399.2 781.0,1415.7 781.7,1401.1 782.3,1401.8 782.9,1410.5 783.5,1410.9 784.1,1421.7 784.8,1398.5 785.4,1423.2 786.0,1426.5 786.6,1406.3 787.3,1426.9 787.9,1410.3 788.5,1401.2 789.1,1415.3 789.7,1414.9 790.4,1403.2 791.0,1405.6 791.6,1438.6 792.2,1435.3 792.8,1397.3 793.5,1410.9 794.1,1446.4 794.7,1435.9 795.3,1416.1 795.9,1430.6 796.6,1409.7 797.2,1415.3 797.8,1409.4 798.4,1433.3" fill="none" stroke="#a8a8a8" stroke-width="1.2" stroke-linejoin="round"/>
<polyline points="108.5,1393.8 109.1,1427.9 109.7,1408.1 110.4,1419.3 111.0,1410.9 111.6,1411.6 112.2,1431.5 112.8,1423.6 113.5,1432.4 114.1,1388.3 114.7,1407.3 115.3,1410.4 116.0,1409.8 116.6,1414.5 117.2,1423.6 117.8,1426.6 118.4,1416.4 119.1,1415.5 119.7,1405.7 120.3,1424.1 120.9,1424.6 121.5,1411.3 122.2,1417.2 122.8,1424.5 123.4,1423.0 124.0,1411.0 124.6,1397.7 125.3,1412.4 125.9,1417.3 126.5,1421.3 127.1,1429.1 127.8,1409.0 128.4,1396.9 129.0,1404.1 129.6,1412.0 130.2,1407.7 130.9,1445.5 131.5,1415.1 132.1,1424.8 132.7,1430.9 133.3,1408.3 134.0,1408.6 134.6,1428.2 135.2,1422.6 135.8,1413.8 136.4,1423.8 137.1,1414.3 137.7,1418.3 138.3,1411.2 138.9,1398.5 139.6,1414.0 140.2,1424.1 140.8,1409.7 141.4,1407.1 142.0,1421.3 142.7,1428.5 143.3,1415.1 143.9,1431.9 144.5,1405.4 145.1,1409.9 145.8,1419.7 146.4,1410.4 147.0,1432.8 147.6,1410.5 148.2,1427.6 148.9,1422.4 149.5,1409.1 150.1,1406.2 150.7,1433.8 151.3,1419.4 152.0,1411.1 152.6,1422.7 153.2,1410.3 153.8,1429.0 154.5,1414.2 155.1,1423.9 155.7,1400.9 156.3,1418.4 156.9,1420.4 157.6,1432.0 158.2,1409.9 158.8,1420.4 159.4,1417.3 160.0,1411.1 160.7,1414.2 161.3,1417.0 161.9,1416.5 162.5,1412.9 163.1,1391.0 163.8,1423.7 164.4,1414.7 165.0,1406.6 165.6,1410.6 166.3,1411.2 166.9,1420.5 167.5,1424.9 168.1,1410.3 168.7,1399.1 169.4,1404.3 170.0,1412.0 170.6,1417.9 171.2,1412.8 171.8,1416.2 172.5,1412.5 173.1,1427.9 173.7,1407.6 174.3,1408.7 174.9,1408.3 175.6,1411.3 176.2,1394.5 176.8,1409.3 177.4,1407.3 178.1,1435.1 178.7,1414.8 179.3,1420.2 179.9,1410.2 180.5,1437.4 181.2,1414.9 181.8,1409.4 182.4,1421.8 183.0,1421.4 183.6,1433.6 184.3,1422.0 184.9,1408.0 185.5,1402.0 186.1,1425.7 186.7,1415.7 187.4,1416.3 188.0,1396.6 188.6,1412.0 189.2,1399.8 189.9,1415.0 190.5,1418.4 191.1,1420.8 191.7,1398.7 192.3,1399.1 193.0,1403.3 193.6,1415.9 194.2,1413.9 194.8,1424.8 195.4,1426.5 196.1,1409.4 196.7,1393.4 197.3,1413.0 197.9,1413.3 198.5,1426.0 199.2,1423.1 199.8,1414.6 200.4,1419.6 201.0,1416.2 201.7,1409.4 202.3,1413.8 202.9,1412.0 203.5,1428.9 204.1,1422.0 204.8,1420.2 205.4,1435.1 206.0,1421.4 206.6,1420.4 207.2,1424.5 207.9,1404.4 208.5,1407.9 209.1,1413.8 209.7,1412.0 210.3,1411.6 211.0,1404.2 211.6,1434.5 212.2,1404.2 212.8,1417.6 213.4,1409.7 214.1,1401.1 214.7,1394.4 215.3,1391.4 215.9,1413.9 216.6,1403.9 217.2,1417.8 217.8,1426.3 218.4,1410.5 219.0,1419.2 219.7,1399.8 220.3,1402.3 220.9,1393.7 221.5,1421.1 222.1,1420.0 222.8,1406.3 223.4,1400.5 224.0,1423.7 224.6,1420.2 225.2,1417.7 225.9,1392.7 226.5,1408.1 227.1,1397.7 227.7,1411.1 228.4,1418.8 229.0,1419.6 229.6,1420.4 230.2,1414.8 230.8,1409.2 231.5,1410.3 232.1,1410.7 232.7,1400.9 233.3,1405.0 233.9,1404.7 234.6,1415.2 235.2,1430.7 235.8,1400.7 236.4,1419.8 237.0,1408.1 237.7,1416.3 238.3,1397.1 238.9,1408.7 239.5,1419.7 240.2,1398.3 240.8,1408.0 241.4,1415.9 242.0,1418.0 242.6,1421.8 243.3,1411.8 243.9,1415.3 244.5,1420.9 245.1,1441.2 245.7,1418.9 246.4,1420.8 247.0,1403.7 247.6,1402.6 248.2,1429.6 248.8,1412.8 249.5,1410.9 250.1,1417.9 250.7,1408.1 251.3,1420.0 252.0,1427.5 252.6,1419.1 253.2,1419.5 253.8,1409.6 254.4,1417.7 255.1,1403.8 255.7,1407.9 256.3,1423.6 256.9,1421.6 257.5,1418.0 258.2,1417.5 258.8,1395.2 259.4,1414.7 260.0,1427.9 260.6,1430.5 261.3,1419.3 261.9,1392.0 262.5,1416.1 263.1,1415.8 263.8,1413.7 264.4,1412.0 265.0,1387.2 265.6,1419.5 266.2,1408.8 266.9,1408.9 267.5,1411.7 268.1,1424.7 268.7,1396.8 269.3,1416.6 270.0,1417.0 270.6,1423.3 271.2,1418.3 271.8,1408.6 272.4,1409.1 273.1,1412.5 273.7,1402.8 274.3,1399.5 274.9,1407.3 275.5,1399.7 276.2,1401.7 276.8,1418.3 277.4,1408.3 278.0,1402.9 278.7,1413.0 279.3,1409.6 279.9,1403.1 280.5,1397.6 281.1,1404.4 281.8,1401.9 282.4,1411.6 283.0,1397.3 283.6,1425.8 284.2,1410.0 284.9,1400.7 285.5,1428.0 286.1,1403.4 286.7,1406.1 287.3,1426.2 288.0,1412.7 288.6,1423.3 289.2,1422.3 289.8,1400.5 290.5,1423.9 291.1,1403.6 291.7,1422.1 292.3,1413.1 292.9,1413.4 293.6,1429.5 294.2,1415.1 294.8,1405.0 295.4,1418.3 296.0,1426.7 296.7,1412.5 297.3,1411.7 297.9,1419.6 298.5,1416.2 299.1,1403.1 299.8,1415.2 300.4,1400.5 301.0,1396.3 301.6,1411.9 302.3,1425.4 302.9,1429.9 303.5,1413.5 304.1,1398.7 304.7,1401.9 305.4,1402.3 306.0,1418.5 306.6,1409.4 307.2,1410.1 307.8,1417.8 308.5,1425.5 309.1,1419.1 309.7,1405.8 310.3,1418.5 310.9,1429.7 311.6,1407.1 312.2,1416.1 312.8,1395.8 313.4,1410.3 314.1,1425.3 314.7,1416.2 315.3,1416.6 315.9,1413.6 316.5,1394.8 317.2,1413.7 317.8,1437.3 318.4,1398.8 319.0,1407.5 319.6,1390.5 320.3,1418.2 320.9,1425.9 321.5,1399.9 322.1,1423.1 322.7,1406.0 323.4,1401.2 324.0,1413.1 324.6,1405.0 325.2,1402.0 325.9,1397.8 326.5,1418.2 327.1,1410.9 327.7,1412.3 328.3,1393.1 329.0,1407.0 329.6,1410.8 330.2,1401.2 330.8,1417.8 331.4,1409.8 332.1,1407.4 332.7,1408.1 333.3,1430.7 333.9,1418.9 334.5,1437.2 335.2,1413.9 335.8,1388.2 336.4,1419.4 337.0,1421.8 337.6,1415.1 338.3,1401.0 338.9,1408.0 339.5,1414.3 340.1,1394.7 340.8,1397.8 341.4,1401.4 342.0,1413.8 342.6,1390.5 343.2,1400.4 343.9,1405.6 344.5,1404.8 345.1,1402.5 345.7,1399.2 346.3,1411.6 347.0,1400.8 347.6,1402.3 348.2,1395.1 348.8,1396.1 349.4,1406.9 350.1,1430.9 350.7,1404.0 351.3,1397.2 351.9,1410.4 352.6,1400.6 353.2,1403.5 353.8,1419.0 354.4,1428.9 355.0,1393.4 355.7,1399.0 356.3,1410.3 356.9,1414.7 357.5,1405.2 358.1,1398.5 358.8,1403.3 359.4,1413.0 360.0,1390.6 360.6,1386.1 361.2,1393.8 361.9,1393.8 362.5,1393.2 363.1,1405.6 363.7,1393.1 364.4,1405.7 365.0,1387.9 365.6,1401.5 366.2,1391.0 366.8,1426.2 367.5,1399.5 368.1,1397.9 368.7,1410.5 369.3,1398.9 369.9,1391.0 370.6,1394.9 371.2,1407.3 371.8,1400.2 372.4,1397.1 373.0,1405.4 373.7,1404.4 374.3,1392.0 374.9,1397.6 375.5,1394.1 376.2,1417.3 376.8,1427.2 377.4,1408.6 378.0,1420.1 378.6,1412.7 379.3,1403.1 379.9,1402.1 380.5,1404.8 381.1,1380.8 381.7,1413.7 382.4,1396.1 383.0,1418.6 383.6,1423.0 384.2,1399.4 384.8,1400.3 385.5,1407.9 386.1,1408.3 386.7,1397.0 387.3,1409.5 388.0,1410.3 388.6,1388.3 389.2,1404.2 389.8,1406.2 390.4,1402.6 391.1,1392.5 391.7,1392.3 392.3,1379.7 392.9,1390.1 393.5,1392.0 394.2,1391.7 394.8,1411.3 395.4,1401.4 396.0,1403.8 396.6,1416.7 397.3,1402.7 397.9,1393.1 398.5,1383.2 399.1,1378.2 399.7,1405.4 400.4,1409.3 401.0,1429.1 401.6,1411.9 402.2,1409.2 402.9,1411.4 403.5,1396.3 404.1,1420.5 404.7,1410.5 405.3,1405.5 406.0,1416.5 406.6,1395.4 407.2,1396.2 407.8,1418.6 408.4,1411.2 409.1,1388.1 409.7,1391.5 410.3,1406.9 410.9,1406.1 411.5,1413.2 412.2,1410.5 412.8,1387.1 413.4,1383.7 414.0,1388.4 414.7,1402.7 415.3,1399.3 415.9,1396.8 416.5,1392.1 417.1,1392.9 417.8,1413.8 418.4,1394.9 419.0,1406.8 419.6,1396.7 420.2,1407.6 420.9,1395.3 421.5,1400.3 422.1,1392.7 422.7,1395.9 423.3,1399.3 424.0,1393.8 424.6,1403.4 425.2,1399.5 425.8,1394.2 426.5,1383.6 427.1,1369.2 427.7,1394.4 428.3,1393.6 428.9,1401.7 429.6,1386.9 430.2,1402.0 430.8,1398.4 431.4,1392.0 432.0,1383.7 432.7,1382.1 433.3,1399.7 433.9,1405.7 434.5,1387.9 435.1,1386.0 435.8,1399.2 436.4,1400.0 437.0,1402.8 437.6,1422.4 438.3,1416.1 438.9,1412.3 439.5,1401.2 440.1,1403.5 440.7,1417.8 441.4,1404.5 442.0,1410.3 442.6,1425.1 443.2,1413.9 443.8,1417.8 444.5,1411.3 445.1,1435.3 445.7,1420.2 446.3,1448.8 446.9,1436.8 447.6,1442.5 448.2,1456.0 448.8,1458.7 449.4,1459.5 450.1,1480.8 450.7,1477.1 451.3,1483.0" fill="none" stroke="#141414" stroke-width="1.9" stroke-linejoin="round"/>
<polyline points="455.6,1486.9 456.3,1468.6 456.9,1467.4 457.5,1487.4 458.1,1494.6 458.7,1459.8 459.4,1426.9 460.0,1440.3 460.6,1439.6 461.2,1425.0 461.8,1437.2 462.5,1420.5 463.1,1412.8 463.7,1423.1 464.3,1428.5 465.0,1425.9 465.6,1402.5 466.2,1408.6 466.8,1396.3 467.4,1389.1 468.1,1412.9 468.7,1425.3 469.3,1400.0 469.9,1382.9 470.5,1379.0 471.2,1389.7 471.8,1408.3 472.4,1400.2 473.0,1382.3 473.6,1407.0 474.3,1386.9 474.9,1405.3 475.5,1396.9 476.1,1386.1 476.8,1390.8 477.4,1397.0 478.0,1405.4 478.6,1399.9 479.2,1406.7 479.9,1405.4 480.5,1398.9 481.1,1411.5 481.7,1416.8 482.3,1412.9 483.0,1406.3 483.6,1395.2 484.2,1419.2 484.8,1393.0 485.4,1391.6 486.1,1408.4 486.7,1420.2 487.3,1399.4 487.9,1397.0 488.6,1423.0 489.2,1393.4 489.8,1385.0 490.4,1398.4 491.0,1397.4 491.7,1374.9 492.3,1388.5 492.9,1404.3 493.5,1395.5 494.1,1407.6 494.8,1406.4 495.4,1421.1 496.0,1393.9 496.6,1406.3 497.2,1388.5 497.9,1391.3 498.5,1390.5 499.1,1403.4 499.7,1404.3 500.4,1391.4 501.0,1392.8 501.6,1413.9 502.2,1392.6 502.8,1394.1 503.5,1410.8 504.1,1398.5 504.7,1410.2 505.3,1385.8 505.9,1408.4 506.6,1406.1 507.2,1412.1 507.8,1409.1 508.4,1397.5 509.0,1405.6 509.7,1410.8 510.3,1412.7 510.9,1397.6 511.5,1420.9 512.2,1419.3 512.8,1399.6 513.4,1405.3 514.0,1404.9 514.6,1402.6 515.3,1401.4 515.9,1403.3 516.5,1383.9 517.1,1388.4 517.7,1397.9 518.4,1411.4 519.0,1414.5 519.6,1421.4 520.2,1412.7 520.8,1427.8 521.5,1408.3 522.1,1390.8 522.7,1387.5 523.3,1392.0 523.9,1411.5 524.6,1409.2 525.2,1421.5 525.8,1399.8 526.4,1410.2 527.1,1410.2 527.7,1382.4 528.3,1383.8 528.9,1370.9 529.5,1404.4 530.2,1414.9 530.8,1389.8 531.4,1385.9 532.0,1417.3 532.6,1413.6 533.3,1427.6 533.9,1420.4 534.5,1393.9 535.1,1394.5 535.7,1414.6 536.4,1431.7 537.0,1407.4 537.6,1399.7 538.2,1401.1 538.9,1404.4 539.5,1421.6 540.1,1390.5 540.7,1410.5 541.3,1420.7 542.0,1413.6 542.6,1434.5 543.2,1411.3 543.8,1409.3 544.4,1404.2 545.1,1393.0 545.7,1404.5 546.3,1421.4 546.9,1395.6 547.5,1395.2 548.2,1403.6 548.8,1412.7 549.4,1414.2 550.0,1399.0 550.7,1404.4 551.3,1411.7 551.9,1431.4 552.5,1394.0 553.1,1425.8 553.8,1410.5 554.4,1394.0 555.0,1408.7 555.6,1406.8 556.2,1423.7 556.9,1400.9 557.5,1429.9 558.1,1414.7 558.7,1408.6 559.3,1409.9 560.0,1387.3 560.6,1418.6 561.2,1416.1 561.8,1401.4 562.5,1398.0 563.1,1396.8 563.7,1400.2 564.3,1418.1 564.9,1421.2 565.6,1415.6 566.2,1416.0 566.8,1397.4 567.4,1411.6 568.0,1414.0 568.7,1408.7 569.3,1413.0 569.9,1392.4 570.5,1417.3 571.1,1418.4 571.8,1398.9 572.4,1418.1 573.0,1411.0 573.6,1428.5 574.3,1412.7 574.9,1422.8 575.5,1419.8 576.1,1410.7 576.7,1394.9 577.4,1384.5 578.0,1407.2 578.6,1411.3 579.2,1417.8 579.8,1420.8 580.5,1424.0 581.1,1422.4 581.7,1403.1 582.3,1397.9 582.9,1412.5 583.6,1423.3 584.2,1395.4 584.8,1417.6 585.4,1423.3 586.0,1426.1 586.7,1429.6 587.3,1423.5 587.9,1395.0 588.5,1408.6 589.2,1408.4 589.8,1408.8 590.4,1421.8 591.0,1428.1 591.6,1404.8 592.3,1403.4 592.9,1417.9 593.5,1408.1 594.1,1413.8 594.7,1422.0 595.4,1400.5 596.0,1401.2 596.6,1424.5 597.2,1411.6 597.8,1411.7 598.5,1402.0 599.1,1406.2 599.7,1419.3 600.3,1406.5 601.0,1404.5 601.6,1411.1 602.2,1429.1 602.8,1435.1 603.4,1417.4 604.1,1426.9 604.7,1398.9 605.3,1395.2 605.9,1411.2 606.5,1423.6 607.2,1415.8 607.8,1406.3 608.4,1430.4 609.0,1413.9 609.6,1413.7 610.3,1410.8 610.9,1401.8 611.5,1418.0 612.1,1400.4 612.8,1423.2 613.4,1415.8 614.0,1417.9 614.6,1404.5 615.2,1421.9 615.9,1425.9 616.5,1433.1 617.1,1411.2 617.7,1406.0 618.3,1409.1 619.0,1395.1 619.6,1411.2 620.2,1401.0 620.8,1418.0 621.4,1428.7 622.1,1407.2 622.7,1419.5 623.3,1425.4 623.9,1422.4 624.6,1428.3 625.2,1412.3 625.8,1414.7 626.4,1396.4 627.0,1407.7 627.7,1426.4 628.3,1418.8 628.9,1407.9 629.5,1425.0 630.1,1412.2 630.8,1405.6 631.4,1420.2 632.0,1422.6 632.6,1410.4 633.2,1398.8 633.9,1396.5 634.5,1415.5 635.1,1410.8 635.7,1424.2 636.4,1406.2 637.0,1411.2 637.6,1405.1 638.2,1431.3 638.8,1407.1 639.5,1392.8 640.1,1404.4 640.7,1423.7 641.3,1427.0 641.9,1416.5 642.6,1403.8 643.2,1426.0 643.8,1413.6 644.4,1413.4 645.0,1408.0 645.7,1410.6 646.3,1421.1 646.9,1432.9 647.5,1414.8 648.1,1409.0 648.8,1423.7 649.4,1408.0 650.0,1408.4 650.6,1418.1 651.3,1403.6 651.9,1412.8 652.5,1409.8 653.1,1430.2 653.7,1408.6 654.4,1414.1 655.0,1407.3 655.6,1417.0 656.2,1424.9 656.8,1416.6 657.5,1396.1 658.1,1418.3 658.7,1423.2 659.3,1426.0 659.9,1426.6 660.6,1405.0 661.2,1431.4 661.8,1418.7 662.4,1413.9 663.1,1405.0 663.7,1410.1 664.3,1410.9 664.9,1410.5 665.5,1402.1 666.2,1404.0 666.8,1395.4 667.4,1412.2 668.0,1397.4 668.6,1421.3 669.3,1404.2 669.9,1426.2 670.5,1425.2 671.1,1412.5 671.7,1435.0 672.4,1418.9 673.0,1425.2 673.6,1401.4 674.2,1410.8 674.9,1422.0 675.5,1408.2 676.1,1401.3 676.7,1420.3 677.3,1405.4 678.0,1390.0 678.6,1404.2 679.2,1413.8 679.8,1421.4 680.4,1414.6 681.1,1429.2 681.7,1436.5 682.3,1418.1 682.9,1421.6 683.5,1387.0 684.2,1395.5 684.8,1413.3 685.4,1419.4 686.0,1402.5 686.7,1415.2 687.3,1412.1 687.9,1408.9 688.5,1407.4 689.1,1408.7 689.8,1413.1 690.4,1402.5 691.0,1395.8 691.6,1421.0 692.2,1384.7 692.9,1408.0 693.5,1393.9 694.1,1418.2 694.7,1416.0 695.3,1410.8 696.0,1410.5 696.6,1410.6 697.2,1408.5 697.8,1418.8 698.5,1419.4 699.1,1403.8 699.7,1405.4 700.3,1422.3 700.9,1419.3 701.6,1417.7 702.2,1420.8 702.8,1426.3 703.4,1404.3 704.0,1418.5 704.7,1418.0 705.3,1419.9 705.9,1397.3 706.5,1399.4 707.1,1420.1 707.8,1413.9 708.4,1421.6 709.0,1400.2 709.6,1402.9 710.2,1427.0 710.9,1423.1 711.5,1421.2 712.1,1419.5 712.7,1419.2 713.4,1423.2 714.0,1419.4 714.6,1404.8 715.2,1407.6 715.8,1413.3 716.5,1387.7 717.1,1408.8 717.7,1412.6 718.3,1414.0 718.9,1408.9 719.6,1413.8 720.2,1422.7 720.8,1410.0 721.4,1435.5 722.0,1427.0 722.7,1421.1 723.3,1414.6 723.9,1406.5 724.5,1434.6 725.2,1390.6 725.8,1431.7 726.4,1420.1 727.0,1404.5 727.6,1413.1 728.3,1416.8 728.9,1436.9 729.5,1424.0 730.1,1413.5 730.7,1426.3 731.4,1419.1 732.0,1433.0 732.6,1408.5 733.2,1411.5 733.8,1414.3 734.5,1409.3 735.1,1410.1 735.7,1423.0 736.3,1419.2 737.0,1410.7 737.6,1408.1 738.2,1391.8 738.8,1401.3 739.4,1419.7 740.1,1410.5 740.7,1421.6 741.3,1428.9 741.9,1400.4 742.5,1417.2 743.2,1417.4 743.8,1414.7 744.4,1428.0 745.0,1411.8 745.6,1406.8 746.3,1406.0 746.9,1409.9 747.5,1428.5 748.1,1431.6 748.8,1403.6 749.4,1415.6 750.0,1404.8 750.6,1411.2 751.2,1420.9 751.9,1408.8 752.5,1394.7 753.1,1410.4 753.7,1420.6 754.3,1424.9 755.0,1425.5 755.6,1410.3 756.2,1399.5 756.8,1400.1 757.4,1407.1 758.1,1426.2 758.7,1423.6 759.3,1422.5 759.9,1417.8 760.6,1402.5 761.2,1399.6 761.8,1416.2 762.4,1423.2 763.0,1409.6 763.7,1414.5 764.3,1430.9 764.9,1411.0 765.5,1418.5 766.1,1403.3 766.8,1408.5 767.4,1400.4 768.0,1402.7 768.6,1416.6 769.2,1419.7 769.9,1423.8 770.5,1401.2 771.1,1424.8 771.7,1438.9 772.3,1418.4 773.0,1414.1 773.6,1408.7 774.2,1411.4 774.8,1431.1 775.5,1425.2 776.1,1426.1 776.7,1418.6 777.3,1440.6 777.9,1415.7 778.6,1409.1 779.2,1421.8 779.8,1414.0 780.4,1404.1 781.0,1410.1 781.7,1404.9 782.3,1415.2 782.9,1416.4 783.5,1406.4 784.1,1415.6 784.8,1403.5 785.4,1418.5 786.0,1420.7 786.6,1413.3 787.3,1426.7 787.9,1411.3 788.5,1408.1 789.1,1421.9 789.7,1411.4 790.4,1397.9 791.0,1408.3 791.6,1432.7 792.2,1440.4 792.8,1421.5 793.5,1419.6 794.1,1429.7 794.7,1430.9 795.3,1427.3 795.9,1419.5 796.6,1401.3 797.2,1410.9 797.8,1405.2 798.4,1421.7" fill="none" stroke="#141414" stroke-width="1.9" stroke-linejoin="round"/>
<polyline points="108.5,1416.7 109.4,1416.7 110.2,1416.7 111.1,1416.7 111.9,1416.7 112.8,1416.7 113.7,1416.7 114.5,1416.7 115.4,1416.6 116.3,1416.6 117.1,1416.6 118.0,1416.6 118.8,1416.6 119.7,1416.6 120.6,1416.6 121.4,1416.6 122.3,1416.6 123.2,1416.6 124.0,1416.5 124.9,1416.5 125.8,1416.5 126.6,1416.5 127.5,1416.5 128.3,1416.5 129.2,1416.5 130.1,1416.5 130.9,1416.5 131.8,1416.4 132.6,1416.4 133.5,1416.4 134.4,1416.4 135.2,1416.4 136.1,1416.4 137.0,1416.4 137.8,1416.4 138.7,1416.3 139.6,1416.3 140.4,1416.3 141.3,1416.3 142.1,1416.3 143.0,1416.3 143.9,1416.3 144.7,1416.3 145.6,1416.2 146.4,1416.2 147.3,1416.2 148.2,1416.2 149.0,1416.2 149.9,1416.2 150.8,1416.2 151.6,1416.2 152.5,1416.1 153.3,1416.1 154.2,1416.1 155.1,1416.1 155.9,1416.1 156.8,1416.1 157.7,1416.1 158.5,1416.0 159.4,1416.0 160.2,1416.0 161.1,1416.0 162.0,1416.0 162.8,1416.0 163.7,1416.0 164.6,1415.9 165.4,1415.9 166.3,1415.9 167.1,1415.9 168.0,1415.9 168.9,1415.9 169.7,1415.8 170.6,1415.8 171.5,1415.8 172.3,1415.8 173.2,1415.8 174.1,1415.8 174.9,1415.7 175.8,1415.7 176.6,1415.7 177.5,1415.7 178.4,1415.7 179.2,1415.7 180.1,1415.6 180.9,1415.6 181.8,1415.6 182.7,1415.6 183.5,1415.6 184.4,1415.6 185.3,1415.5 186.1,1415.5 187.0,1415.5 187.8,1415.5 188.7,1415.5 189.6,1415.4 190.4,1415.4 191.3,1415.4 192.2,1415.4 193.0,1415.4 193.9,1415.4 194.8,1415.3 195.6,1415.3 196.5,1415.3 197.3,1415.3 198.2,1415.3 199.1,1415.2 199.9,1415.2 200.8,1415.2 201.6,1415.2 202.5,1415.2 203.4,1415.1 204.2,1415.1 205.1,1415.1 206.0,1415.1 206.8,1415.0 207.7,1415.0 208.5,1415.0 209.4,1415.0 210.3,1415.0 211.1,1414.9 212.0,1414.9 212.9,1414.9 213.7,1414.9 214.6,1414.8 215.4,1414.8 216.3,1414.8 217.2,1414.8 218.0,1414.7 218.9,1414.7 219.8,1414.7 220.6,1414.7 221.5,1414.7 222.3,1414.6 223.2,1414.6 224.1,1414.6 224.9,1414.6 225.8,1414.5 226.7,1414.5 227.5,1414.5 228.4,1414.4 229.2,1414.4 230.1,1414.4 231.0,1414.4 231.8,1414.3 232.7,1414.3 233.6,1414.3 234.4,1414.3 235.3,1414.2 236.1,1414.2 237.0,1414.2 237.9,1414.1 238.7,1414.1 239.6,1414.1 240.5,1414.1 241.3,1414.0 242.2,1414.0 243.0,1414.0 243.9,1413.9 244.8,1413.9 245.6,1413.9 246.5,1413.9 247.4,1413.8 248.2,1413.8 249.1,1413.8 249.9,1413.7 250.8,1413.7 251.7,1413.7 252.5,1413.6 253.4,1413.6 254.3,1413.6 255.1,1413.5 256.0,1413.5 256.9,1413.5 257.7,1413.4 258.6,1413.4 259.4,1413.4 260.3,1413.3 261.2,1413.3 262.0,1413.3 262.9,1413.2 263.8,1413.2 264.6,1413.2 265.5,1413.1 266.3,1413.1 267.2,1413.1 268.1,1413.0 268.9,1413.0 269.8,1412.9 270.6,1412.9 271.5,1412.9 272.4,1412.8 273.2,1412.8 274.1,1412.8 275.0,1412.7 275.8,1412.7 276.7,1412.6 277.5,1412.6 278.4,1412.6 279.3,1412.5 280.1,1412.5 281.0,1412.4 281.9,1412.4 282.7,1412.4 283.6,1412.3 284.4,1412.3 285.3,1412.2 286.2,1412.2 287.0,1412.1 287.9,1412.1 288.8,1412.1 289.6,1412.0 290.5,1412.0 291.4,1411.9 292.2,1411.9 293.1,1411.8 293.9,1411.8 294.8,1411.7 295.7,1411.7 296.5,1411.7 297.4,1411.6 298.2,1411.6 299.1,1411.5 300.0,1411.5 300.8,1411.4 301.7,1411.4 302.6,1411.3 303.4,1411.3 304.3,1411.2 305.1,1411.2 306.0,1411.1 306.9,1411.1 307.7,1411.0 308.6,1411.0 309.5,1410.9 310.3,1410.9 311.2,1410.8 312.0,1410.8 312.9,1410.7 313.8,1410.6 314.6,1410.6 315.5,1410.5 316.4,1410.5 317.2,1410.4 318.1,1410.4 318.9,1410.3 319.8,1410.3 320.7,1410.2 321.5,1410.1 322.4,1410.1 323.3,1410.0 324.1,1410.0 325.0,1409.9 325.9,1409.8 326.7,1409.8 327.6,1409.7 328.4,1409.7 329.3,1409.6 330.2,1409.5 331.0,1409.5 331.9,1409.4 332.8,1409.4 333.6,1409.3 334.5,1409.2 335.3,1409.2 336.2,1409.1 337.1,1409.0 337.9,1409.0 338.8,1408.9 339.6,1408.8 340.5,1408.8 341.4,1408.7 342.2,1408.6 343.1,1408.6 344.0,1408.5 344.8,1408.4 345.7,1408.3 346.6,1408.3 347.4,1408.2 348.3,1408.1 349.1,1408.1 350.0,1408.0 350.9,1407.9 351.7,1407.8 352.6,1407.8 353.4,1407.7 354.3,1407.6 355.2,1407.5 356.0,1407.5 356.9,1407.4 357.8,1407.3 358.6,1407.2 359.5,1407.1 360.4,1407.1 361.2,1407.0 362.1,1406.9 362.9,1406.8 363.8,1406.7 364.7,1406.7 365.5,1406.6 366.4,1406.5 367.2,1406.4 368.1,1406.3 369.0,1406.2 369.8,1406.1 370.7,1406.1 371.6,1406.0 372.4,1405.9 373.3,1405.8 374.1,1405.7 375.0,1405.6 375.9,1405.5 376.7,1405.4 377.6,1405.3 378.5,1405.2 379.3,1405.1 380.2,1405.0 381.1,1405.0 381.9,1404.9 382.8,1404.8 383.6,1404.7 384.5,1404.6 385.4,1404.5 386.2,1404.4 387.1,1404.3 387.9,1404.2 388.8,1404.1 389.7,1404.0 390.5,1403.9 391.4,1403.8 392.3,1403.6 393.1,1403.5 394.0,1403.4 394.9,1403.3 395.7,1403.2 396.6,1403.1 397.4,1403.0 398.3,1402.9 399.2,1402.8 400.0,1402.7 400.9,1402.6 401.8,1402.5 402.6,1402.3 403.5,1402.2 404.3,1402.1 405.2,1402.0 406.1,1401.9 406.9,1401.8 407.8,1401.7 408.6,1401.6 409.5,1401.4 410.4,1401.3 411.2,1401.2 412.1,1401.1 413.0,1401.0 413.8,1400.9 414.7,1400.8 415.6,1400.7 416.4,1400.6 417.3,1400.5 418.1,1400.4 419.0,1400.3 419.9,1400.3 420.7,1400.2 421.6,1400.1 422.4,1400.1 423.3,1400.1 424.2,1400.1 425.0,1400.1 425.9,1400.1 426.8,1400.1 427.6,1400.2 428.5,1400.3 429.4,1400.5 430.2,1400.7 431.1,1400.9 431.9,1401.3 432.8,1401.7 432.9,1401.7 432.9,1401.7 433.0,1401.8 433.1,1401.8 433.1,1401.8 433.2,1401.9 433.3,1401.9 433.4,1401.9 433.4,1402.0 433.5,1402.0 433.6,1402.1 433.6,1402.1 433.7,1402.1 433.7,1402.1 433.8,1402.2 433.8,1402.2 433.9,1402.3 434.0,1402.3 434.0,1402.4 434.1,1402.4 434.2,1402.5 434.2,1402.5 434.3,1402.5 434.4,1402.6 434.5,1402.6 434.5,1402.7 434.6,1402.7 434.7,1402.8 434.7,1402.8 434.8,1402.9 434.9,1403.0 434.9,1403.0 435.0,1403.1 435.1,1403.1 435.1,1403.2 435.2,1403.2 435.3,1403.3 435.4,1403.3 435.4,1403.4 435.4,1403.4 435.5,1403.5 435.6,1403.5 435.6,1403.6 435.7,1403.7 435.8,1403.7 435.8,1403.8 435.9,1403.9 436.0,1403.9 436.0,1404.0 436.1,1404.1 436.2,1404.1 436.2,1404.2 436.3,1404.3 436.4,1404.3 436.5,1404.4 436.5,1404.5 436.6,1404.6 436.7,1404.6 436.7,1404.7 436.8,1404.8 436.9,1404.9 436.9,1405.0 437.0,1405.0 437.1,1405.1 437.1,1405.2 437.1,1405.2 437.2,1405.3 437.3,1405.4 437.4,1405.5 437.4,1405.6 437.5,1405.6 437.6,1405.7 437.6,1405.8 437.7,1405.9 437.8,1406.0 437.8,1406.1 437.9,1406.2 438.0,1406.3 438.0,1406.4 438.1,1406.5 438.2,1406.6 438.3,1406.7 438.3,1406.8 438.4,1406.9 438.5,1407.0 438.5,1407.1 438.6,1407.3 438.7,1407.4 438.7,1407.5 438.8,1407.6 438.8,1407.7 438.9,1407.7 438.9,1407.8 439.0,1408.0 439.1,1408.1 439.1,1408.2 439.2,1408.3 439.3,1408.5 439.4,1408.6 439.4,1408.7 439.5,1408.8 439.6,1409.0 439.6,1409.1 439.7,1409.2 439.8,1409.4 439.8,1409.5 439.9,1409.7 440.0,1409.8 440.0,1410.0 440.1,1410.1 440.2,1410.3 440.3,1410.4 440.3,1410.6 440.4,1410.7 440.5,1410.9 440.5,1411.0 440.6,1411.1 440.6,1411.2 440.7,1411.4 440.7,1411.5 440.8,1411.7 440.9,1411.9 440.9,1412.0 441.0,1412.2 441.1,1412.4 441.1,1412.6 441.2,1412.7 441.3,1412.9 441.4,1413.1 441.4,1413.3 441.5,1413.5 441.6,1413.7 441.6,1413.9 441.7,1414.1 441.8,1414.3 441.8,1414.5 441.9,1414.7 442.0,1414.9 442.0,1415.1 442.1,1415.3 442.2,1415.5 442.3,1415.7 442.3,1415.8 442.3,1416.0 442.4,1416.2 442.5,1416.4 442.5,1416.6 442.6,1416.9 442.7,1417.1 442.7,1417.3 442.8,1417.6 442.9,1417.8 442.9,1418.1 443.0,1418.3 443.1,1418.6 443.1,1418.8 443.2,1419.1 443.3,1419.3 443.4,1419.6 443.4,1419.9 443.5,1420.2 443.6,1420.4 443.6,1420.7 443.7,1421.0 443.8,1421.3 443.8,1421.6 443.9,1421.9 444.0,1422.2 444.0,1422.3 444.0,1422.5 444.1,1422.8 444.2,1423.1 444.3,1423.4 444.3,1423.7 444.4,1424.0 444.5,1424.3 444.5,1424.7 444.6,1425.0 444.7,1425.3 444.7,1425.7 444.8,1426.0 444.9,1426.4 444.9,1426.7 445.0,1427.1 445.1,1427.4 445.2,1427.8 445.2,1428.2 445.3,1428.5 445.4,1428.9 445.4,1429.3 445.5,1429.7 445.6,1430.1 445.6,1430.5 445.7,1430.9 445.7,1431.1 445.8,1431.3 445.8,1431.7 445.9,1432.1 446.0,1432.5 446.0,1433.0 446.1,1433.4 446.2,1433.8 446.3,1434.3 446.3,1434.7 446.4,1435.2 446.5,1435.6 446.5,1436.1 446.6,1436.6 446.7,1437.0 446.7,1437.5 446.8,1438.0 446.9,1438.5 446.9,1439.0 447.0,1439.5 447.1,1440.0 447.2,1440.5 447.2,1441.1 447.3,1441.6 447.4,1442.1 447.4,1442.7 447.5,1443.0 447.5,1443.2 447.6,1443.8 447.6,1444.3 447.7,1444.9 447.8,1445.5 447.8,1446.1 447.9,1446.7 448.0,1447.3 448.0,1447.9 448.1,1448.5 448.2,1449.1 448.3,1449.7 448.3,1450.4 448.4,1451.0 448.5,1451.7 448.5,1452.3 448.6,1453.0 448.7,1453.7 448.7,1454.4 448.8,1455.0 448.9,1455.7 448.9,1456.5 449.0,1457.2 449.1,1457.9 449.2,1458.6 449.2,1459.0 449.2,1459.4 449.3,1460.1 449.4,1460.9 449.4,1461.7 449.5,1462.4 449.6,1463.2 449.6,1464.0 449.7,1464.8 449.8,1465.7 449.8,1466.5 449.9,1467.3 450.0,1468.2 450.1,1469.0 450.1,1469.9 450.2,1470.8 450.3,1471.7 450.3,1472.6 450.4,1473.5 450.5,1474.4 450.5,1475.3 450.6,1476.3 450.7,1477.2 450.7,1478.2 450.8,1479.2 450.9,1480.2 450.9,1480.7 450.9,1481.2 451.0,1482.2 451.1,1483.2 451.2,1484.2 451.2,1485.3 451.3,1486.3 451.4,1487.4 451.4,1488.5 451.5,1489.6 451.6,1490.7 451.6,1491.9 451.7,1493.0 451.8,1494.2 451.8,1495.3 451.9,1496.5 452.0,1497.7 452.1,1498.9 452.1,1500.1 452.2,1501.4 452.3,1502.6 452.3,1503.9 452.4,1505.2 452.5,1506.5 452.5,1507.8 452.6,1509.2 452.6,1509.8 452.7,1510.5 452.7,1511.9 452.8,1513.2 452.9,1514.6 452.9,1516.1 453.0,1517.5 453.1,1518.9 453.2,1520.4 453.2,1521.9 453.3,1523.4 453.4,1524.9 453.4,1526.4 453.5,1528.0 453.6,1526.4 453.6,1524.9 453.7,1523.4 453.8,1521.9 453.8,1520.4 453.9,1518.9 454.0,1517.5 454.1,1516.1 454.1,1514.6 454.2,1513.2 454.3,1511.9 454.3,1510.5 454.4,1509.8 454.4,1509.2 454.5,1507.8 454.5,1506.5 454.6,1505.2 454.7,1503.9 454.7,1502.6 454.8,1501.4 454.9,1500.1 454.9,1498.9 455.0,1497.7 455.1,1496.5 455.2,1495.3 455.2,1494.2 455.3,1493.0 455.4,1491.9 455.4,1490.7 455.5,1489.6 455.6,1488.5 455.6,1487.4 455.7,1486.3 455.8,1485.3 455.8,1484.2 455.9,1483.2 456.0,1482.2 456.1,1481.2 456.1,1480.7 456.1,1480.2 456.2,1479.2 456.3,1478.2 456.3,1477.2 456.4,1476.3 456.5,1475.3 456.5,1474.4 456.6,1473.5 456.7,1472.6 456.7,1471.7 456.8,1470.8 456.9,1469.9 456.9,1469.0 457.0,1468.2 457.1,1467.3 457.2,1466.5 457.2,1465.7 457.3,1464.8 457.4,1464.0 457.4,1463.2 457.5,1462.4 457.6,1461.7 457.6,1460.9 457.7,1460.1 457.8,1459.4 457.8,1459.0 457.8,1458.6 457.9,1457.9 458.0,1457.2 458.1,1456.5 458.1,1455.7 458.2,1455.0 458.3,1454.4 458.3,1453.7 458.4,1453.0 458.5,1452.3 458.5,1451.7 458.6,1451.0 458.7,1450.4 458.7,1449.7 458.8,1449.1 458.9,1448.5 459.0,1447.9 459.0,1447.3 459.1,1446.7 459.2,1446.1 459.2,1445.5 459.3,1444.9 459.4,1444.3 459.4,1443.8 459.5,1443.2 459.5,1443.0 459.6,1442.7 459.6,1442.1 459.7,1441.6 459.8,1441.1 459.8,1440.5 459.9,1440.0 460.0,1439.5 460.1,1439.0 460.1,1438.5 460.2,1438.0 460.3,1437.5 460.3,1437.0 460.4,1436.6 460.5,1436.1 460.5,1435.6 460.6,1435.2 460.7,1434.7 460.7,1434.3 460.8,1433.8 460.9,1433.4 461.0,1433.0 461.0,1432.5 461.1,1432.1 461.2,1431.7 461.2,1431.3 461.3,1431.1 461.3,1430.9 461.4,1430.5 461.4,1430.1 461.5,1429.7 461.6,1429.3 461.6,1428.9 461.7,1428.5 461.8,1428.2 461.8,1427.8 461.9,1427.4 462.0,1427.1 462.1,1426.7 462.1,1426.4 462.2,1426.0 462.3,1425.7 462.3,1425.3 462.4,1425.0 462.5,1424.7 462.5,1424.3 462.6,1424.0 462.7,1423.7 462.7,1423.4 462.8,1423.1 462.9,1422.8 463.0,1422.5 463.0,1422.3 463.0,1422.2 463.1,1421.9 463.2,1421.6 463.2,1421.3 463.3,1421.0 463.4,1420.7 463.4,1420.4 463.5,1420.2 463.6,1419.9 463.6,1419.6 463.7,1419.3 463.8,1419.1 463.9,1418.8 463.9,1418.6 464.0,1418.3 464.1,1418.1 464.1,1417.8 464.2,1417.6 464.3,1417.3 464.3,1417.1 464.4,1416.9 464.5,1416.6 464.5,1416.4 464.6,1416.2 464.7,1416.0 464.7,1415.8 464.7,1415.7 464.8,1415.5 464.9,1415.3 465.0,1415.1 465.0,1414.9 465.1,1414.7 465.2,1414.5 465.2,1414.3 465.3,1414.1 465.4,1413.9 465.4,1413.7 465.5,1413.5 465.6,1413.3 465.6,1413.1 465.7,1412.9 465.8,1412.7 465.9,1412.6 465.9,1412.4 466.0,1412.2 466.1,1412.0 466.1,1411.9 466.2,1411.7 466.3,1411.5 466.3,1411.4 466.4,1411.2 466.4,1411.1 466.5,1411.0 466.5,1410.9 466.6,1410.7 466.7,1410.6 466.7,1410.4 466.8,1410.3 466.9,1410.1 467.0,1410.0 467.0,1409.8 467.1,1409.7 467.2,1409.5 467.2,1409.4 467.3,1409.2 467.4,1409.1 467.4,1409.0 467.5,1408.8 467.6,1408.7 467.6,1408.6 467.7,1408.5 467.8,1408.3 467.9,1408.2 467.9,1408.1 468.0,1408.0 468.1,1407.8 468.1,1407.7 468.2,1407.7 468.2,1407.6 468.3,1407.5 468.3,1407.4 468.4,1407.3 468.5,1407.1 468.5,1407.0 468.6,1406.9 468.7,1406.8 468.7,1406.7 468.8,1406.6 468.9,1406.5 469.0,1406.4 469.0,1406.3 469.1,1406.2 469.2,1406.1 469.2,1406.0 469.3,1405.9 469.4,1405.8 469.4,1405.7 469.5,1405.6 469.6,1405.6 469.6,1405.5 469.7,1405.4 469.8,1405.3 469.9,1405.2 469.9,1405.2 469.9,1405.1 470.0,1405.0 470.1,1405.0 470.1,1404.9 470.2,1404.8 470.3,1404.7 470.3,1404.6 470.4,1404.6 470.5,1404.5 470.5,1404.4 470.6,1404.3 470.7,1404.3 470.8,1404.2 470.8,1404.1 470.9,1404.1 471.0,1404.0 471.0,1403.9 471.1,1403.9 471.2,1403.8 471.2,1403.7 471.3,1403.7 471.4,1403.6 471.4,1403.5 471.5,1403.5 471.6,1403.4 471.6,1403.4 471.6,1403.3 471.7,1403.3 471.8,1403.2 471.9,1403.2 471.9,1403.1 472.0,1403.1 472.1,1403.0 472.1,1403.0 472.2,1402.9 472.3,1402.8 472.3,1402.8 472.4,1402.7 472.5,1402.7 472.5,1402.6 472.6,1402.6 472.7,1402.5 472.8,1402.5 472.8,1402.5 472.9,1402.4 473.0,1402.4 473.0,1402.3 473.1,1402.3 473.2,1402.2 473.2,1402.2 473.3,1402.1 473.3,1402.1 473.4,1402.1 473.4,1402.1 473.5,1402.0 473.6,1402.0 473.6,1401.9 473.7,1401.9 473.8,1401.9 473.9,1401.8 473.9,1401.8 474.0,1401.8 474.1,1401.7 474.1,1401.7 474.2,1401.7 475.1,1401.3 475.9,1400.9 476.8,1400.7 477.6,1400.5 478.5,1400.3 479.4,1400.2 480.2,1400.1 481.1,1400.1 482.0,1400.1 482.8,1400.1 483.7,1400.1 484.6,1400.1 485.4,1400.1 486.3,1400.2 487.1,1400.3 488.0,1400.3 488.9,1400.4 489.7,1400.5 490.6,1400.6 491.4,1400.7 492.3,1400.8 493.2,1400.9 494.0,1401.0 494.9,1401.1 495.8,1401.2 496.6,1401.3 497.5,1401.4 498.4,1401.6 499.2,1401.7 500.1,1401.8 500.9,1401.9 501.8,1402.0 502.7,1402.1 503.5,1402.2 504.4,1402.3 505.2,1402.5 506.1,1402.6 507.0,1402.7 507.8,1402.8 508.7,1402.9 509.6,1403.0 510.4,1403.1 511.3,1403.2 512.1,1403.3 513.0,1403.4 513.9,1403.5 514.7,1403.6 515.6,1403.8 516.5,1403.9 517.3,1404.0 518.2,1404.1 519.0,1404.2 519.9,1404.3 520.8,1404.4 521.6,1404.5 522.5,1404.6 523.4,1404.7 524.2,1404.8 525.1,1404.9 526.0,1405.0 526.8,1405.0 527.7,1405.1 528.5,1405.2 529.4,1405.3 530.3,1405.4 531.1,1405.5 532.0,1405.6 532.9,1405.7 533.7,1405.8 534.6,1405.9 535.4,1406.0 536.3,1406.1 537.2,1406.1 538.0,1406.2 538.9,1406.3 539.8,1406.4 540.6,1406.5 541.5,1406.6 542.3,1406.7 543.2,1406.7 544.1,1406.8 544.9,1406.9 545.8,1407.0 546.6,1407.1 547.5,1407.1 548.4,1407.2 549.2,1407.3 550.1,1407.4 551.0,1407.5 551.8,1407.5 552.7,1407.6 553.5,1407.7 554.4,1407.8 555.3,1407.8 556.1,1407.9 557.0,1408.0 557.9,1408.1 558.7,1408.1 559.6,1408.2 560.5,1408.3 561.3,1408.3 562.2,1408.4 563.0,1408.5 563.9,1408.6 564.8,1408.6 565.6,1408.7 566.5,1408.8 567.4,1408.8 568.2,1408.9 569.1,1409.0 569.9,1409.0 570.8,1409.1 571.7,1409.2 572.5,1409.2 573.4,1409.3 574.2,1409.4 575.1,1409.4 576.0,1409.5 576.8,1409.5 577.7,1409.6 578.6,1409.7 579.4,1409.7 580.3,1409.8 581.1,1409.8 582.0,1409.9 582.9,1410.0 583.7,1410.0 584.6,1410.1 585.5,1410.1 586.3,1410.2 587.2,1410.3 588.0,1410.3 588.9,1410.4 589.8,1410.4 590.6,1410.5 591.5,1410.5 592.4,1410.6 593.2,1410.6 594.1,1410.7 595.0,1410.8 595.8,1410.8 596.7,1410.9 597.5,1410.9 598.4,1411.0 599.3,1411.0 600.1,1411.1 601.0,1411.1 601.9,1411.2 602.7,1411.2 603.6,1411.3 604.4,1411.3 605.3,1411.4 606.2,1411.4 607.0,1411.5 607.9,1411.5 608.8,1411.6 609.6,1411.6 610.5,1411.7 611.3,1411.7 612.2,1411.7 613.1,1411.8 613.9,1411.8 614.8,1411.9 615.6,1411.9 616.5,1412.0 617.4,1412.0 618.2,1412.1 619.1,1412.1 620.0,1412.1 620.8,1412.2 621.7,1412.2 622.5,1412.3 623.4,1412.3 624.3,1412.4 625.1,1412.4 626.0,1412.4 626.9,1412.5 627.7,1412.5 628.6,1412.6 629.5,1412.6 630.3,1412.6 631.2,1412.7 632.0,1412.7 632.9,1412.8 633.8,1412.8 634.6,1412.8 635.5,1412.9 636.4,1412.9 637.2,1412.9 638.1,1413.0 638.9,1413.0 639.8,1413.1 640.7,1413.1 641.5,1413.1 642.4,1413.2 643.2,1413.2 644.1,1413.2 645.0,1413.3 645.8,1413.3 646.7,1413.3 647.6,1413.4 648.4,1413.4 649.3,1413.4 650.1,1413.5 651.0,1413.5 651.9,1413.5 652.7,1413.6 653.6,1413.6 654.5,1413.6 655.3,1413.7 656.2,1413.7 657.0,1413.7 657.9,1413.8 658.8,1413.8 659.6,1413.8 660.5,1413.9 661.4,1413.9 662.2,1413.9 663.1,1413.9 664.0,1414.0 664.8,1414.0 665.7,1414.0 666.5,1414.1 667.4,1414.1 668.3,1414.1 669.1,1414.1 670.0,1414.2 670.9,1414.2 671.7,1414.2 672.6,1414.3 673.4,1414.3 674.3,1414.3 675.2,1414.3 676.0,1414.4 676.9,1414.4 677.8,1414.4 678.6,1414.4 679.5,1414.5 680.3,1414.5 681.2,1414.5 682.1,1414.6 682.9,1414.6 683.8,1414.6 684.6,1414.6 685.5,1414.7 686.4,1414.7 687.2,1414.7 688.1,1414.7 689.0,1414.7 689.8,1414.8 690.7,1414.8 691.5,1414.8 692.4,1414.8 693.3,1414.9 694.1,1414.9 695.0,1414.9 695.9,1414.9 696.7,1415.0 697.6,1415.0 698.5,1415.0 699.3,1415.0 700.2,1415.0 701.0,1415.1 701.9,1415.1 702.8,1415.1 703.6,1415.1 704.5,1415.2 705.4,1415.2 706.2,1415.2 707.1,1415.2 707.9,1415.2 708.8,1415.3 709.7,1415.3 710.5,1415.3 711.4,1415.3 712.2,1415.3 713.1,1415.4 714.0,1415.4 714.8,1415.4 715.7,1415.4 716.6,1415.4 717.4,1415.4 718.3,1415.5 719.2,1415.5 720.0,1415.5 720.9,1415.5 721.7,1415.5 722.6,1415.6 723.5,1415.6 724.3,1415.6 725.2,1415.6 726.0,1415.6 726.9,1415.6 727.8,1415.7 728.6,1415.7 729.5,1415.7 730.4,1415.7 731.2,1415.7 732.1,1415.7 733.0,1415.8 733.8,1415.8 734.7,1415.8 735.5,1415.8 736.4,1415.8 737.3,1415.8 738.1,1415.9 739.0,1415.9 739.9,1415.9 740.7,1415.9 741.6,1415.9 742.4,1415.9 743.3,1416.0 744.2,1416.0 745.0,1416.0 745.9,1416.0 746.8,1416.0 747.6,1416.0 748.5,1416.0 749.3,1416.1 750.2,1416.1 751.1,1416.1 751.9,1416.1 752.8,1416.1 753.7,1416.1 754.5,1416.1 755.4,1416.2 756.2,1416.2 757.1,1416.2 758.0,1416.2 758.8,1416.2 759.7,1416.2 760.5,1416.2 761.4,1416.2 762.3,1416.3 763.1,1416.3 764.0,1416.3 764.9,1416.3 765.7,1416.3 766.6,1416.3 767.5,1416.3 768.3,1416.3 769.2,1416.4 770.0,1416.4 770.9,1416.4 771.8,1416.4 772.6,1416.4 773.5,1416.4 774.4,1416.4 775.2,1416.4 776.1,1416.5 776.9,1416.5 777.8,1416.5 778.7,1416.5 779.5,1416.5 780.4,1416.5 781.2,1416.5 782.1,1416.5 783.0,1416.5 783.8,1416.6 784.7,1416.6 785.6,1416.6 786.4,1416.6 787.3,1416.6 788.2,1416.6 789.0,1416.6 789.9,1416.6 790.7,1416.6 791.6,1416.6 792.5,1416.7 793.3,1416.7 794.2,1416.7 795.0,1416.7 795.9,1416.7 796.8,1416.7 797.6,1416.7 798.5,1416.7" fill="none" stroke="#c8283c" stroke-width="1.4" stroke-opacity="0.9" stroke-linejoin="round"/>
<polyline points="436.3,1404.3 436.4,1404.3 436.5,1404.4 436.5,1404.5 436.6,1404.6 436.7,1404.6 436.7,1404.7 436.8,1404.8 436.9,1404.9 436.9,1405.0 437.0,1405.0 437.1,1405.1 437.1,1405.2 437.1,1405.2 437.2,1405.3 437.3,1405.4 437.4,1405.5 437.4,1405.6 437.5,1405.6 437.6,1405.7 437.6,1405.8 437.7,1405.9 437.8,1406.0 437.8,1406.1 437.9,1406.2 438.0,1406.3 438.0,1406.4 438.1,1406.5 438.2,1406.6 438.3,1406.7 438.3,1406.8 438.4,1406.9 438.5,1407.0 438.5,1407.1 438.6,1407.3 438.7,1407.4 438.7,1407.5 438.8,1407.6 438.8,1407.7 438.9,1407.7 438.9,1407.8 439.0,1408.0 439.1,1408.1 439.1,1408.2 439.2,1408.3 439.3,1408.5 439.4,1408.6 439.4,1408.7 439.5,1408.8 439.6,1409.0 439.6,1409.1 439.7,1409.2 439.8,1409.4 439.8,1409.5 439.9,1409.7 440.0,1409.8 440.0,1410.0 440.1,1410.1 440.2,1410.3 440.3,1410.4 440.3,1410.6 440.4,1410.7 440.5,1410.9 440.5,1411.0 440.6,1411.1 440.6,1411.2 440.7,1411.4 440.7,1411.5 440.8,1411.7 440.9,1411.9 440.9,1412.0 441.0,1412.2 441.1,1412.4 441.1,1412.6 441.2,1412.7 441.3,1412.9 441.4,1413.1 441.4,1413.3 441.5,1413.5 441.6,1413.7 441.6,1413.9 441.7,1414.1 441.8,1414.3 441.8,1414.5 441.9,1414.7 442.0,1414.9 442.0,1415.1 442.1,1415.3 442.2,1415.5 442.3,1415.7 442.3,1415.8 442.3,1416.0 442.4,1416.2 442.5,1416.4 442.5,1416.6 442.6,1416.9 442.7,1417.1 442.7,1417.3 442.8,1417.6 442.9,1417.8 442.9,1418.1 443.0,1418.3 443.1,1418.6 443.1,1418.8 443.2,1419.1 443.3,1419.3 443.4,1419.6 443.4,1419.9 443.5,1420.2 443.6,1420.4 443.6,1420.7 443.7,1421.0 443.8,1421.3 443.8,1421.6 443.9,1421.9 444.0,1422.2 444.0,1422.3 444.0,1422.5 444.1,1422.8 444.2,1423.1 444.3,1423.4 444.3,1423.7 444.4,1424.0 444.5,1424.3 444.5,1424.7 444.6,1425.0 444.7,1425.3 444.7,1425.7 444.8,1426.0 444.9,1426.4 444.9,1426.7 445.0,1427.1 445.1,1427.4 445.2,1427.8 445.2,1428.2 445.3,1428.5 445.4,1428.9 445.4,1429.3 445.5,1429.7 445.6,1430.1 445.6,1430.5 445.7,1430.9 445.7,1431.1 445.8,1431.3 445.8,1431.7 445.9,1432.1 446.0,1432.5 446.0,1433.0 446.1,1433.4 446.2,1433.8 446.3,1434.3 446.3,1434.7 446.4,1435.2 446.5,1435.6 446.5,1436.1 446.6,1436.6 446.7,1437.0 446.7,1437.5 446.8,1438.0 446.9,1438.5 446.9,1439.0 447.0,1439.5 447.1,1440.0 447.2,1440.5 447.2,1441.1 447.3,1441.6 447.4,1442.1 447.4,1442.7 447.5,1443.0 447.5,1443.2 447.6,1443.8 447.6,1444.3 447.7,1444.9 447.8,1445.5 447.8,1446.1 447.9,1446.7 448.0,1447.3 448.0,1447.9 448.1,1448.5 448.2,1449.1 448.3,1449.7 448.3,1450.4 448.4,1451.0 448.5,1451.7 448.5,1452.3 448.6,1453.0 448.7,1453.7 448.7,1454.4 448.8,1455.0 448.9,1455.7 448.9,1456.5 449.0,1457.2 449.1,1457.9 449.2,1458.6 449.2,1459.0 449.2,1459.4 449.3,1460.1 449.4,1460.9 449.4,1461.7 449.5,1462.4 449.6,1463.2 449.6,1464.0 449.7,1464.8 449.8,1465.7 449.8,1466.5 449.9,1467.3 450.0,1468.2 450.1,1469.0 450.1,1469.9 450.2,1470.8 450.3,1471.7 450.3,1472.6 450.4,1473.5 450.5,1474.4 450.5,1475.3 450.6,1476.3 450.7,1477.2 450.7,1478.2 450.8,1479.2 450.9,1480.2 450.9,1480.7 450.9,1481.2 451.0,1482.2 451.1,1483.2 451.2,1484.2 451.2,1485.3 451.3,1486.3 451.4,1487.4 451.4,1488.5 451.5,1489.6 451.6,1490.7 451.6,1491.9 451.7,1493.0 451.8,1494.2 451.8,1495.3 451.9,1496.5 452.0,1497.7 452.1,1498.9 452.1,1500.1 452.2,1501.4 452.3,1502.6 452.3,1503.9 452.4,1505.2 452.5,1506.5 452.5,1507.8 452.6,1509.2 452.6,1509.8 452.7,1510.5 452.7,1511.9 452.8,1513.2 452.9,1514.6 452.9,1516.1 453.0,1517.5 453.1,1518.9 453.2,1520.4 453.2,1521.9 453.3,1523.4 453.4,1524.9 453.4,1526.4 453.5,1528.0 453.6,1526.4 453.6,1524.9 453.7,1523.4 453.8,1521.9 453.8,1520.4 453.9,1518.9 454.0,1517.5 454.1,1516.1 454.1,1514.6 454.2,1513.2 454.3,1511.9 454.3,1510.5 454.4,1509.8 454.4,1509.2 454.5,1507.8 454.5,1506.5 454.6,1505.2 454.7,1503.9 454.7,1502.6 454.8,1501.4 454.9,1500.1 454.9,1498.9 455.0,1497.7 455.1,1496.5 455.2,1495.3 455.2,1494.2 455.3,1493.0 455.4,1491.9 455.4,1490.7 455.5,1489.6 455.6,1488.5 455.6,1487.4 455.7,1486.3 455.8,1485.3 455.8,1484.2 455.9,1483.2 456.0,1482.2 456.1,1481.2 456.1,1480.7 456.1,1480.2 456.2,1479.2 456.3,1478.2 456.3,1477.2 456.4,1476.3 456.5,1475.3 456.5,1474.4 456.6,1473.5 456.7,1472.6 456.7,1471.7 456.8,1470.8 456.9,1469.9 456.9,1469.0 457.0,1468.2 457.1,1467.3 457.2,1466.5 457.2,1465.7 457.3,1464.8 457.4,1464.0 457.4,1463.2 457.5,1462.4 457.6,1461.7 457.6,1460.9 457.7,1460.1 457.8,1459.4 457.8,1459.0 457.8,1458.6 457.9,1457.9 458.0,1457.2 458.1,1456.5 458.1,1455.7 458.2,1455.0 458.3,1454.4 458.3,1453.7 458.4,1453.0 458.5,1452.3 458.5,1451.7 458.6,1451.0 458.7,1450.4 458.7,1449.7 458.8,1449.1 458.9,1448.5 459.0,1447.9 459.0,1447.3 459.1,1446.7 459.2,1446.1 459.2,1445.5 459.3,1444.9 459.4,1444.3 459.4,1443.8 459.5,1443.2 459.5,1443.0 459.6,1442.7 459.6,1442.1 459.7,1441.6 459.8,1441.1 459.8,1440.5 459.9,1440.0 460.0,1439.5 460.1,1439.0 460.1,1438.5 460.2,1438.0 460.3,1437.5 460.3,1437.0 460.4,1436.6 460.5,1436.1 460.5,1435.6 460.6,1435.2 460.7,1434.7 460.7,1434.3 460.8,1433.8 460.9,1433.4 461.0,1433.0 461.0,1432.5 461.1,1432.1 461.2,1431.7 461.2,1431.3 461.3,1431.1 461.3,1430.9 461.4,1430.5 461.4,1430.1 461.5,1429.7 461.6,1429.3 461.6,1428.9 461.7,1428.5 461.8,1428.2 461.8,1427.8 461.9,1427.4 462.0,1427.1 462.1,1426.7 462.1,1426.4 462.2,1426.0 462.3,1425.7 462.3,1425.3 462.4,1425.0 462.5,1424.7 462.5,1424.3 462.6,1424.0 462.7,1423.7 462.7,1423.4 462.8,1423.1 462.9,1422.8 463.0,1422.5 463.0,1422.3 463.0,1422.2 463.1,1421.9 463.2,1421.6 463.2,1421.3 463.3,1421.0 463.4,1420.7 463.4,1420.4 463.5,1420.2 463.6,1419.9 463.6,1419.6 463.7,1419.3 463.8,1419.1 463.9,1418.8 463.9,1418.6 464.0,1418.3 464.1,1418.1 464.1,1417.8 464.2,1417.6 464.3,1417.3 464.3,1417.1 464.4,1416.9 464.5,1416.6 464.5,1416.4 464.6,1416.2 464.7,1416.0 464.7,1415.8 464.7,1415.7 464.8,1415.5 464.9,1415.3 465.0,1415.1 465.0,1414.9 465.1,1414.7 465.2,1414.5 465.2,1414.3 465.3,1414.1 465.4,1413.9 465.4,1413.7 465.5,1413.5 465.6,1413.3 465.6,1413.1 465.7,1412.9 465.8,1412.7 465.9,1412.6 465.9,1412.4 466.0,1412.2 466.1,1412.0 466.1,1411.9 466.2,1411.7 466.3,1411.5 466.3,1411.4 466.4,1411.2 466.4,1411.1 466.5,1411.0 466.5,1410.9 466.6,1410.7 466.7,1410.6 466.7,1410.4 466.8,1410.3 466.9,1410.1 467.0,1410.0 467.0,1409.8 467.1,1409.7 467.2,1409.5 467.2,1409.4 467.3,1409.2 467.4,1409.1 467.4,1409.0 467.5,1408.8 467.6,1408.7 467.6,1408.6 467.7,1408.5 467.8,1408.3 467.9,1408.2 467.9,1408.1 468.0,1408.0 468.1,1407.8 468.1,1407.7 468.2,1407.7 468.2,1407.6 468.3,1407.5 468.3,1407.4 468.4,1407.3 468.5,1407.1 468.5,1407.0 468.6,1406.9 468.7,1406.8 468.7,1406.7 468.8,1406.6 468.9,1406.5 469.0,1406.4 469.0,1406.3 469.1,1406.2 469.2,1406.1 469.2,1406.0 469.3,1405.9 469.4,1405.8 469.4,1405.7 469.5,1405.6 469.6,1405.6 469.6,1405.5 469.7,1405.4 469.8,1405.3 469.9,1405.2 469.9,1405.2 469.9,1405.1 470.0,1405.0 470.1,1405.0 470.1,1404.9 470.2,1404.8 470.3,1404.7 470.3,1404.6 470.4,1404.6 470.5,1404.5 470.5,1404.4 470.6,1404.3 470.7,1404.3" fill="none" stroke="#b02040" stroke-width="1.3" stroke-linejoin="round"/>
<line x1="109.5" y1="1083" x2="794.5" y2="1083" stroke="#2a2a2a" stroke-width="4.6" stroke-dasharray="0 17.71" stroke-linecap="round"/>
<line x1="109.5" y1="1305.5" x2="794.5" y2="1305.5" stroke="#2a2a2a" stroke-width="4.6" stroke-dasharray="0 17.71" stroke-linecap="round"/>
<rect x="108.5" y="861" width="690.0" height="667" fill="none" stroke="#333333" stroke-width="2.6"/>
<line x1="177.5" y1="1528" x2="177.5" y2="1515.5" stroke="#333333" stroke-width="2.4"/>
<line x1="177.5" y1="861" x2="177.5" y2="873.5" stroke="#333333" stroke-width="2.4"/>
<text x="177.5" y="1572" font-size="33" text-anchor="middle" fill="#000">−40</text>
<line x1="246.5" y1="1528" x2="246.5" y2="1521.5" stroke="#333333" stroke-width="2.4"/>
<line x1="246.5" y1="861" x2="246.5" y2="867.5" stroke="#333333" stroke-width="2.4"/>
<line x1="315.5" y1="1528" x2="315.5" y2="1515.5" stroke="#333333" stroke-width="2.4"/>
<line x1="315.5" y1="861" x2="315.5" y2="873.5" stroke="#333333" stroke-width="2.4"/>
<text x="315.5" y="1572" font-size="33" text-anchor="middle" fill="#000">−20</text>
<line x1="384.5" y1="1528" x2="384.5" y2="1521.5" stroke="#333333" stroke-width="2.4"/>
<line x1="384.5" y1="861" x2="384.5" y2="867.5" stroke="#333333" stroke-width="2.4"/>
<line x1="453.5" y1="1528" x2="453.5" y2="1515.5" stroke="#333333" stroke-width="2.4"/>
<line x1="453.5" y1="861" x2="453.5" y2="873.5" stroke="#333333" stroke-width="2.4"/>
<text x="453.5" y="1572" font-size="33" text-anchor="middle" fill="#000">0</text>
<line x1="522.5" y1="1528" x2="522.5" y2="1521.5" stroke="#333333" stroke-width="2.4"/>
<line x1="522.5" y1="861" x2="522.5" y2="867.5" stroke="#333333" stroke-width="2.4"/>
<line x1="591.5" y1="1528" x2="591.5" y2="1515.5" stroke="#333333" stroke-width="2.4"/>
<line x1="591.5" y1="861" x2="591.5" y2="873.5" stroke="#333333" stroke-width="2.4"/>
<text x="591.5" y="1572" font-size="33" text-anchor="middle" fill="#000">20</text>
<line x1="660.5" y1="1528" x2="660.5" y2="1521.5" stroke="#333333" stroke-width="2.4"/>
<line x1="660.5" y1="861" x2="660.5" y2="867.5" stroke="#333333" stroke-width="2.4"/>
<line x1="729.5" y1="1528" x2="729.5" y2="1515.5" stroke="#333333" stroke-width="2.4"/>
<line x1="729.5" y1="861" x2="729.5" y2="873.5" stroke="#333333" stroke-width="2.4"/>
<text x="729.5" y="1572" font-size="33" text-anchor="middle" fill="#000">40</text>
<line x1="108.5" y1="1028.0" x2="114.5" y2="1028.0" stroke="#333333" stroke-width="2.4"/>
<line x1="798.5" y1="1028.0" x2="792.5" y2="1028.0" stroke="#333333" stroke-width="2.4"/>
<line x1="108.5" y1="973.0" x2="117.5" y2="973.0" stroke="#333333" stroke-width="2.4"/>
<line x1="798.5" y1="973.0" x2="789.5" y2="973.0" stroke="#333333" stroke-width="2.4"/>
<line x1="108.5" y1="918.0" x2="114.5" y2="918.0" stroke="#333333" stroke-width="2.4"/>
<line x1="798.5" y1="918.0" x2="792.5" y2="918.0" stroke="#333333" stroke-width="2.4"/>
<line x1="108.5" y1="1083" x2="117.5" y2="1083" stroke="#333333" stroke-width="2.4"/>
<line x1="798.5" y1="1083" x2="789.5" y2="1083" stroke="#333333" stroke-width="2.4"/>
<text x="94.5" y="1095.0" font-size="33" text-anchor="end" fill="#000">0</text>
<text x="94.5" y="985.0" font-size="33" text-anchor="end" fill="#000">1</text>
<line x1="108.5" y1="1250.5" x2="114.5" y2="1250.5" stroke="#333333" stroke-width="2.4"/>
<line x1="798.5" y1="1250.5" x2="792.5" y2="1250.5" stroke="#333333" stroke-width="2.4"/>
<line x1="108.5" y1="1195.5" x2="117.5" y2="1195.5" stroke="#333333" stroke-width="2.4"/>
<line x1="798.5" y1="1195.5" x2="789.5" y2="1195.5" stroke="#333333" stroke-width="2.4"/>
<line x1="108.5" y1="1140.5" x2="114.5" y2="1140.5" stroke="#333333" stroke-width="2.4"/>
<line x1="798.5" y1="1140.5" x2="792.5" y2="1140.5" stroke="#333333" stroke-width="2.4"/>
<line x1="108.5" y1="1305.5" x2="117.5" y2="1305.5" stroke="#333333" stroke-width="2.4"/>
<line x1="798.5" y1="1305.5" x2="789.5" y2="1305.5" stroke="#333333" stroke-width="2.4"/>
<text x="94.5" y="1317.5" font-size="33" text-anchor="end" fill="#000">0</text>
<text x="94.5" y="1207.5" font-size="33" text-anchor="end" fill="#000">1</text>
<line x1="108.5" y1="1473.0" x2="114.5" y2="1473.0" stroke="#333333" stroke-width="2.4"/>
<line x1="798.5" y1="1473.0" x2="792.5" y2="1473.0" stroke="#333333" stroke-width="2.4"/>
<line x1="108.5" y1="1418.0" x2="117.5" y2="1418.0" stroke="#333333" stroke-width="2.4"/>
<line x1="798.5" y1="1418.0" x2="789.5" y2="1418.0" stroke="#333333" stroke-width="2.4"/>
<line x1="108.5" y1="1363.0" x2="114.5" y2="1363.0" stroke="#333333" stroke-width="2.4"/>
<line x1="798.5" y1="1363.0" x2="792.5" y2="1363.0" stroke="#333333" stroke-width="2.4"/>
<line x1="108.5" y1="1528" x2="117.5" y2="1528" stroke="#333333" stroke-width="2.4"/>
<line x1="798.5" y1="1528" x2="789.5" y2="1528" stroke="#333333" stroke-width="2.4"/>
<text x="94.5" y="1540.0" font-size="33" text-anchor="end" fill="#000">0</text>
<text x="94.5" y="1430.0" font-size="33" text-anchor="end" fill="#000">1</text>
<text x="728" y="1028" font-size="28" text-anchor="end" fill="#000">2.7 mW</text>
<text x="728" y="1246.5" font-size="28" text-anchor="end" fill="#000">1.1 mW</text>
<text x="728" y="1475" font-size="28" text-anchor="end" fill="#000">0.2 mW</text>
<text y="1618" font-size="33" fill="#000"><tspan x="366">Delay</tspan><tspan x="458" font-style="italic">τ</tspan><tspan x="483">(ns)</tspan></text>
<text transform="translate(45,1230.5) rotate(-90)" font-size="34" fill="#000"><tspan x="0" y="0" font-style="italic">g</tspan><tspan x="21" y="-12" font-size="22">2</tspan><tspan x="35" y="0">(</tspan><tspan x="48" y="0" font-style="italic">τ</tspan><tspan x="63" y="0">)</tspan></text>
<text x="857" y="29.5" font-size="47" font-weight="bold" fill="#000">c</text>
<polyline points="973.1,403.0 974.6,392.0 976.1,381.9 977.6,372.5 979.1,363.7 980.5,355.5 982.0,347.9 983.5,340.7 985.0,333.9 986.5,327.6 988.0,321.6 989.5,315.9 991.0,310.5 992.5,305.4 993.9,300.6 995.4,296.0 996.9,291.6 998.4,287.5 999.9,283.5 1001.4,279.7 1002.9,276.1 1004.4,272.6 1005.9,269.3 1007.3,266.1 1008.8,263.1 1010.3,260.1 1011.8,257.3 1013.3,254.6 1014.8,252.0 1016.3,249.5 1017.8,247.1 1019.3,244.7 1020.7,242.5 1022.2,240.3 1023.7,238.2 1025.2,236.2 1026.7,234.2 1028.2,232.3 1029.7,230.5 1031.2,228.7 1032.6,227.0 1034.1,225.3 1035.6,223.7 1037.1,222.1 1038.6,220.5 1040.1,219.0 1041.6,217.6 1043.1,216.2 1044.6,214.8 1046.0,213.5 1047.5,212.2 1049.0,210.9 1050.5,209.7 1052.0,208.5 1053.5,207.3 1055.0,206.2 1056.5,205.1 1058.0,204.0 1059.4,202.9 1060.9,201.9 1062.4,200.9 1063.9,199.9 1065.4,198.9 1066.9,198.0 1068.4,197.1 1069.9,196.2 1071.4,195.3 1072.8,194.4 1074.3,193.6 1075.8,192.7 1077.3,191.9 1078.8,191.1 1080.3,190.4 1081.8,189.6 1083.3,188.9 1084.8,188.1 1086.2,187.4 1087.7,186.7 1089.2,186.0 1090.7,185.4 1092.2,184.7 1093.7,184.0 1095.2,183.4 1096.7,182.8 1098.1,182.2 1099.6,181.6 1101.1,181.0 1102.6,180.4 1104.1,179.8 1105.6,179.3 1107.1,178.7 1108.6,178.2 1110.1,177.6 1111.5,177.1 1113.0,176.6 1114.5,176.1 1116.0,175.6 1117.5,175.1 1119.0,174.6 1120.5,174.1 1122.0,173.7 1123.5,173.2 1124.9,172.8 1126.4,172.3 1127.9,171.9 1129.4,171.5 1130.9,171.0 1132.4,170.6 1133.9,170.2 1135.4,169.8 1136.9,169.4 1138.3,169.0 1139.8,168.6 1141.3,168.2 1142.8,167.8 1144.3,167.5 1145.8,167.1 1147.3,166.7 1148.8,166.4 1150.2,166.0 1151.7,165.7 1153.2,165.4 1154.7,165.0 1156.2,164.7 1157.7,164.4 1159.2,164.0 1160.7,163.7 1162.2,163.4 1163.6,163.1 1165.1,162.8 1166.6,162.5 1168.1,162.2 1169.6,161.9 1171.1,161.6 1172.6,161.3 1174.1,161.0 1175.6,160.7 1177.0,160.5 1178.5,160.2 1180.0,159.9 1181.5,159.6 1183.0,159.4 1184.5,159.1 1186.0,158.9 1187.5,158.6 1189.0,158.4 1190.4,158.1 1191.9,157.9 1193.4,157.6 1194.9,157.4 1196.4,157.1 1197.9,156.9 1199.4,156.7 1200.9,156.4 1202.4,156.2 1203.8,156.0 1205.3,155.8 1206.8,155.5 1208.3,155.3 1209.8,155.1 1211.3,154.9 1212.8,154.7 1214.3,154.5 1215.7,154.3 1217.2,154.1 1218.7,153.9 1220.2,153.7 1221.7,153.5 1223.2,153.3 1224.7,153.1 1226.2,152.9 1227.7,152.7 1229.1,152.5 1230.6,152.3 1232.1,152.1 1233.6,152.0 1235.1,151.8 1236.6,151.6 1238.1,151.4 1239.6,151.3 1241.1,151.1 1242.5,150.9 1244.0,150.7 1245.5,150.6 1247.0,150.4 1248.5,150.2 1250.0,150.1 1251.5,149.9 1253.0,149.8 1254.5,149.6 1255.9,149.4 1257.4,149.3 1258.9,149.1 1260.4,149.0 1261.9,148.8 1263.4,148.7 1264.9,148.5 1266.4,148.4 1267.8,148.2 1269.3,148.1 1270.8,147.9 1272.3,147.8 1273.8,147.7 1275.3,147.5 1276.8,147.4 1278.3,147.2 1279.8,147.1 1281.2,147.0 1282.7,146.8 1284.2,146.7 1285.7,146.6 1287.2,146.4 1288.7,146.3 1290.2,146.2 1291.7,146.1 1293.2,145.9 1294.6,145.8 1296.1,145.7 1297.6,145.6 1299.1,145.4 1300.6,145.3 1302.1,145.2 1303.6,145.1 1305.1,145.0 1306.6,144.8 1308.0,144.7 1309.5,144.6 1311.0,144.5 1312.5,144.4 1314.0,144.3 1315.5,144.2 1317.0,144.0 1318.5,143.9 1320.0,143.8 1321.4,143.7 1322.9,143.6 1324.4,143.5 1325.9,143.4 1327.4,143.3 1328.9,143.2 1330.4,143.1 1331.9,143.0 1333.3,142.9 1334.8,142.8 1336.3,142.7 1337.8,142.6 1339.3,142.5 1340.8,142.4 1342.3,142.3 1343.8,142.2 1345.3,142.1 1346.7,142.0 1348.2,141.9 1349.7,141.8 1351.2,141.7 1352.7,141.6 1354.2,141.5 1355.7,141.4 1357.2,141.3 1358.7,141.3 1360.1,141.2 1361.6,141.1 1363.1,141.0 1364.6,140.9 1366.1,140.8 1367.6,140.7 1369.1,140.6 1370.6,140.6 1372.1,140.5 1373.5,140.4 1375.0,140.3 1376.5,140.2 1378.0,140.1 1379.5,140.1 1381.0,140.0 1382.5,139.9 1384.0,139.8 1385.4,139.7 1386.9,139.6 1388.4,139.6 1389.9,139.5 1391.4,139.4 1392.9,139.3 1394.4,139.3 1395.9,139.2 1397.4,139.1 1398.8,139.0 1400.3,139.0 1401.8,138.9 1403.3,138.8 1404.8,138.7 1406.3,138.7 1407.8,138.6 1409.3,138.5 1410.8,138.4 1412.2,138.4 1413.7,138.3 1415.2,138.2 1416.7,138.2 1418.2,138.1" fill="none" stroke="#c8222f" stroke-width="3.2"/>
<circle cx="973.6" cy="403.8" r="5.6" fill="#000"/>
<circle cx="978.8" cy="370.3" r="5.6" fill="#000"/>
<circle cx="988.2" cy="329.8" r="5.6" fill="#000"/>
<circle cx="996.6" cy="289.9" r="5.6" fill="#000"/>
<circle cx="1009.3" cy="273.6" r="5.6" fill="#000"/>
<circle cx="1020.2" cy="251.6" r="5.6" fill="#000"/>
<circle cx="1037.6" cy="249.4" r="5.6" fill="#000"/>
<circle cx="1056.4" cy="219.4" r="5.6" fill="#000"/>
<circle cx="1079.4" cy="187.0" r="5.6" fill="#000"/>
<circle cx="1095.9" cy="198.5" r="5.6" fill="#000"/>
<circle cx="1112.4" cy="184.8" r="5.6" fill="#000"/>
<circle cx="1131.2" cy="176.8" r="5.6" fill="#000"/>
<circle cx="1159.9" cy="168.5" r="5.6" fill="#000"/>
<circle cx="1191.9" cy="163.7" r="5.6" fill="#000"/>
<circle cx="1215.4" cy="155.9" r="5.6" fill="#000"/>
<circle cx="1263.4" cy="139.6" r="5.6" fill="#000"/>
<circle cx="1286.9" cy="133.4" r="5.6" fill="#000"/>
<circle cx="1362.2" cy="128.6" r="5.6" fill="#000"/>
<circle cx="1418.2" cy="122.9" r="5.6" fill="#000"/>
<rect x="969.5" y="42" width="516.0" height="402" fill="none" stroke="#333333" stroke-width="2.8"/>
<line x1="1015.5" y1="444" x2="1015.5" y2="439" stroke="#333333" stroke-width="2.4"/>
<line x1="1015.5" y1="42" x2="1015.5" y2="47" stroke="#333333" stroke-width="2.4"/>
<line x1="1062.5" y1="444" x2="1062.5" y2="435" stroke="#333333" stroke-width="2.4"/>
<line x1="1062.5" y1="42" x2="1062.5" y2="51" stroke="#333333" stroke-width="2.4"/>
<line x1="1109.5" y1="444" x2="1109.5" y2="439" stroke="#333333" stroke-width="2.4"/>
<line x1="1109.5" y1="42" x2="1109.5" y2="47" stroke="#333333" stroke-width="2.4"/>
<line x1="1156.6" y1="444" x2="1156.6" y2="435" stroke="#333333" stroke-width="2.4"/>
<line x1="1156.6" y1="42" x2="1156.6" y2="51" stroke="#333333" stroke-width="2.4"/>
<line x1="1203.7" y1="444" x2="1203.7" y2="439" stroke="#333333" stroke-width="2.4"/>
<line x1="1203.7" y1="42" x2="1203.7" y2="47" stroke="#333333" stroke-width="2.4"/>
<line x1="1250.7" y1="444" x2="1250.7" y2="435" stroke="#333333" stroke-width="2.4"/>
<line x1="1250.7" y1="42" x2="1250.7" y2="51" stroke="#333333" stroke-width="2.4"/>
<line x1="1297.8" y1="444" x2="1297.8" y2="439" stroke="#333333" stroke-width="2.4"/>
<line x1="1297.8" y1="42" x2="1297.8" y2="47" stroke="#333333" stroke-width="2.4"/>
<line x1="1344.8" y1="444" x2="1344.8" y2="435" stroke="#333333" stroke-width="2.4"/>
<line x1="1344.8" y1="42" x2="1344.8" y2="51" stroke="#333333" stroke-width="2.4"/>
<line x1="1391.9" y1="444" x2="1391.9" y2="439" stroke="#333333" stroke-width="2.4"/>
<line x1="1391.9" y1="42" x2="1391.9" y2="47" stroke="#333333" stroke-width="2.4"/>
<line x1="1438.9" y1="444" x2="1438.9" y2="435" stroke="#333333" stroke-width="2.4"/>
<line x1="1438.9" y1="42" x2="1438.9" y2="51" stroke="#333333" stroke-width="2.4"/>
<text x="968.4" y="481.5" font-size="33" text-anchor="middle" fill="#000">0</text>
<text x="1062.5" y="481.5" font-size="33" text-anchor="middle" fill="#000">2</text>
<text x="1156.6" y="481.5" font-size="33" text-anchor="middle" fill="#000">4</text>
<text x="1250.7" y="481.5" font-size="33" text-anchor="middle" fill="#000">6</text>
<text x="1344.8" y="481.5" font-size="33" text-anchor="middle" fill="#000">8</text>
<text x="1438.9" y="481.5" font-size="33" text-anchor="middle" fill="#000">10</text>
<line x1="969.5" y1="310.0" x2="978.5" y2="310.0" stroke="#333333" stroke-width="2.4"/>
<line x1="1485.5" y1="310.0" x2="1476.5" y2="310.0" stroke="#333333" stroke-width="2.4"/>
<line x1="969.5" y1="176.0" x2="978.5" y2="176.0" stroke="#333333" stroke-width="2.4"/>
<line x1="1485.5" y1="176.0" x2="1476.5" y2="176.0" stroke="#333333" stroke-width="2.4"/>
<line x1="969.5" y1="377.0" x2="974.5" y2="377.0" stroke="#333333" stroke-width="2.4"/>
<line x1="1485.5" y1="377.0" x2="1480.5" y2="377.0" stroke="#333333" stroke-width="2.4"/>
<line x1="969.5" y1="243.0" x2="974.5" y2="243.0" stroke="#333333" stroke-width="2.4"/>
<line x1="1485.5" y1="243.0" x2="1480.5" y2="243.0" stroke="#333333" stroke-width="2.4"/>
<line x1="969.5" y1="109.0" x2="974.5" y2="109.0" stroke="#333333" stroke-width="2.4"/>
<line x1="1485.5" y1="109.0" x2="1480.5" y2="109.0" stroke="#333333" stroke-width="2.4"/>
<text x="955.5" y="455.0" font-size="33" text-anchor="end" fill="#000">0.0</text>
<text x="955.5" y="321.0" font-size="33" text-anchor="end" fill="#000">0.5</text>
<text x="955.5" y="187.0" font-size="33" text-anchor="end" fill="#000">1.0</text>
<text x="955.5" y="53.0" font-size="33" text-anchor="end" fill="#000">1.5</text>
<text x="1227.5" y="531.0" font-size="33" text-anchor="middle" fill="#000">Laser power (mW)</text>
<text transform="translate(886,241) rotate(-90)" font-size="34" font-style="italic" text-anchor="middle" fill="#000">a</text>
<text x="857" y="580" font-size="47" font-weight="bold" fill="#000">d</text>
<polyline points="980.0,721.5 981.5,723.6 983.0,725.7 984.5,727.8 985.9,729.8 987.4,731.8 988.9,733.8 990.4,735.7 991.9,737.6 993.4,739.5 994.8,741.4 996.3,743.2 997.8,745.0 999.3,746.8 1000.8,748.5 1002.2,750.3 1003.7,752.0 1005.2,753.7 1006.7,755.3 1008.2,757.0 1009.7,758.6 1011.1,760.2 1012.6,761.7 1014.1,763.3 1015.6,764.8 1017.1,766.3 1018.6,767.8 1020.0,769.3 1021.5,770.8 1023.0,772.2 1024.5,773.6 1026.0,775.0 1027.5,776.4 1028.9,777.8 1030.4,779.1 1031.9,780.4 1033.4,781.7 1034.9,783.0 1036.4,784.3 1037.8,785.6 1039.3,786.8 1040.8,788.1 1042.3,789.3 1043.8,790.5 1045.3,791.7 1046.7,792.9 1048.2,794.0 1049.7,795.2 1051.2,796.3 1052.7,797.5 1054.2,798.6 1055.6,799.7 1057.1,800.8 1058.6,801.9 1060.1,802.9 1061.6,804.0 1063.1,805.0 1064.5,806.0 1066.0,807.1 1067.5,808.1 1069.0,809.1 1070.5,810.1 1072.0,811.0 1073.4,812.0 1074.9,813.0 1076.4,813.9 1077.9,814.8 1079.4,815.8 1080.9,816.7 1082.3,817.6 1083.8,818.5 1085.3,819.4 1086.8,820.3 1088.3,821.2 1089.7,822.0 1091.2,822.9 1092.7,823.7 1094.2,824.6 1095.7,825.4 1097.2,826.2 1098.6,827.0 1100.1,827.8 1101.6,828.6 1103.1,829.4 1104.6,830.2 1106.1,831.0 1107.5,831.8 1109.0,832.5 1110.5,833.3 1112.0,834.0 1113.5,834.8 1115.0,835.5 1116.4,836.2 1117.9,836.9 1119.4,837.7 1120.9,838.4 1122.4,839.1 1123.9,839.8 1125.3,840.5 1126.8,841.1 1128.3,841.8 1129.8,842.5 1131.3,843.2 1132.8,843.8 1134.2,844.5 1135.7,845.1 1137.2,845.8 1138.7,846.4 1140.2,847.0 1141.7,847.7 1143.1,848.3 1144.6,848.9 1146.1,849.5 1147.6,850.1 1149.1,850.7 1150.6,851.3 1152.0,851.9 1153.5,852.5 1155.0,853.1 1156.5,853.7 1158.0,854.2 1159.5,854.8 1160.9,855.4 1162.4,855.9 1163.9,856.5 1165.4,857.0 1166.9,857.6 1168.4,858.1 1169.8,858.6 1171.3,859.2 1172.8,859.7 1174.3,860.2 1175.8,860.8 1177.3,861.3 1178.7,861.8 1180.2,862.3 1181.7,862.8 1183.2,863.3 1184.7,863.8 1186.1,864.3 1187.6,864.8 1189.1,865.3 1190.6,865.7 1192.1,866.2 1193.6,866.7 1195.0,867.2 1196.5,867.6 1198.0,868.1 1199.5,868.6 1201.0,869.0 1202.5,869.5 1203.9,869.9 1205.4,870.4 1206.9,870.8 1208.4,871.3 1209.9,871.7 1211.4,872.1 1212.8,872.6 1214.3,873.0 1215.8,873.4 1217.3,873.9 1218.8,874.3 1220.3,874.7 1221.7,875.1 1223.2,875.5 1224.7,875.9 1226.2,876.3 1227.7,876.7 1229.2,877.1 1230.6,877.5 1232.1,877.9 1233.6,878.3 1235.1,878.7 1236.6,879.1 1238.1,879.5 1239.5,879.9 1241.0,880.3 1242.5,880.6 1244.0,881.0 1245.5,881.4 1247.0,881.8 1248.4,882.1 1249.9,882.5 1251.4,882.9 1252.9,883.2 1254.4,883.6 1255.9,883.9 1257.3,884.3 1258.8,884.6 1260.3,885.0 1261.8,885.3 1263.3,885.7 1264.8,886.0 1266.2,886.4 1267.7,886.7 1269.2,887.0 1270.7,887.4 1272.2,887.7 1273.7,888.0 1275.1,888.4 1276.6,888.7 1278.1,889.0 1279.6,889.3 1281.1,889.7 1282.5,890.0 1284.0,890.3 1285.5,890.6 1287.0,890.9 1288.5,891.2 1290.0,891.6 1291.4,891.9 1292.9,892.2 1294.4,892.5 1295.9,892.8 1297.4,893.1 1298.9,893.4 1300.3,893.7 1301.8,894.0 1303.3,894.3 1304.8,894.5 1306.3,894.8 1307.8,895.1 1309.2,895.4 1310.7,895.7 1312.2,896.0 1313.7,896.3 1315.2,896.5 1316.7,896.8 1318.1,897.1 1319.6,897.4 1321.1,897.7 1322.6,897.9 1324.1,898.2 1325.6,898.5 1327.0,898.7 1328.5,899.0 1330.0,899.3 1331.5,899.5 1333.0,899.8 1334.5,900.1 1335.9,900.3 1337.4,900.6 1338.9,900.8 1340.4,901.1 1341.9,901.3 1343.4,901.6 1344.8,901.8 1346.3,902.1 1347.8,902.3 1349.3,902.6 1350.8,902.8 1352.3,903.1 1353.7,903.3 1355.2,903.6 1356.7,903.8 1358.2,904.0 1359.7,904.3 1361.2,904.5 1362.6,904.7 1364.1,905.0 1365.6,905.2 1367.1,905.4 1368.6,905.7 1370.0,905.9 1371.5,906.1 1373.0,906.4 1374.5,906.6 1376.0,906.8 1377.5,907.0 1378.9,907.3 1380.4,907.5 1381.9,907.7 1383.4,907.9 1384.9,908.1 1386.4,908.4 1387.8,908.6 1389.3,908.8 1390.8,909.0 1392.3,909.2 1393.8,909.4 1395.3,909.6 1396.7,909.9 1398.2,910.1 1399.7,910.3 1401.2,910.5 1402.7,910.7 1404.2,910.9 1405.6,911.1 1407.1,911.3 1408.6,911.5 1410.1,911.7 1411.6,911.9 1413.1,912.1 1414.5,912.3 1416.0,912.5 1417.5,912.7 1419.0,912.9 1420.5,913.1 1422.0,913.3 1423.4,913.5" fill="none" stroke="#c8222f" stroke-width="3.2"/>
<circle cx="980.0" cy="641.7" r="5.6" fill="#000"/>
<circle cx="985.0" cy="685.8" r="5.6" fill="#000"/>
<circle cx="994.3" cy="698.3" r="5.6" fill="#000"/>
<circle cx="1004.0" cy="730.0" r="5.6" fill="#000"/>
<circle cx="1016.0" cy="766.5" r="5.6" fill="#000"/>
<circle cx="1027.3" cy="794.2" r="5.6" fill="#000"/>
<circle cx="1044.0" cy="819.1" r="5.6" fill="#000"/>
<circle cx="1062.7" cy="830.8" r="5.6" fill="#000"/>
<circle cx="1086.0" cy="847.2" r="5.6" fill="#000"/>
<circle cx="1102.8" cy="847.2" r="5.6" fill="#000"/>
<circle cx="1119.0" cy="847.2" r="5.6" fill="#000"/>
<circle cx="1137.5" cy="867.3" r="5.6" fill="#000"/>
<circle cx="1165.7" cy="875.4" r="5.6" fill="#000"/>
<circle cx="1198.5" cy="891.8" r="5.6" fill="#000"/>
<circle cx="1222.4" cy="899.4" r="5.6" fill="#000"/>
<circle cx="1269.2" cy="907.5" r="5.6" fill="#000"/>
<circle cx="1292.2" cy="903.9" r="5.6" fill="#000"/>
<circle cx="1367.2" cy="923.1" r="5.6" fill="#000"/>
<circle cx="1423.4" cy="923.1" r="5.6" fill="#000"/>
<rect x="976.3" y="593.9" width="514.0" height="401.5" fill="none" stroke="#333333" stroke-width="2.8"/>
<line x1="1023.2" y1="995.4" x2="1023.2" y2="990.4" stroke="#333333" stroke-width="2.4"/>
<line x1="1023.2" y1="593.9" x2="1023.2" y2="598.9" stroke="#333333" stroke-width="2.4"/>
<line x1="1070.0" y1="995.4" x2="1070.0" y2="986.4" stroke="#333333" stroke-width="2.4"/>
<line x1="1070.0" y1="593.9" x2="1070.0" y2="602.9" stroke="#333333" stroke-width="2.4"/>
<line x1="1116.9" y1="995.4" x2="1116.9" y2="990.4" stroke="#333333" stroke-width="2.4"/>
<line x1="1116.9" y1="593.9" x2="1116.9" y2="598.9" stroke="#333333" stroke-width="2.4"/>
<line x1="1163.8" y1="995.4" x2="1163.8" y2="986.4" stroke="#333333" stroke-width="2.4"/>
<line x1="1163.8" y1="593.9" x2="1163.8" y2="602.9" stroke="#333333" stroke-width="2.4"/>
<line x1="1210.6" y1="995.4" x2="1210.6" y2="990.4" stroke="#333333" stroke-width="2.4"/>
<line x1="1210.6" y1="593.9" x2="1210.6" y2="598.9" stroke="#333333" stroke-width="2.4"/>
<line x1="1257.5" y1="995.4" x2="1257.5" y2="986.4" stroke="#333333" stroke-width="2.4"/>
<line x1="1257.5" y1="593.9" x2="1257.5" y2="602.9" stroke="#333333" stroke-width="2.4"/>
<line x1="1304.4" y1="995.4" x2="1304.4" y2="990.4" stroke="#333333" stroke-width="2.4"/>
<line x1="1304.4" y1="593.9" x2="1304.4" y2="598.9" stroke="#333333" stroke-width="2.4"/>
<line x1="1351.3" y1="995.4" x2="1351.3" y2="986.4" stroke="#333333" stroke-width="2.4"/>
<line x1="1351.3" y1="593.9" x2="1351.3" y2="602.9" stroke="#333333" stroke-width="2.4"/>
<line x1="1398.1" y1="995.4" x2="1398.1" y2="990.4" stroke="#333333" stroke-width="2.4"/>
<line x1="1398.1" y1="593.9" x2="1398.1" y2="598.9" stroke="#333333" stroke-width="2.4"/>
<line x1="1445.0" y1="995.4" x2="1445.0" y2="986.4" stroke="#333333" stroke-width="2.4"/>
<line x1="1445.0" y1="593.9" x2="1445.0" y2="602.9" stroke="#333333" stroke-width="2.4"/>
<text x="976.3" y="1034.4" font-size="33" text-anchor="middle" fill="#000">0</text>
<text x="1070.0" y="1034.4" font-size="33" text-anchor="middle" fill="#000">2</text>
<text x="1163.8" y="1034.4" font-size="33" text-anchor="middle" fill="#000">4</text>
<text x="1257.5" y="1034.4" font-size="33" text-anchor="middle" fill="#000">6</text>
<text x="1351.3" y="1034.4" font-size="33" text-anchor="middle" fill="#000">8</text>
<text x="1445.0" y="1034.4" font-size="33" text-anchor="middle" fill="#000">10</text>
<line x1="976.3" y1="794.6" x2="985.3" y2="794.6" stroke="#333333" stroke-width="2.4"/>
<line x1="1490.3" y1="794.6" x2="1481.3" y2="794.6" stroke="#333333" stroke-width="2.4"/>
<line x1="976.3" y1="895.0" x2="981.3" y2="895.0" stroke="#333333" stroke-width="2.4"/>
<line x1="1490.3" y1="895.0" x2="1485.3" y2="895.0" stroke="#333333" stroke-width="2.4"/>
<line x1="976.3" y1="694.3" x2="981.3" y2="694.3" stroke="#333333" stroke-width="2.4"/>
<line x1="1490.3" y1="694.3" x2="1485.3" y2="694.3" stroke="#333333" stroke-width="2.4"/>
<text x="962.3" y="1006.4" font-size="33" text-anchor="end" fill="#000">0.0</text>
<text x="962.3" y="805.6" font-size="33" text-anchor="end" fill="#000">0.5</text>
<text x="962.3" y="604.9" font-size="33" text-anchor="end" fill="#000">1.0</text>
<text x="1233.3" y="1082.4" font-size="33" text-anchor="middle" fill="#000">Laser power (mW)</text>
<text transform="translate(884,794) rotate(-90)" font-size="33" text-anchor="middle" fill="#000"><tspan font-style="italic" font-size="27" fill="#333">τ</tspan><tspan font-size="21" dy="7" fill="#333">1</tspan><tspan dy="-7" dx="4"> (ns)</tspan></text>
<text x="857" y="1113.5" font-size="47" font-weight="bold" fill="#000">e</text>
<polyline points="973.2,1182.9 974.7,1205.9 976.2,1225.7 977.7,1242.9 979.2,1258.0 980.7,1271.4 982.2,1283.3 983.7,1294.0 985.2,1303.7 986.8,1312.5 988.3,1320.5 989.8,1327.8 991.3,1334.5 992.8,1340.6 994.3,1346.3 995.8,1351.6 997.3,1356.6 998.8,1361.1 1000.3,1365.4 1001.9,1369.4 1003.4,1373.2 1004.9,1376.8 1006.4,1380.1 1007.9,1383.2 1009.4,1386.2 1010.9,1389.0 1012.4,1391.7 1013.9,1394.2 1015.5,1396.6 1017.0,1398.9 1018.5,1401.1 1020.0,1403.2 1021.5,1405.2 1023.0,1407.1 1024.5,1408.9 1026.0,1410.7 1027.5,1412.3 1029.0,1413.9 1030.6,1415.5 1032.1,1417.0 1033.6,1418.4 1035.1,1419.8 1036.6,1421.1 1038.1,1422.3 1039.6,1423.6 1041.1,1424.8 1042.6,1425.9 1044.2,1427.0 1045.7,1428.1 1047.2,1429.1 1048.7,1430.1 1050.2,1431.1 1051.7,1432.0 1053.2,1432.9 1054.7,1433.8 1056.2,1434.7 1057.7,1435.5 1059.3,1436.3 1060.8,1437.1 1062.3,1437.9 1063.8,1438.6 1065.3,1439.3 1066.8,1440.0 1068.3,1440.7 1069.8,1441.4 1071.3,1442.0 1072.9,1442.7 1074.4,1443.3 1075.9,1443.9 1077.4,1444.5 1078.9,1445.0 1080.4,1445.6 1081.9,1446.2 1083.4,1446.7 1084.9,1447.2 1086.4,1447.7 1088.0,1448.2 1089.5,1448.7 1091.0,1449.2 1092.5,1449.6 1094.0,1450.1 1095.5,1450.5 1097.0,1451.0 1098.5,1451.4 1100.0,1451.8 1101.5,1452.2 1103.1,1452.6 1104.6,1453.0 1106.1,1453.4 1107.6,1453.8 1109.1,1454.1 1110.6,1454.5 1112.1,1454.9 1113.6,1455.2 1115.1,1455.6 1116.7,1455.9 1118.2,1456.2 1119.7,1456.5 1121.2,1456.9 1122.7,1457.2 1124.2,1457.5 1125.7,1457.8 1127.2,1458.1 1128.7,1458.4 1130.2,1458.7 1131.8,1458.9 1133.3,1459.2 1134.8,1459.5 1136.3,1459.8 1137.8,1460.0 1139.3,1460.3 1140.8,1460.5 1142.3,1460.8 1143.8,1461.0 1145.4,1461.3 1146.9,1461.5 1148.4,1461.7 1149.9,1462.0 1151.4,1462.2 1152.9,1462.4 1154.4,1462.6 1155.9,1462.9 1157.4,1463.1 1158.9,1463.3 1160.5,1463.5 1162.0,1463.7 1163.5,1463.9 1165.0,1464.1 1166.5,1464.3 1168.0,1464.5 1169.5,1464.7 1171.0,1464.9 1172.5,1465.1 1174.1,1465.2 1175.6,1465.4 1177.1,1465.6 1178.6,1465.8 1180.1,1465.9 1181.6,1466.1 1183.1,1466.3 1184.6,1466.5 1186.1,1466.6 1187.6,1466.8 1189.2,1466.9 1190.7,1467.1 1192.2,1467.3 1193.7,1467.4 1195.2,1467.6 1196.7,1467.7 1198.2,1467.9 1199.7,1468.0 1201.2,1468.1 1202.7,1468.3 1204.3,1468.4 1205.8,1468.6 1207.3,1468.7 1208.8,1468.8 1210.3,1469.0 1211.8,1469.1 1213.3,1469.2 1214.8,1469.4 1216.3,1469.5 1217.9,1469.6 1219.4,1469.8 1220.9,1469.9 1222.4,1470.0 1223.9,1470.1 1225.4,1470.2 1226.9,1470.4 1228.4,1470.5 1229.9,1470.6 1231.4,1470.7 1233.0,1470.8 1234.5,1470.9 1236.0,1471.0 1237.5,1471.2 1239.0,1471.3 1240.5,1471.4 1242.0,1471.5 1243.5,1471.6 1245.0,1471.7 1246.6,1471.8 1248.1,1471.9 1249.6,1472.0 1251.1,1472.1 1252.6,1472.2 1254.1,1472.3 1255.6,1472.4 1257.1,1472.5 1258.6,1472.6 1260.1,1472.7 1261.7,1472.8 1263.2,1472.9 1264.7,1473.0 1266.2,1473.0 1267.7,1473.1 1269.2,1473.2 1270.7,1473.3 1272.2,1473.4 1273.7,1473.5 1275.3,1473.6 1276.8,1473.7 1278.3,1473.7 1279.8,1473.8 1281.3,1473.9 1282.8,1474.0 1284.3,1474.1 1285.8,1474.1 1287.3,1474.2 1288.8,1474.3 1290.4,1474.4 1291.9,1474.5 1293.4,1474.5 1294.9,1474.6 1296.4,1474.7 1297.9,1474.8 1299.4,1474.8 1300.9,1474.9 1302.4,1475.0 1303.9,1475.1 1305.5,1475.1 1307.0,1475.2 1308.5,1475.3 1310.0,1475.3 1311.5,1475.4 1313.0,1475.5 1314.5,1475.5 1316.0,1475.6 1317.5,1475.7 1319.1,1475.7 1320.6,1475.8 1322.1,1475.9 1323.6,1475.9 1325.1,1476.0 1326.6,1476.1 1328.1,1476.1 1329.6,1476.2 1331.1,1476.3 1332.6,1476.3 1334.2,1476.4 1335.7,1476.4 1337.2,1476.5 1338.7,1476.6 1340.2,1476.6 1341.7,1476.7 1343.2,1476.7 1344.7,1476.8 1346.2,1476.8 1347.8,1476.9 1349.3,1477.0 1350.8,1477.0 1352.3,1477.1 1353.8,1477.1 1355.3,1477.2 1356.8,1477.2 1358.3,1477.3 1359.8,1477.3 1361.3,1477.4 1362.9,1477.5 1364.4,1477.5 1365.9,1477.6 1367.4,1477.6 1368.9,1477.7 1370.4,1477.7 1371.9,1477.8 1373.4,1477.8 1374.9,1477.9 1376.5,1477.9 1378.0,1478.0 1379.5,1478.0 1381.0,1478.1 1382.5,1478.1 1384.0,1478.2 1385.5,1478.2 1387.0,1478.2 1388.5,1478.3 1390.0,1478.3 1391.6,1478.4 1393.1,1478.4 1394.6,1478.5 1396.1,1478.5 1397.6,1478.6 1399.1,1478.6 1400.6,1478.7 1402.1,1478.7 1403.6,1478.7 1405.1,1478.8 1406.7,1478.8 1408.2,1478.9 1409.7,1478.9 1411.2,1479.0 1412.7,1479.0 1414.2,1479.0 1415.7,1479.1 1417.2,1479.1 1418.7,1479.2 1420.3,1479.2 1421.8,1479.2 1423.3,1479.3 1424.8,1479.3" fill="none" stroke="#c8222f" stroke-width="3.2"/>
<circle cx="973.6" cy="1184.9" r="5.6" fill="#000"/>
<circle cx="980.0" cy="1259.2" r="5.6" fill="#000"/>
<circle cx="989.4" cy="1316.6" r="5.6" fill="#000"/>
<circle cx="999.4" cy="1316.6" r="5.6" fill="#000"/>
<circle cx="1010.8" cy="1342.6" r="5.6" fill="#000"/>
<circle cx="1022.8" cy="1389.2" r="5.6" fill="#000"/>
<circle cx="1039.0" cy="1396.0" r="5.6" fill="#000"/>
<circle cx="1058.5" cy="1426.0" r="5.6" fill="#000"/>
<circle cx="1082.4" cy="1464.9" r="5.6" fill="#000"/>
<circle cx="1099.1" cy="1467.7" r="5.6" fill="#000"/>
<circle cx="1115.3" cy="1469.9" r="5.6" fill="#000"/>
<circle cx="1133.9" cy="1479.2" r="5.6" fill="#000"/>
<circle cx="1162.5" cy="1483.9" r="5.6" fill="#000"/>
<circle cx="1195.9" cy="1490.7" r="5.6" fill="#000"/>
<circle cx="1220.7" cy="1496.6" r="5.6" fill="#000"/>
<circle cx="1268.8" cy="1502.6" r="5.6" fill="#000"/>
<circle cx="1292.2" cy="1503.0" r="5.6" fill="#000"/>
<circle cx="1369.0" cy="1508.7" r="5.6" fill="#000"/>
<circle cx="1425.3" cy="1509.1" r="5.6" fill="#000"/>
<rect x="970.3" y="1127.5" width="520.9000000000001" height="401.9000000000001" fill="none" stroke="#333333" stroke-width="2.8"/>
<line x1="1018.0" y1="1529.4" x2="1018.0" y2="1524.4" stroke="#333333" stroke-width="2.4"/>
<line x1="1018.0" y1="1127.5" x2="1018.0" y2="1132.5" stroke="#333333" stroke-width="2.4"/>
<line x1="1065.7" y1="1529.4" x2="1065.7" y2="1520.4" stroke="#333333" stroke-width="2.4"/>
<line x1="1065.7" y1="1127.5" x2="1065.7" y2="1136.5" stroke="#333333" stroke-width="2.4"/>
<line x1="1113.4" y1="1529.4" x2="1113.4" y2="1524.4" stroke="#333333" stroke-width="2.4"/>
<line x1="1113.4" y1="1127.5" x2="1113.4" y2="1132.5" stroke="#333333" stroke-width="2.4"/>
<line x1="1161.1" y1="1529.4" x2="1161.1" y2="1520.4" stroke="#333333" stroke-width="2.4"/>
<line x1="1161.1" y1="1127.5" x2="1161.1" y2="1136.5" stroke="#333333" stroke-width="2.4"/>
<line x1="1208.8" y1="1529.4" x2="1208.8" y2="1524.4" stroke="#333333" stroke-width="2.4"/>
<line x1="1208.8" y1="1127.5" x2="1208.8" y2="1132.5" stroke="#333333" stroke-width="2.4"/>
<line x1="1256.4" y1="1529.4" x2="1256.4" y2="1520.4" stroke="#333333" stroke-width="2.4"/>
<line x1="1256.4" y1="1127.5" x2="1256.4" y2="1136.5" stroke="#333333" stroke-width="2.4"/>
<line x1="1304.1" y1="1529.4" x2="1304.1" y2="1524.4" stroke="#333333" stroke-width="2.4"/>
<line x1="1304.1" y1="1127.5" x2="1304.1" y2="1132.5" stroke="#333333" stroke-width="2.4"/>
<line x1="1351.8" y1="1529.4" x2="1351.8" y2="1520.4" stroke="#333333" stroke-width="2.4"/>
<line x1="1351.8" y1="1127.5" x2="1351.8" y2="1136.5" stroke="#333333" stroke-width="2.4"/>
<line x1="1399.5" y1="1529.4" x2="1399.5" y2="1524.4" stroke="#333333" stroke-width="2.4"/>
<line x1="1399.5" y1="1127.5" x2="1399.5" y2="1132.5" stroke="#333333" stroke-width="2.4"/>
<line x1="1447.2" y1="1529.4" x2="1447.2" y2="1520.4" stroke="#333333" stroke-width="2.4"/>
<line x1="1447.2" y1="1127.5" x2="1447.2" y2="1136.5" stroke="#333333" stroke-width="2.4"/>
<text x="970.3" y="1572.9" font-size="33" text-anchor="middle" fill="#000">0</text>
<text x="1065.7" y="1572.9" font-size="33" text-anchor="middle" fill="#000">2</text>
<text x="1161.1" y="1572.9" font-size="33" text-anchor="middle" fill="#000">4</text>
<text x="1256.4" y="1572.9" font-size="33" text-anchor="middle" fill="#000">6</text>
<text x="1351.8" y="1572.9" font-size="33" text-anchor="middle" fill="#000">8</text>
<text x="1447.2" y="1567.4" font-size="33" text-anchor="middle" fill="#000">10</text>
<line x1="970.3" y1="1449.0" x2="979.3" y2="1449.0" stroke="#333333" stroke-width="2.4"/>
<line x1="1491.2" y1="1449.0" x2="1482.2" y2="1449.0" stroke="#333333" stroke-width="2.4"/>
<line x1="970.3" y1="1368.6" x2="979.3" y2="1368.6" stroke="#333333" stroke-width="2.4"/>
<line x1="1491.2" y1="1368.6" x2="1482.2" y2="1368.6" stroke="#333333" stroke-width="2.4"/>
<line x1="970.3" y1="1288.3" x2="979.3" y2="1288.3" stroke="#333333" stroke-width="2.4"/>
<line x1="1491.2" y1="1288.3" x2="1482.2" y2="1288.3" stroke="#333333" stroke-width="2.4"/>
<line x1="970.3" y1="1207.9" x2="979.3" y2="1207.9" stroke="#333333" stroke-width="2.4"/>
<line x1="1491.2" y1="1207.9" x2="1482.2" y2="1207.9" stroke="#333333" stroke-width="2.4"/>
<line x1="970.3" y1="1489.2" x2="975.3" y2="1489.2" stroke="#333333" stroke-width="2.4"/>
<line x1="1491.2" y1="1489.2" x2="1486.2" y2="1489.2" stroke="#333333" stroke-width="2.4"/>
<line x1="970.3" y1="1408.8" x2="975.3" y2="1408.8" stroke="#333333" stroke-width="2.4"/>
<line x1="1491.2" y1="1408.8" x2="1486.2" y2="1408.8" stroke="#333333" stroke-width="2.4"/>
<line x1="970.3" y1="1328.5" x2="975.3" y2="1328.5" stroke="#333333" stroke-width="2.4"/>
<line x1="1491.2" y1="1328.5" x2="1486.2" y2="1328.5" stroke="#333333" stroke-width="2.4"/>
<line x1="970.3" y1="1248.1" x2="975.3" y2="1248.1" stroke="#333333" stroke-width="2.4"/>
<line x1="1491.2" y1="1248.1" x2="1486.2" y2="1248.1" stroke="#333333" stroke-width="2.4"/>
<line x1="970.3" y1="1167.7" x2="975.3" y2="1167.7" stroke="#333333" stroke-width="2.4"/>
<line x1="1491.2" y1="1167.7" x2="1486.2" y2="1167.7" stroke="#333333" stroke-width="2.4"/>
<text x="956.3" y="1540.4" font-size="33" text-anchor="end" fill="#000">0</text>
<text x="956.3" y="1460.0" font-size="33" text-anchor="end" fill="#000">5</text>
<text x="956.3" y="1379.6" font-size="33" text-anchor="end" fill="#000">10</text>
<text x="956.3" y="1299.3" font-size="33" text-anchor="end" fill="#000">15</text>
<text x="956.3" y="1218.9" font-size="33" text-anchor="end" fill="#000">20</text>
<text x="956.3" y="1138.5" font-size="33" text-anchor="end" fill="#000">25</text>
<text x="1233.2" y="1621.7" font-size="33" text-anchor="middle" fill="#000">Laser power (mW)</text>
<text transform="translate(886,1327) rotate(-90)" font-size="33" text-anchor="middle" fill="#000"><tspan font-style="italic" font-size="27" fill="#333">τ</tspan><tspan font-size="21" dy="7" fill="#333">2</tspan><tspan dy="-7" dx="4"> (ns)</tspan></text>
</svg></div></body></html>
